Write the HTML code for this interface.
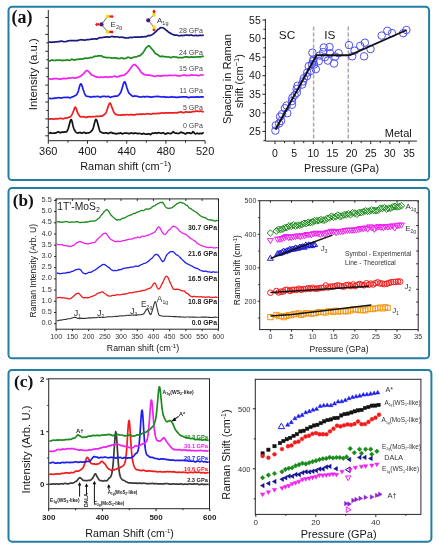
<!DOCTYPE html><html><head><meta charset="utf-8"><style>html,body{margin:0;padding:0;background:#fff;width:439px;height:550px;overflow:hidden}svg{display:block;filter:blur(0.3px)}</style></head><body>
<svg width="439" height="550" viewBox="0 0 439 550">
<rect x="0" y="0" width="439" height="550" fill="#fff"/>
<rect x="8.5" y="6.8" width="420.6" height="173.2" rx="3.6" ry="3.6" fill="none" stroke="#237ea3" stroke-width="2"/>
<rect x="8.5" y="188.1" width="420.6" height="170.2" rx="3.6" ry="3.6" fill="none" stroke="#237ea3" stroke-width="2"/>
<rect x="8.5" y="369.9" width="422.9" height="171.8" rx="3.6" ry="3.6" fill="none" stroke="#237ea3" stroke-width="2"/>
<text x="11.6" y="23.2" font-size="18" text-anchor="start" font-weight="bold" fill="#111" font-family='"Liberation Serif", serif' >(a)</text>
<text x="12.8" y="206" font-size="17.2" text-anchor="start" font-weight="bold" fill="#111" font-family='"Liberation Serif", serif' >(b)</text>
<text x="14" y="387.4" font-size="17.5" text-anchor="start" font-weight="bold" fill="#111" font-family='"Liberation Serif", serif' >(c)</text>
<line x1="48.3" y1="10" x2="48.3" y2="140.7" stroke="#262626" stroke-width="1" />
<line x1="48.3" y1="140.7" x2="205" y2="140.7" stroke="#262626" stroke-width="1" />
<line x1="45.3" y1="17.5" x2="48.3" y2="17.5" stroke="#262626" stroke-width="1" />
<line x1="46.3" y1="25.95" x2="48.3" y2="25.95" stroke="#262626" stroke-width="1" />
<line x1="45.3" y1="34.4" x2="48.3" y2="34.4" stroke="#262626" stroke-width="1" />
<line x1="46.3" y1="42.85" x2="48.3" y2="42.85" stroke="#262626" stroke-width="1" />
<line x1="45.3" y1="51.3" x2="48.3" y2="51.3" stroke="#262626" stroke-width="1" />
<line x1="46.3" y1="59.75" x2="48.3" y2="59.75" stroke="#262626" stroke-width="1" />
<line x1="45.3" y1="68.2" x2="48.3" y2="68.2" stroke="#262626" stroke-width="1" />
<line x1="46.3" y1="76.65" x2="48.3" y2="76.65" stroke="#262626" stroke-width="1" />
<line x1="45.3" y1="85.1" x2="48.3" y2="85.1" stroke="#262626" stroke-width="1" />
<line x1="46.3" y1="93.55" x2="48.3" y2="93.55" stroke="#262626" stroke-width="1" />
<line x1="45.3" y1="102" x2="48.3" y2="102" stroke="#262626" stroke-width="1" />
<line x1="46.3" y1="110.45" x2="48.3" y2="110.45" stroke="#262626" stroke-width="1" />
<line x1="45.3" y1="118.9" x2="48.3" y2="118.9" stroke="#262626" stroke-width="1" />
<line x1="46.3" y1="127.35" x2="48.3" y2="127.35" stroke="#262626" stroke-width="1" />
<line x1="45.3" y1="135.8" x2="48.3" y2="135.8" stroke="#262626" stroke-width="1" />
<line x1="48.3" y1="140.7" x2="48.3" y2="143.7" stroke="#262626" stroke-width="1" />
<line x1="67.9" y1="140.7" x2="67.9" y2="142.7" stroke="#262626" stroke-width="1" />
<line x1="87.5" y1="140.7" x2="87.5" y2="143.7" stroke="#262626" stroke-width="1" />
<line x1="107.1" y1="140.7" x2="107.1" y2="142.7" stroke="#262626" stroke-width="1" />
<line x1="126.7" y1="140.7" x2="126.7" y2="143.7" stroke="#262626" stroke-width="1" />
<line x1="146.3" y1="140.7" x2="146.3" y2="142.7" stroke="#262626" stroke-width="1" />
<line x1="165.9" y1="140.7" x2="165.9" y2="143.7" stroke="#262626" stroke-width="1" />
<line x1="185.5" y1="140.7" x2="185.5" y2="142.7" stroke="#262626" stroke-width="1" />
<line x1="205.1" y1="140.7" x2="205.1" y2="143.7" stroke="#262626" stroke-width="1" />
<text x="48.3" y="155.2" font-size="11" text-anchor="middle" font-weight="normal" fill="#161616" font-family='"Liberation Sans", sans-serif' >360</text>
<text x="87.5" y="155.2" font-size="11" text-anchor="middle" font-weight="normal" fill="#161616" font-family='"Liberation Sans", sans-serif' >400</text>
<text x="126.7" y="155.2" font-size="11" text-anchor="middle" font-weight="normal" fill="#161616" font-family='"Liberation Sans", sans-serif' >440</text>
<text x="165.9" y="155.2" font-size="11" text-anchor="middle" font-weight="normal" fill="#161616" font-family='"Liberation Sans", sans-serif' >480</text>
<text x="205.1" y="155.2" font-size="11" text-anchor="middle" font-weight="normal" fill="#161616" font-family='"Liberation Sans", sans-serif' >520</text>
<text x="125.8" y="169.5" font-size="10.9" text-anchor="middle" font-weight="normal" fill="#161616" font-family='"Liberation Sans", sans-serif' >Raman shift (cm<tspan dy="-4" font-size="7.2">−1</tspan><tspan dy="4">)</tspan></text>
<text x="0" y="0" font-size="11.4" text-anchor="middle" font-weight="normal" fill="#161616" font-family='"Liberation Sans", sans-serif' transform="translate(37.2,74.2) rotate(-90)">Intensity (a.u.)</text>
<path d="M48.8,133.23 L49.3,133.12 L49.8,132.95 L50.3,132.71 L50.8,132.68 L51.3,132.91 L51.8,133.15 L52.3,133.27 L52.8,133.27 L53.3,133.26 L53.8,133.22 L54.3,133.18 L54.8,133.16 L55.3,133.07 L55.8,132.93 L56.3,132.89 L56.8,132.52 L57.3,132.28 L57.8,131.76 L58.3,131.91 L58.8,131.8 L59.3,132.26 L59.8,132.45 L60.3,132.84 L60.8,132.53 L61.3,132.44 L61.8,132.09 L62.3,132.25 L62.8,132.18 L63.3,132.39 L63.8,132.08 L64.3,131.93 L64.8,131.95 L65.3,132 L65.8,132.04 L66.3,131.86 L66.8,131.49 L67.3,130.73 L67.8,129.75 L68.3,128.47 L68.8,126.56 L69.3,124.66 L69.8,122.69 L70.3,120.78 L70.8,119.81 L71.3,119.64 L71.8,120.72 L72.3,122.55 L72.8,124.92 L73.3,126.89 L73.8,128.45 L74.3,129.72 L74.8,130.54 L75.3,131.37 L75.8,131.99 L76.3,132.47 L76.8,132.79 L77.3,132.99 L77.8,133.08 L78.3,132.87 L78.8,132.85 L79.3,132.5 L79.8,132.54 L80.3,132.39 L80.8,132.66 L81.3,132.97 L81.8,133.16 L82.3,133.11 L82.8,132.92 L83.3,132.52 L83.8,132.4 L84.3,132.33 L84.8,132.74 L85.3,132.92 L85.8,133.34 L86.3,133.26 L86.8,133.03 L87.3,132.98 L87.8,132.87 L88.3,132.99 L88.8,132.82 L89.3,132.7 L89.8,132.39 L90.3,132.05 L90.8,131.72 L91.3,131.1 L91.8,130.77 L92.3,130.1 L92.8,129.27 L93.3,127.84 L93.8,125.96 L94.3,123.96 L94.8,121.85 L95.3,120.46 L95.8,119.36 L96.3,119.74 L96.8,120.48 L97.3,122.11 L97.8,123.78 L98.3,125.68 L98.8,127.5 L99.3,129.44 L99.8,130.84 L100.3,131.71 L100.8,132.04 L101.3,132.35 L101.8,132.38 L102.3,132.69 L102.8,132.92 L103.3,133.07 L103.8,133.05 L104.3,133.07 L104.8,132.97 L105.3,132.83 L105.8,132.84 L106.3,132.81 L106.8,133.08 L107.3,133.12 L107.8,133.49 L108.3,133.35 L108.8,133.4 L109.3,132.9 L109.8,132.66 L110.3,132.51 L110.8,132.41 L111.3,132.7 L111.8,132.6 L112.3,133.07 L112.8,132.79 L113.3,133.39 L113.8,133.26 L114.3,133.43 L114.8,133.41 L115.3,133.61 L115.8,133.83 L116.3,133.87 L116.8,133.85 L117.3,133.43 L117.8,133.35 L118.3,133.28 L118.8,133.5 L119.3,133.29 L119.8,133.3 L120.3,132.88 L120.8,133.11 L121.3,133.13 L121.8,133.66 L122.3,133.73 L122.8,133.87 L123.3,133.52 L123.8,133.33 L124.3,133.2 L124.8,133.16 L125.3,133.27 L125.8,133.09 L126.3,133 L126.8,133.12 L127.3,133.23 L127.8,133.39 L128.3,133.4 L128.8,133.63 L129.3,133.41 L129.8,133.57 L130.3,133.32 L130.8,133.04 L131.3,132.89 L131.8,133.03 L132.3,133.35 L132.8,133.34 L133.3,133.61 L133.8,133.36 L134.3,133.43 L134.8,133.19 L135.3,133.09 L135.8,133.09 L136.3,133.16 L136.8,133.5 L137.3,133.55 L137.8,133.67 L138.3,133.38 L138.8,133.46 L139.3,133.4 L139.8,133.5 L140.3,133.5 L140.8,133.73 L141.3,133.82 L141.8,134.07 L142.3,133.98 L142.8,133.66 L143.3,133.44 L143.8,133.42 L144.3,133.65 L144.8,133.87 L145.3,134.06 L145.8,134.1 L146.3,134.16 L146.8,134.14 L147.3,134.23 L147.8,133.83 L148.3,133.92 L148.8,133.65 L149.3,134 L149.8,134.12 L150.3,134.6 L150.8,134.45 L151.3,134 L151.8,133.56 L152.3,133.04 L152.8,133.07 L153.3,133.27 L153.8,133.37 L154.3,132.99 L154.8,132.83 L155.3,132.77 L155.8,132.92 L156.3,133.23 L156.8,133.37 L157.3,133.1 L157.8,132.91 L158.3,132.73 L158.8,132.61 L159.3,132.72 L159.8,132.9 L160.3,133.23 L160.8,133.27 L161.3,133.39 L161.8,133 L162.3,132.84 L162.8,132.78 L163.3,132.86 L163.8,133.12 L164.3,133.28 L164.8,133.82 L165.3,133.72 L165.8,134.04 L166.3,133.67 L166.8,133.73 L167.3,133.19 L167.8,133.22 L168.3,133.04 L168.8,133.17 L169.3,133.36 L169.8,133.47 L170.3,133.67 L170.8,133.58 L171.3,133.4 L171.8,133.08 L172.3,132.52 L172.8,131.92 L173.3,131.67 L173.8,132.06 L174.3,132.59 L174.8,133.04 L175.3,133.21 L175.8,133.21 L176.3,133.1 L176.8,133.34 L177.3,133.43 L177.8,133.47 L178.3,133.36 L178.8,133.38 L179.3,133.38 L179.8,133.02 L180.3,132.66 L180.8,132.05 L181.3,132.27 L181.8,132.33 L182.3,132.83 L182.8,132.73 L183.3,132.8 L183.8,132.97 L184.3,133.37 L184.8,133.72 L185.3,133.86 L185.8,133.89 L186.3,133.33 L186.8,133.01 L187.3,132.75 L187.8,132.9 L188.3,132.78 L188.8,133.06 L189.3,132.85 L189.8,133.07 L190.3,133.18 L190.8,133.42 L191.3,133.48 L191.8,133.17 L192.3,132.66 L192.8,131.68 L193.3,131.83 L193.8,132.17 L194.3,133.14 L194.8,133.57 L195.3,133.92 L195.8,133.72 L196.3,133.5 L196.8,133.33 L197.3,133.19 L197.8,133.41 L198.3,133.58 L198.8,133.79 L199.3,133.64 L199.8,133.38 L200.3,133.29 L200.8,133.36 L201.3,133.65 L201.8,133.61 L202.3,133.4 L202.8,133.04 L203.3,132.89 L203.8,132.99" fill="none" stroke="#111" stroke-width="1.7" stroke-linejoin="round"/>
<path d="M48.8,119.32 L49.3,119.2 L49.8,119.17 L50.3,118.96 L50.8,118.92 L51.3,118.76 L51.8,118.86 L52.3,118.8 L52.8,119.01 L53.3,119.07 L53.8,119.17 L54.3,119.09 L54.8,119.01 L55.3,118.88 L55.8,118.7 L56.3,118.71 L56.8,118.84 L57.3,118.9 L57.8,118.96 L58.3,118.78 L58.8,118.66 L59.3,118.35 L59.8,118.29 L60.3,118.29 L60.8,118.3 L61.3,118.45 L61.8,118.57 L62.3,118.75 L62.8,118.71 L63.3,118.81 L63.8,118.69 L64.3,118.54 L64.8,118.22 L65.3,118.02 L65.8,117.89 L66.3,118.05 L66.8,118.09 L67.3,118 L67.8,117.7 L68.3,117.47 L68.8,117.3 L69.3,117.27 L69.8,117.12 L70.3,116.82 L70.8,116.34 L71.3,115.71 L71.8,114.87 L72.3,113.85 L72.8,112.75 L73.3,111.46 L73.8,110.1 L74.3,108.64 L74.8,107.71 L75.3,107.21 L75.8,107.73 L76.3,108.81 L76.8,110.41 L77.3,111.93 L77.8,113.22 L78.3,114.23 L78.8,114.82 L79.3,115.49 L79.8,116.15 L80.3,116.74 L80.8,117.01 L81.3,116.96 L81.8,116.85 L82.3,116.69 L82.8,116.69 L83.3,116.78 L83.8,116.75 L84.3,116.89 L84.8,116.98 L85.3,117.3 L85.8,117.3 L86.3,117.38 L86.8,117.18 L87.3,117.07 L87.8,116.91 L88.3,116.8 L88.8,116.6 L89.3,116.57 L89.8,116.59 L90.3,116.75 L90.8,116.9 L91.3,116.88 L91.8,116.73 L92.3,116.56 L92.8,116.57 L93.3,116.54 L93.8,116.74 L94.3,116.77 L94.8,116.69 L95.3,116.49 L95.8,116.42 L96.3,116.36 L96.8,116.29 L97.3,116.4 L97.8,116.37 L98.3,116.53 L98.8,116.46 L99.3,116.52 L99.8,116.15 L100.3,116.17 L100.8,116.01 L101.3,116.26 L101.8,116.06 L102.3,116.05 L102.8,115.46 L103.3,115.2 L103.8,114.81 L104.3,114.5 L104.8,114.19 L105.3,113.66 L105.8,112.93 L106.3,111.81 L106.8,110.59 L107.3,109.16 L107.8,107.64 L108.3,106.18 L108.8,104.79 L109.3,103.69 L109.8,103.12 L110.3,103.29 L110.8,104.2 L111.3,105.43 L111.8,106.97 L112.3,108.35 L112.8,109.67 L113.3,110.84 L113.8,111.93 L114.3,112.95 L114.8,113.56 L115.3,114.19 L115.8,114.35 L116.3,114.59 L116.8,114.66 L117.3,114.81 L117.8,114.98 L118.3,115.05 L118.8,115.09 L119.3,115.01 L119.8,114.98 L120.3,115.08 L120.8,115.08 L121.3,115.19 L121.8,114.97 L122.3,114.99 L122.8,114.78 L123.3,114.8 L123.8,114.7 L124.3,114.85 L124.8,114.82 L125.3,114.88 L125.8,114.78 L126.3,114.66 L126.8,114.61 L127.3,114.67 L127.8,114.76 L128.3,114.79 L128.8,114.81 L129.3,114.87 L129.8,114.8 L130.3,114.76 L130.8,114.46 L131.3,114.58 L131.8,114.54 L132.3,114.83 L132.8,114.84 L133.3,114.95 L133.8,114.79 L134.3,114.94 L134.8,114.86 L135.3,114.79 L135.8,114.48 L136.3,114.24 L136.8,114.15 L137.3,114.32 L137.8,114.49 L138.3,114.45 L138.8,114.36 L139.3,114.33 L139.8,114.14 L140.3,114.28 L140.8,114.09 L141.3,114.28 L141.8,114.08 L142.3,114.32 L142.8,114.05 L143.3,114.01 L143.8,113.95 L144.3,114.14 L144.8,114.29 L145.3,114.3 L145.8,114.09 L146.3,113.83 L146.8,113.68 L147.3,113.78 L147.8,113.88 L148.3,113.92 L148.8,113.9 L149.3,113.82 L149.8,113.95 L150.3,114.15 L150.8,114.32 L151.3,114.27 L151.8,114.08 L152.3,113.82 L152.8,113.62 L153.3,113.57 L153.8,113.52 L154.3,113.57 L154.8,113.57 L155.3,113.7 L155.8,113.66 L156.3,113.66 L156.8,113.48 L157.3,113.38 L157.8,113.28 L158.3,113.33 L158.8,113.37 L159.3,113.36 L159.8,113.33 L160.3,113.16 L160.8,113.11 L161.3,113.01 L161.8,112.96 L162.3,112.93 L162.8,112.95 L163.3,113.08 L163.8,113.1 L164.3,113.18 L164.8,113.04 L165.3,112.96 L165.8,112.88 L166.3,112.93 L166.8,112.85 L167.3,112.93 L167.8,112.89 L168.3,112.97 L168.8,112.92 L169.3,113 L169.8,112.82 L170.3,112.83 L170.8,112.75 L171.3,112.88 L171.8,112.88 L172.3,112.93 L172.8,112.83 L173.3,112.77 L173.8,112.78 L174.3,112.82 L174.8,112.73 L175.3,112.69 L175.8,112.62 L176.3,112.77 L176.8,112.85 L177.3,112.8 L177.8,112.7 L178.3,112.47 L178.8,112.29 L179.3,112.2 L179.8,112.04 L180.3,111.95 L180.8,111.82 L181.3,112.08 L181.8,112.1 L182.3,112.33 L182.8,112.48 L183.3,112.68 L183.8,112.67 L184.3,112.64 L184.8,112.35 L185.3,112.06 L185.8,111.87 L186.3,111.93 L186.8,112.03 L187.3,112.2 L187.8,112.17 L188.3,112.12 L188.8,112.03 L189.3,112.07 L189.8,112.12 L190.3,112.21 L190.8,112.18 L191.3,112.07 L191.8,111.86 L192.3,111.62 L192.8,111.51 L193.3,111.47 L193.8,111.58 L194.3,111.52 L194.8,111.55 L195.3,111.32 L195.8,111.28 L196.3,111.06 L196.8,111.08 L197.3,111.09 L197.8,111.28 L198.3,111.41 L198.8,111.53 L199.3,111.51 L199.8,111.24 L200.3,111.16 L200.8,111.04 L201.3,111.2 L201.8,111.37 L202.3,111.7 L202.8,111.78 L203.3,111.67 L203.8,111.5" fill="none" stroke="#f21a1a" stroke-width="1.7" stroke-linejoin="round"/>
<path d="M48.8,98.44 L49.3,98.43 L49.8,98.4 L50.3,98.54 L50.8,98.56 L51.3,98.63 L51.8,98.49 L52.3,98.46 L52.8,98.34 L53.3,98.5 L53.8,98.37 L54.3,98.34 L54.8,98.06 L55.3,98.1 L55.8,98.09 L56.3,98.1 L56.8,98 L57.3,97.84 L57.8,97.72 L58.3,97.58 L58.8,97.68 L59.3,97.74 L59.8,97.89 L60.3,97.9 L60.8,98.03 L61.3,97.87 L61.8,97.95 L62.3,97.78 L62.8,97.74 L63.3,97.53 L63.8,97.44 L64.3,97.44 L64.8,97.49 L65.3,97.52 L65.8,97.45 L66.3,97.37 L66.8,97.39 L67.3,97.31 L67.8,97.35 L68.3,97.32 L68.8,97.5 L69.3,97.7 L69.8,97.82 L70.3,97.78 L70.8,97.6 L71.3,97.35 L71.8,97.12 L72.3,96.93 L72.8,96.79 L73.3,96.58 L73.8,96.36 L74.3,96.07 L74.8,95.82 L75.3,95.52 L75.8,95.34 L76.3,94.94 L76.8,94.42 L77.3,93.48 L77.8,92.42 L78.3,90.89 L78.8,89.2 L79.3,87.25 L79.8,85.69 L80.3,84.37 L80.8,83.89 L81.3,84.09 L81.8,85.11 L82.3,86.62 L82.8,88.26 L83.3,89.92 L83.8,91.28 L84.3,92.75 L84.8,93.9 L85.3,94.98 L85.8,95.59 L86.3,96.07 L86.8,96.2 L87.3,96.36 L87.8,96.45 L88.3,96.51 L88.8,96.58 L89.3,96.62 L89.8,96.81 L90.3,96.87 L90.8,97.07 L91.3,97.12 L91.8,96.94 L92.3,96.78 L92.8,96.51 L93.3,96.63 L93.8,96.67 L94.3,96.85 L94.8,96.69 L95.3,96.64 L95.8,96.48 L96.3,96.5 L96.8,96.47 L97.3,96.58 L97.8,96.37 L98.3,96.49 L98.8,96.48 L99.3,96.82 L99.8,97.04 L100.3,97.29 L100.8,97.09 L101.3,96.83 L101.8,96.48 L102.3,96.3 L102.8,96.32 L103.3,96.36 L103.8,96.46 L104.3,96.35 L104.8,96.49 L105.3,96.43 L105.8,96.64 L106.3,96.61 L106.8,96.66 L107.3,96.58 L107.8,96.42 L108.3,96.38 L108.8,96.48 L109.3,96.81 L109.8,97.14 L110.3,97.35 L110.8,97.21 L111.3,97.06 L111.8,96.81 L112.3,96.76 L112.8,96.59 L113.3,96.57 L113.8,96.38 L114.3,96.34 L114.8,96.18 L115.3,96.1 L115.8,96.15 L116.3,96.18 L116.8,96.21 L117.3,96.07 L117.8,95.89 L118.3,95.41 L118.8,95.02 L119.3,94.49 L119.8,93.87 L120.3,93.07 L120.8,92.19 L121.3,90.88 L121.8,89.38 L122.3,87.56 L122.8,85.95 L123.3,84.08 L123.8,82.82 L124.3,81.81 L124.8,81.84 L125.3,82.5 L125.8,84.08 L126.3,85.63 L126.8,87.41 L127.3,88.85 L127.8,90.35 L128.3,91.58 L128.8,92.72 L129.3,93.43 L129.8,94.01 L130.3,94.39 L130.8,94.77 L131.3,95.14 L131.8,95.61 L132.3,96.03 L132.8,96.31 L133.3,96.39 L133.8,96.24 L134.3,96.08 L134.8,95.94 L135.3,96.04 L135.8,96.17 L136.3,96.2 L136.8,96.28 L137.3,96.34 L137.8,96.51 L138.3,96.61 L138.8,96.85 L139.3,96.82 L139.8,96.96 L140.3,96.98 L140.8,97.08 L141.3,97.04 L141.8,96.91 L142.3,96.77 L142.8,96.61 L143.3,96.66 L143.8,96.57 L144.3,96.81 L144.8,96.81 L145.3,96.89 L145.8,96.67 L146.3,96.61 L146.8,96.44 L147.3,96.49 L147.8,96.63 L148.3,96.7 L148.8,96.79 L149.3,96.74 L149.8,96.84 L150.3,96.86 L150.8,97.16 L151.3,97.19 L151.8,97.27 L152.3,96.98 L152.8,96.91 L153.3,96.65 L153.8,96.76 L154.3,96.71 L154.8,96.71 L155.3,96.61 L155.8,96.6 L156.3,96.46 L156.8,96.35 L157.3,96.3 L157.8,96.42 L158.3,96.56 L158.8,96.65 L159.3,96.67 L159.8,96.67 L160.3,96.8 L160.8,96.94 L161.3,97 L161.8,97.01 L162.3,96.87 L162.8,96.8 L163.3,96.67 L163.8,96.79 L164.3,96.83 L164.8,97.12 L165.3,97.16 L165.8,97.3 L166.3,97.07 L166.8,97.07 L167.3,97.1 L167.8,97.27 L168.3,97.33 L168.8,97.27 L169.3,97.18 L169.8,97.09 L170.3,97.06 L170.8,96.99 L171.3,96.84 L171.8,96.71 L172.3,96.71 L172.8,96.92 L173.3,97.13 L173.8,97.28 L174.3,97.16 L174.8,97.19 L175.3,97.16 L175.8,97.33 L176.3,97.4 L176.8,97.42 L177.3,97.41 L177.8,97.2 L178.3,97.18 L178.8,97.05 L179.3,97.11 L179.8,97.01 L180.3,97.11 L180.8,97.03 L181.3,97.02 L181.8,96.93 L182.3,96.89 L182.8,96.83 L183.3,96.86 L183.8,96.86 L184.3,96.9 L184.8,96.94 L185.3,96.9 L185.8,96.89 L186.3,96.8 L186.8,96.93 L187.3,97.05 L187.8,97.46 L188.3,97.57 L188.8,97.66 L189.3,97.42 L189.8,97.25 L190.3,97.19 L190.8,97.13 L191.3,97.19 L191.8,97.05 L192.3,97.24 L192.8,97.14 L193.3,97.25 L193.8,97.11 L194.3,97.09 L194.8,97.05 L195.3,97.12 L195.8,97.1 L196.3,96.9 L196.8,96.81 L197.3,96.78 L197.8,96.95 L198.3,97.04 L198.8,97.24 L199.3,97.14 L199.8,97.06 L200.3,96.94 L200.8,96.98 L201.3,96.86 L201.8,97.05 L202.3,96.95 L202.8,96.97 L203.3,96.79 L203.8,96.84" fill="none" stroke="#1c1cf0" stroke-width="1.7" stroke-linejoin="round"/>
<path d="M48.8,79.01 L49.3,78.86 L49.8,78.82 L50.3,78.87 L50.8,78.96 L51.3,79.09 L51.8,79.06 L52.3,78.96 L52.8,78.89 L53.3,78.83 L53.8,78.78 L54.3,78.65 L54.8,78.64 L55.3,78.61 L55.8,78.59 L56.3,78.58 L56.8,78.65 L57.3,78.68 L57.8,78.83 L58.3,78.94 L58.8,79.04 L59.3,79.14 L59.8,79.04 L60.3,79.06 L60.8,78.76 L61.3,78.86 L61.8,78.81 L62.3,78.84 L62.8,78.64 L63.3,78.43 L63.8,78.35 L64.3,78.41 L64.8,78.59 L65.3,78.66 L65.8,78.59 L66.3,78.53 L66.8,78.54 L67.3,78.32 L67.8,78.29 L68.3,77.99 L68.8,78.14 L69.3,78.01 L69.8,78.18 L70.3,78.07 L70.8,78 L71.3,77.87 L71.8,77.67 L72.3,77.65 L72.8,77.62 L73.3,77.84 L73.8,77.96 L74.3,78.14 L74.8,78.05 L75.3,77.99 L75.8,77.84 L76.3,77.84 L76.8,77.71 L77.3,77.62 L77.8,77.4 L78.3,77.2 L78.8,76.9 L79.3,76.81 L79.8,76.55 L80.3,76.41 L80.8,75.97 L81.3,75.69 L81.8,75.16 L82.3,74.74 L82.8,74.33 L83.3,73.85 L83.8,73.48 L84.3,72.89 L84.8,72.33 L85.3,71.57 L85.8,71.04 L86.3,70.68 L86.8,70.64 L87.3,70.82 L87.8,71.02 L88.3,71.36 L88.8,71.64 L89.3,72.28 L89.8,72.77 L90.3,73.53 L90.8,74.03 L91.3,74.68 L91.8,75 L92.3,75.29 L92.8,75.44 L93.3,75.5 L93.8,75.63 L94.3,76.01 L94.8,76.33 L95.3,76.73 L95.8,76.77 L96.3,76.95 L96.8,76.79 L97.3,76.97 L97.8,77 L98.3,77.29 L98.8,77.38 L99.3,77.5 L99.8,77.35 L100.3,77.28 L100.8,77.08 L101.3,77.21 L101.8,77.2 L102.3,77.45 L102.8,77.25 L103.3,77.26 L103.8,77.06 L104.3,77.09 L104.8,76.99 L105.3,77.04 L105.8,76.89 L106.3,76.82 L106.8,76.99 L107.3,77.27 L107.8,77.38 L108.3,77.3 L108.8,77.04 L109.3,76.88 L109.8,76.79 L110.3,76.87 L110.8,76.89 L111.3,76.97 L111.8,76.96 L112.3,76.92 L112.8,76.71 L113.3,76.46 L113.8,76.15 L114.3,76.23 L114.8,76.21 L115.3,76.49 L115.8,76.65 L116.3,76.97 L116.8,76.9 L117.3,76.89 L117.8,76.75 L118.3,76.6 L118.8,76.4 L119.3,76.27 L119.8,75.97 L120.3,75.94 L120.8,75.71 L121.3,75.7 L121.8,75.39 L122.3,75.39 L122.8,75.24 L123.3,75.32 L123.8,75.22 L124.3,75.11 L124.8,74.7 L125.3,74.39 L125.8,73.8 L126.3,73.48 L126.8,72.98 L127.3,72.61 L127.8,72 L128.3,71.41 L128.8,70.77 L129.3,70.08 L129.8,69.51 L130.3,68.92 L130.8,68.13 L131.3,67.33 L131.8,66.6 L132.3,65.95 L132.8,65.43 L133.3,65.07 L133.8,64.73 L134.3,64.47 L134.8,64.53 L135.3,64.91 L135.8,65.36 L136.3,65.95 L136.8,66.35 L137.3,66.88 L137.8,67.27 L138.3,67.89 L138.8,68.59 L139.3,69.43 L139.8,70.27 L140.3,71.07 L140.8,71.77 L141.3,72.3 L141.8,72.77 L142.3,73.25 L142.8,73.56 L143.3,74.03 L143.8,74.29 L144.3,74.6 L144.8,74.65 L145.3,74.76 L145.8,74.81 L146.3,74.89 L146.8,75.17 L147.3,75.24 L147.8,75.26 L148.3,75.11 L148.8,74.94 L149.3,74.94 L149.8,75.11 L150.3,75.53 L150.8,75.63 L151.3,75.7 L151.8,75.72 L152.3,75.74 L152.8,75.88 L153.3,76.03 L153.8,76.26 L154.3,76.34 L154.8,76.44 L155.3,76.39 L155.8,76.25 L156.3,76.01 L156.8,75.83 L157.3,75.72 L157.8,75.58 L158.3,75.58 L158.8,75.61 L159.3,75.92 L159.8,75.94 L160.3,76.1 L160.8,75.92 L161.3,75.92 L161.8,75.84 L162.3,75.93 L162.8,75.9 L163.3,75.66 L163.8,75.46 L164.3,75.36 L164.8,75.47 L165.3,75.57 L165.8,75.64 L166.3,75.62 L166.8,75.65 L167.3,75.65 L167.8,75.72 L168.3,75.54 L168.8,75.39 L169.3,75.38 L169.8,75.33 L170.3,75.45 L170.8,75.42 L171.3,75.53 L171.8,75.41 L172.3,75.52 L172.8,75.51 L173.3,75.53 L173.8,75.42 L174.3,75.41 L174.8,75.24 L175.3,75.26 L175.8,75.27 L176.3,75.48 L176.8,75.63 L177.3,75.71 L177.8,75.81 L178.3,75.81 L178.8,75.92 L179.3,76 L179.8,76.03 L180.3,75.91 L180.8,75.76 L181.3,75.53 L181.8,75.45 L182.3,75.31 L182.8,75.33 L183.3,75.1 L183.8,75.09 L184.3,74.98 L184.8,75.13 L185.3,75.34 L185.8,75.55 L186.3,75.6 L186.8,75.44 L187.3,75.34 L187.8,75.21 L188.3,75.31 L188.8,75.46 L189.3,75.59 L189.8,75.49 L190.3,75.29 L190.8,74.97 L191.3,74.72 L191.8,74.79 L192.3,74.99 L192.8,75.1 L193.3,75.18 L193.8,75.26 L194.3,75.25 L194.8,75.23 L195.3,75.2 L195.8,75.1 L196.3,75.07 L196.8,75.25 L197.3,75.44 L197.8,75.6 L198.3,75.69 L198.8,75.68 L199.3,75.45 L199.8,75.23 L200.3,74.99 L200.8,74.91 L201.3,74.97 L201.8,75.04 L202.3,75.01 L202.8,75.01 L203.3,75.01 L203.8,75.06" fill="none" stroke="#f020f0" stroke-width="1.7" stroke-linejoin="round"/>
<path d="M48.8,60.76 L49.3,60.83 L49.8,60.89 L50.3,60.64 L50.8,60.43 L51.3,60.12 L51.8,60.01 L52.3,60.04 L52.8,60.3 L53.3,60.4 L53.8,60.4 L54.3,60.5 L54.8,60.42 L55.3,60.38 L55.8,60.29 L56.3,60.3 L56.8,60.17 L57.3,60.28 L57.8,60.28 L58.3,60.22 L58.8,60.11 L59.3,60.17 L59.8,60.13 L60.3,60.22 L60.8,60.2 L61.3,60.41 L61.8,60.35 L62.3,60.61 L62.8,60.42 L63.3,60.43 L63.8,60.19 L64.3,60.27 L64.8,60.31 L65.3,60.36 L65.8,60.32 L66.3,60.11 L66.8,59.96 L67.3,59.9 L67.8,60.04 L68.3,60.16 L68.8,60.3 L69.3,60.31 L69.8,60.29 L70.3,60.06 L70.8,59.78 L71.3,59.4 L71.8,59.36 L72.3,59.32 L72.8,59.67 L73.3,59.72 L73.8,60.02 L74.3,59.98 L74.8,60.06 L75.3,59.86 L75.8,59.68 L76.3,59.5 L76.8,59.36 L77.3,59.33 L77.8,59.39 L78.3,59.28 L78.8,59.3 L79.3,59.06 L79.8,59.07 L80.3,58.95 L80.8,59.1 L81.3,59.15 L81.8,59.01 L82.3,59 L82.8,58.74 L83.3,58.83 L83.8,58.69 L84.3,58.58 L84.8,58.29 L85.3,58.1 L85.8,58.18 L86.3,58.26 L86.8,58.49 L87.3,58.28 L87.8,58.19 L88.3,58.05 L88.8,58.11 L89.3,58.01 L89.8,57.74 L90.3,57.47 L90.8,57.36 L91.3,57.49 L91.8,57.63 L92.3,57.57 L92.8,57.27 L93.3,56.95 L93.8,56.6 L94.3,56.45 L94.8,56.21 L95.3,56.3 L95.8,56.24 L96.3,56.36 L96.8,56.26 L97.3,56.08 L97.8,55.92 L98.3,55.83 L98.8,55.81 L99.3,55.79 L99.8,55.86 L100.3,55.81 L100.8,55.88 L101.3,55.88 L101.8,56.09 L102.3,56.3 L102.8,56.85 L103.3,57.04 L103.8,57.25 L104.3,57.2 L104.8,57.25 L105.3,57.27 L105.8,57.55 L106.3,57.67 L106.8,57.68 L107.3,57.53 L107.8,57.52 L108.3,57.48 L108.8,57.57 L109.3,57.63 L109.8,57.69 L110.3,57.78 L110.8,57.87 L111.3,58.07 L111.8,58.16 L112.3,58.07 L112.8,57.99 L113.3,57.94 L113.8,57.94 L114.3,57.81 L114.8,57.84 L115.3,57.83 L115.8,58.06 L116.3,58.1 L116.8,58.46 L117.3,58.25 L117.8,58.45 L118.3,58.31 L118.8,58.63 L119.3,58.5 L119.8,58.46 L120.3,58.32 L120.8,58.09 L121.3,57.87 L121.8,57.97 L122.3,58.07 L122.8,58.46 L123.3,58.43 L123.8,58.69 L124.3,58.45 L124.8,58.62 L125.3,58.53 L125.8,58.44 L126.3,58.14 L126.8,57.71 L127.3,57.43 L127.8,57.29 L128.3,57.31 L128.8,57.4 L129.3,57.52 L129.8,57.8 L130.3,57.93 L130.8,58.11 L131.3,58.14 L131.8,57.95 L132.3,57.73 L132.8,57.53 L133.3,57.39 L133.8,57.26 L134.3,57.03 L134.8,56.97 L135.3,56.91 L135.8,56.97 L136.3,56.98 L136.8,56.75 L137.3,56.48 L137.8,56.01 L138.3,55.93 L138.8,55.93 L139.3,56.01 L139.8,55.84 L140.3,55.51 L140.8,54.9 L141.3,54.42 L141.8,53.93 L142.3,53.55 L142.8,52.98 L143.3,52.36 L143.8,51.62 L144.3,50.71 L144.8,49.9 L145.3,48.95 L145.8,48.31 L146.3,47.57 L146.8,47.13 L147.3,46.66 L147.8,46.3 L148.3,45.99 L148.8,45.77 L149.3,45.89 L149.8,46.29 L150.3,47.02 L150.8,47.67 L151.3,48.4 L151.8,48.82 L152.3,49.53 L152.8,50.01 L153.3,50.6 L153.8,51.2 L154.3,51.98 L154.8,52.7 L155.3,53.29 L155.8,53.77 L156.3,54.02 L156.8,54.18 L157.3,54.53 L157.8,54.77 L158.3,55.13 L158.8,55.56 L159.3,55.92 L159.8,56.38 L160.3,56.44 L160.8,56.64 L161.3,56.36 L161.8,56.3 L162.3,56.18 L162.8,56.3 L163.3,56.55 L163.8,56.68 L164.3,56.79 L164.8,56.67 L165.3,56.66 L165.8,56.64 L166.3,56.74 L166.8,56.93 L167.3,57.04 L167.8,57.02 L168.3,56.99 L168.8,56.91 L169.3,57.03 L169.8,57.33 L170.3,57.6 L170.8,57.69 L171.3,57.57 L171.8,57.31 L172.3,56.99 L172.8,56.79 L173.3,56.74 L173.8,56.73 L174.3,56.91 L174.8,56.99 L175.3,57.12 L175.8,57 L176.3,57.12 L176.8,57.1 L177.3,57.44 L177.8,57.53 L178.3,57.78 L178.8,57.61 L179.3,57.6 L179.8,57.58 L180.3,57.5 L180.8,57.55 L181.3,57.5 L181.8,57.57 L182.3,57.48 L182.8,57.6 L183.3,57.45 L183.8,57.34 L184.3,57.13 L184.8,57.01 L185.3,56.78 L185.8,56.8 L186.3,56.79 L186.8,56.94 L187.3,56.91 L187.8,57.09 L188.3,57.14 L188.8,57.38 L189.3,57.32 L189.8,57.33 L190.3,57.12 L190.8,57.06 L191.3,56.91 L191.8,56.94 L192.3,57.06 L192.8,57.06 L193.3,57.21 L193.8,57.11 L194.3,57.12 L194.8,57 L195.3,57.03 L195.8,56.99 L196.3,56.94 L196.8,57 L197.3,56.94 L197.8,56.93 L198.3,56.82 L198.8,56.84 L199.3,56.79 L199.8,56.97 L200.3,56.75 L200.8,56.85 L201.3,56.64 L201.8,56.57 L202.3,56.41 L202.8,56.26 L203.3,56.31 L203.8,56.32" fill="none" stroke="#1a8a1a" stroke-width="1.7" stroke-linejoin="round"/>
<path d="M48.8,42.15 L49.3,42.11 L49.8,42.04 L50.3,42.06 L50.8,42.21 L51.3,42.29 L51.8,42.33 L52.3,42.09 L52.8,42.05 L53.3,42.04 L53.8,42.11 L54.3,42.14 L54.8,42.03 L55.3,41.83 L55.8,41.86 L56.3,41.86 L56.8,41.88 L57.3,41.71 L57.8,41.66 L58.3,41.58 L58.8,41.66 L59.3,41.67 L59.8,41.61 L60.3,41.34 L60.8,41.16 L61.3,41.1 L61.8,41.12 L62.3,41.27 L62.8,41.45 L63.3,41.64 L63.8,41.62 L64.3,41.76 L64.8,41.75 L65.3,41.71 L65.8,41.6 L66.3,41.51 L66.8,41.29 L67.3,41.18 L67.8,41.08 L68.3,40.87 L68.8,40.75 L69.3,40.67 L69.8,40.69 L70.3,40.57 L70.8,40.63 L71.3,40.54 L71.8,40.62 L72.3,40.6 L72.8,40.73 L73.3,40.58 L73.8,40.6 L74.3,40.59 L74.8,40.66 L75.3,40.63 L75.8,40.67 L76.3,40.62 L76.8,40.55 L77.3,40.52 L77.8,40.59 L78.3,40.36 L78.8,40.28 L79.3,39.98 L79.8,39.86 L80.3,39.69 L80.8,39.76 L81.3,39.83 L81.8,39.83 L82.3,39.95 L82.8,39.97 L83.3,39.99 L83.8,39.96 L84.3,40.06 L84.8,40.11 L85.3,40.09 L85.8,40 L86.3,39.78 L86.8,39.62 L87.3,39.59 L87.8,39.61 L88.3,39.58 L88.8,39.59 L89.3,39.51 L89.8,39.48 L90.3,39.34 L90.8,39.21 L91.3,38.95 L91.8,39.09 L92.3,39.08 L92.8,39.21 L93.3,39.03 L93.8,38.91 L94.3,38.73 L94.8,38.76 L95.3,38.95 L95.8,38.97 L96.3,39.11 L96.8,38.94 L97.3,38.91 L97.8,38.51 L98.3,38.34 L98.8,38.03 L99.3,37.96 L99.8,37.69 L100.3,37.73 L100.8,37.55 L101.3,37.6 L101.8,37.49 L102.3,37.53 L102.8,37.43 L103.3,37.31 L103.8,37.21 L104.3,37.08 L104.8,37.06 L105.3,37.04 L105.8,37.05 L106.3,36.96 L106.8,36.85 L107.3,36.89 L107.8,36.89 L108.3,37.09 L108.8,37.13 L109.3,37.21 L109.8,37.15 L110.3,37.03 L110.8,36.79 L111.3,36.48 L111.8,36.43 L112.3,36.42 L112.8,36.59 L113.3,36.79 L113.8,36.75 L114.3,36.84 L114.8,36.69 L115.3,36.81 L115.8,36.74 L116.3,36.86 L116.8,36.77 L117.3,36.77 L117.8,36.83 L118.3,36.98 L118.8,37.25 L119.3,37.38 L119.8,37.39 L120.3,37.23 L120.8,37.21 L121.3,37.06 L121.8,37.29 L122.3,37.26 L122.8,37.43 L123.3,37.38 L123.8,37.59 L124.3,37.63 L124.8,37.82 L125.3,37.88 L125.8,37.97 L126.3,37.96 L126.8,37.99 L127.3,38.01 L127.8,37.95 L128.3,37.91 L128.8,37.67 L129.3,37.59 L129.8,37.46 L130.3,37.39 L130.8,37.47 L131.3,37.47 L131.8,37.59 L132.3,37.37 L132.8,37.37 L133.3,37.21 L133.8,37.23 L134.3,37.27 L134.8,37.17 L135.3,37.17 L135.8,36.95 L136.3,37.19 L136.8,37.03 L137.3,37.25 L137.8,37.05 L138.3,37.23 L138.8,37.08 L139.3,37.15 L139.8,37.13 L140.3,37.1 L140.8,37.09 L141.3,36.93 L141.8,36.79 L142.3,36.68 L142.8,36.83 L143.3,36.94 L143.8,36.8 L144.3,36.71 L144.8,36.56 L145.3,36.61 L145.8,36.74 L146.3,36.7 L146.8,36.46 L147.3,36.03 L147.8,35.71 L148.3,35.49 L148.8,35.4 L149.3,35.58 L149.8,35.53 L150.3,35.54 L150.8,35.21 L151.3,35.1 L151.8,34.84 L152.3,34.55 L152.8,34.22 L153.3,33.82 L153.8,33.41 L154.3,33.01 L154.8,32.67 L155.3,32.21 L155.8,31.68 L156.3,31.17 L156.8,30.59 L157.3,30.05 L157.8,29.57 L158.3,29.34 L158.8,29 L159.3,28.59 L159.8,28.17 L160.3,27.81 L160.8,27.67 L161.3,27.68 L161.8,27.77 L162.3,27.77 L162.8,27.86 L163.3,28.01 L163.8,28.2 L164.3,28.59 L164.8,28.99 L165.3,29.51 L165.8,29.9 L166.3,30.37 L166.8,30.56 L167.3,30.98 L167.8,31.46 L168.3,31.84 L168.8,32.35 L169.3,32.55 L169.8,32.9 L170.3,33.12 L170.8,33.53 L171.3,33.68 L171.8,34.06 L172.3,34.2 L172.8,34.48 L173.3,34.54 L173.8,34.91 L174.3,34.89 L174.8,35.17 L175.3,35.1 L175.8,35.27 L176.3,35.11 L176.8,35.23 L177.3,35.26 L177.8,35.42 L178.3,35.52 L178.8,35.72 L179.3,35.8 L179.8,35.72 L180.3,35.66 L180.8,35.47 L181.3,35.44 L181.8,35.47 L182.3,35.63 L182.8,35.55 L183.3,35.52 L183.8,35.41 L184.3,35.3 L184.8,35.37 L185.3,35.22 L185.8,35.19 L186.3,35.04 L186.8,35.14 L187.3,35.17 L187.8,35.25 L188.3,35.33 L188.8,35.28 L189.3,35.33 L189.8,35.16 L190.3,35.08 L190.8,34.99 L191.3,34.95 L191.8,35.09 L192.3,35.23 L192.8,35.46 L193.3,35.65 L193.8,35.72 L194.3,35.61 L194.8,35.44 L195.3,35.32 L195.8,35.39 L196.3,35.42 L196.8,35.6 L197.3,35.54 L197.8,35.61 L198.3,35.54 L198.8,35.53 L199.3,35.42 L199.8,35.34 L200.3,35.32 L200.8,35.24 L201.3,35.35 L201.8,35.27 L202.3,35.4 L202.8,35.24 L203.3,35.27 L203.8,35.06" fill="none" stroke="#1a1a80" stroke-width="1.7" stroke-linejoin="round"/>
<text x="202.8" y="33.3" font-size="7" text-anchor="end" font-weight="normal" fill="#444" font-family='"Liberation Sans", sans-serif' >28 GPa</text>
<text x="202.8" y="55.2" font-size="7" text-anchor="end" font-weight="normal" fill="#444" font-family='"Liberation Sans", sans-serif' >24 GPa</text>
<text x="202.8" y="70.8" font-size="7" text-anchor="end" font-weight="normal" fill="#444" font-family='"Liberation Sans", sans-serif' >15 GPa</text>
<text x="202.8" y="92.8" font-size="7" text-anchor="end" font-weight="normal" fill="#444" font-family='"Liberation Sans", sans-serif' >11 GPa</text>
<text x="202.8" y="109.6" font-size="7" text-anchor="end" font-weight="normal" fill="#444" font-family='"Liberation Sans", sans-serif' >5 GPa</text>
<text x="202.8" y="128.4" font-size="7" text-anchor="end" font-weight="normal" fill="#444" font-family='"Liberation Sans", sans-serif' >0 GPa</text>
<line x1="101.5" y1="24.4" x2="107.6" y2="16.5" stroke="#6a5a5a" stroke-width="0.9"/>
<line x1="101.5" y1="24.4" x2="107.6" y2="31.9" stroke="#6a5a5a" stroke-width="0.9"/>
<path d="M99.5,23.299999999999997 L97.0,23.299999999999997 L97.0,22.4 L95.0,24.4 L97.0,26.4 L97.0,25.5 L99.5,25.5Z" fill="#f01818"/>
<path d="M108.5,15.4 L111.7,15.4 L111.7,14.5 L113.8,16.5 L111.7,18.5 L111.7,17.6 L108.5,17.6Z" fill="#f01818"/>
<circle cx="107.6" cy="16.5" r="1.9" fill="#e8e020"/>
<path d="M108.5,30.799999999999997 L111.7,30.799999999999997 L111.7,29.9 L113.8,31.9 L111.7,33.9 L111.7,33.0 L108.5,33.0Z" fill="#f01818"/>
<circle cx="107.6" cy="31.9" r="1.9" fill="#e8e020"/>
<circle cx="101.5" cy="24.4" r="2.1" fill="#4a1a80"/>
<line x1="148.2" y1="20.3" x2="154.0" y2="14.8" stroke="#6a5a5a" stroke-width="0.9"/>
<line x1="148.2" y1="20.3" x2="154.0" y2="27.1" stroke="#6a5a5a" stroke-width="0.9"/>
<path d="M152.9,13.5 L152.9,11.5 L152.0,11.5 L154.0,9.5 L156.0,11.5 L155.1,11.5 L155.1,13.5Z" fill="#f01818"/>
<path d="M152.9,28.3 L152.9,29.8 L152.0,29.8 L154.0,31.6 L156.0,29.8 L155.1,29.8 L155.1,28.3Z" fill="#f01818"/>
<circle cx="154.0" cy="14.8" r="1.9" fill="#e8e020"/><circle cx="154.0" cy="27.1" r="1.9" fill="#e8e020"/>
<circle cx="148.2" cy="20.3" r="2.1" fill="#4a1a80"/>
<text x="110.6" y="26.8" font-size="8" text-anchor="start" font-weight="normal" fill="#333" font-family='"Liberation Sans", sans-serif' >E<tspan dy="2.2" font-size="5.5">2g</tspan></text>
<text x="157" y="22.7" font-size="8" text-anchor="start" font-weight="normal" fill="#333" font-family='"Liberation Sans", sans-serif' >A<tspan dy="2.6" font-size="5.5">1g</tspan></text>
<line x1="265.4" y1="19" x2="265.4" y2="141.1" stroke="#262626" stroke-width="1" />
<line x1="265.4" y1="141.1" x2="416.9" y2="141.1" stroke="#262626" stroke-width="1" />
<line x1="262.4" y1="131.4" x2="265.4" y2="131.4" stroke="#262626" stroke-width="1" />
<text x="260.8" y="135.1" font-size="10.5" text-anchor="end" font-weight="normal" fill="#161616" font-family='"Liberation Sans", sans-serif' >25</text>
<line x1="262.4" y1="112.84" x2="265.4" y2="112.84" stroke="#262626" stroke-width="1" />
<text x="260.8" y="116.54" font-size="10.5" text-anchor="end" font-weight="normal" fill="#161616" font-family='"Liberation Sans", sans-serif' >30</text>
<line x1="262.4" y1="94.27" x2="265.4" y2="94.27" stroke="#262626" stroke-width="1" />
<text x="260.8" y="97.97" font-size="10.5" text-anchor="end" font-weight="normal" fill="#161616" font-family='"Liberation Sans", sans-serif' >35</text>
<line x1="262.4" y1="75.71" x2="265.4" y2="75.71" stroke="#262626" stroke-width="1" />
<text x="260.8" y="79.41" font-size="10.5" text-anchor="end" font-weight="normal" fill="#161616" font-family='"Liberation Sans", sans-serif' >40</text>
<line x1="262.4" y1="57.14" x2="265.4" y2="57.14" stroke="#262626" stroke-width="1" />
<text x="260.8" y="60.84" font-size="10.5" text-anchor="end" font-weight="normal" fill="#161616" font-family='"Liberation Sans", sans-serif' >45</text>
<line x1="262.4" y1="38.58" x2="265.4" y2="38.58" stroke="#262626" stroke-width="1" />
<text x="260.8" y="42.28" font-size="10.5" text-anchor="end" font-weight="normal" fill="#161616" font-family='"Liberation Sans", sans-serif' >50</text>
<line x1="262.4" y1="20.01" x2="265.4" y2="20.01" stroke="#262626" stroke-width="1" />
<text x="260.8" y="23.71" font-size="10.5" text-anchor="end" font-weight="normal" fill="#161616" font-family='"Liberation Sans", sans-serif' >55</text>
<line x1="263.4" y1="122.12" x2="265.4" y2="122.12" stroke="#262626" stroke-width="1" />
<line x1="263.4" y1="103.55" x2="265.4" y2="103.55" stroke="#262626" stroke-width="1" />
<line x1="263.4" y1="84.99" x2="265.4" y2="84.99" stroke="#262626" stroke-width="1" />
<line x1="263.4" y1="66.42" x2="265.4" y2="66.42" stroke="#262626" stroke-width="1" />
<line x1="263.4" y1="47.86" x2="265.4" y2="47.86" stroke="#262626" stroke-width="1" />
<line x1="263.4" y1="29.29" x2="265.4" y2="29.29" stroke="#262626" stroke-width="1" />
<line x1="263.4" y1="140.68" x2="265.4" y2="140.68" stroke="#262626" stroke-width="1" />
<line x1="275" y1="141.1" x2="275" y2="144.1" stroke="#262626" stroke-width="1" />
<text x="275" y="157" font-size="10.5" text-anchor="middle" font-weight="normal" fill="#161616" font-family='"Liberation Sans", sans-serif' >0</text>
<line x1="294.14" y1="141.1" x2="294.14" y2="144.1" stroke="#262626" stroke-width="1" />
<text x="294.14" y="157" font-size="10.5" text-anchor="middle" font-weight="normal" fill="#161616" font-family='"Liberation Sans", sans-serif' >5</text>
<line x1="313.29" y1="141.1" x2="313.29" y2="144.1" stroke="#262626" stroke-width="1" />
<text x="313.29" y="157" font-size="10.5" text-anchor="middle" font-weight="normal" fill="#161616" font-family='"Liberation Sans", sans-serif' >10</text>
<line x1="332.44" y1="141.1" x2="332.44" y2="144.1" stroke="#262626" stroke-width="1" />
<text x="332.44" y="157" font-size="10.5" text-anchor="middle" font-weight="normal" fill="#161616" font-family='"Liberation Sans", sans-serif' >15</text>
<line x1="351.58" y1="141.1" x2="351.58" y2="144.1" stroke="#262626" stroke-width="1" />
<text x="351.58" y="157" font-size="10.5" text-anchor="middle" font-weight="normal" fill="#161616" font-family='"Liberation Sans", sans-serif' >20</text>
<line x1="370.73" y1="141.1" x2="370.73" y2="144.1" stroke="#262626" stroke-width="1" />
<text x="370.73" y="157" font-size="10.5" text-anchor="middle" font-weight="normal" fill="#161616" font-family='"Liberation Sans", sans-serif' >25</text>
<line x1="389.87" y1="141.1" x2="389.87" y2="144.1" stroke="#262626" stroke-width="1" />
<text x="389.87" y="157" font-size="10.5" text-anchor="middle" font-weight="normal" fill="#161616" font-family='"Liberation Sans", sans-serif' >30</text>
<line x1="409.01" y1="141.1" x2="409.01" y2="144.1" stroke="#262626" stroke-width="1" />
<text x="409.01" y="157" font-size="10.5" text-anchor="middle" font-weight="normal" fill="#161616" font-family='"Liberation Sans", sans-serif' >35</text>
<line x1="284.57" y1="141.1" x2="284.57" y2="143.1" stroke="#262626" stroke-width="1" />
<line x1="303.72" y1="141.1" x2="303.72" y2="143.1" stroke="#262626" stroke-width="1" />
<line x1="322.86" y1="141.1" x2="322.86" y2="143.1" stroke="#262626" stroke-width="1" />
<line x1="342.01" y1="141.1" x2="342.01" y2="143.1" stroke="#262626" stroke-width="1" />
<line x1="361.15" y1="141.1" x2="361.15" y2="143.1" stroke="#262626" stroke-width="1" />
<line x1="380.3" y1="141.1" x2="380.3" y2="143.1" stroke="#262626" stroke-width="1" />
<line x1="399.44" y1="141.1" x2="399.44" y2="143.1" stroke="#262626" stroke-width="1" />
<text x="341.5" y="171.8" font-size="10.8" text-anchor="middle" font-weight="normal" fill="#161616" font-family='"Liberation Sans", sans-serif' >Pressure (GPa)</text>
<text x="278.8" y="39.2" font-size="11.8" text-anchor="start" font-weight="normal" fill="#161616" font-family='"Liberation Sans", sans-serif' >SC</text>
<text x="324.2" y="38.8" font-size="11.8" text-anchor="start" font-weight="normal" fill="#161616" font-family='"Liberation Sans", sans-serif' >IS</text>
<text x="384.8" y="137.3" font-size="11" text-anchor="start" font-weight="normal" fill="#161616" font-family='"Liberation Sans", sans-serif' >Metal</text>
<g transform="translate(231,79) rotate(-90)"><text x="0" y="0" font-size="11" text-anchor="middle" fill="#161616" font-family='"Liberation Sans", sans-serif'>Spacing in Raman</text></g>
<g transform="translate(243.2,81) rotate(-90)"><text x="0" y="0" font-size="11" text-anchor="middle" fill="#161616" font-family='"Liberation Sans", sans-serif'>shift (cm<tspan dy="-4" font-size="7.5">−1</tspan><tspan dy="4">)</tspan></text></g>
<line x1="313.6" y1="26.5" x2="313.6" y2="141" stroke="#a8a8a8" stroke-width="1.5" stroke-dasharray="4,2"/>
<line x1="348.3" y1="26.5" x2="348.3" y2="141" stroke="#a8a8a8" stroke-width="1.5" stroke-dasharray="4,2"/>
<circle cx="275.4" cy="130.6" r="3.75" fill="none" stroke="#5050f2" stroke-width="1"/>
<circle cx="275.83" cy="125.37" r="3.75" fill="none" stroke="#5050f2" stroke-width="1"/>
<circle cx="279.07" cy="123.47" r="3.75" fill="none" stroke="#5050f2" stroke-width="1"/>
<circle cx="281.09" cy="120.89" r="3.75" fill="none" stroke="#5050f2" stroke-width="1"/>
<circle cx="280.02" cy="116.63" r="3.75" fill="none" stroke="#5050f2" stroke-width="1"/>
<circle cx="282.11" cy="114.1" r="3.75" fill="none" stroke="#5050f2" stroke-width="1"/>
<circle cx="287.23" cy="113.21" r="3.75" fill="none" stroke="#5050f2" stroke-width="1"/>
<circle cx="284.86" cy="108.24" r="3.75" fill="none" stroke="#5050f2" stroke-width="1"/>
<circle cx="286.68" cy="105.56" r="3.75" fill="none" stroke="#5050f2" stroke-width="1"/>
<circle cx="291.97" cy="104.77" r="3.75" fill="none" stroke="#5050f2" stroke-width="1"/>
<circle cx="292.03" cy="101.12" r="3.75" fill="none" stroke="#5050f2" stroke-width="1"/>
<circle cx="292.42" cy="97.66" r="3.75" fill="none" stroke="#5050f2" stroke-width="1"/>
<circle cx="294.62" cy="95.18" r="3.75" fill="none" stroke="#5050f2" stroke-width="1"/>
<circle cx="296.86" cy="92.73" r="3.75" fill="none" stroke="#5050f2" stroke-width="1"/>
<circle cx="296.64" cy="88.93" r="3.75" fill="none" stroke="#5050f2" stroke-width="1"/>
<circle cx="297.56" cy="85.76" r="3.75" fill="none" stroke="#5050f2" stroke-width="1"/>
<circle cx="302.09" cy="84.55" r="3.75" fill="none" stroke="#5050f2" stroke-width="1"/>
<circle cx="303.1" cy="81.42" r="3.75" fill="none" stroke="#5050f2" stroke-width="1"/>
<circle cx="303.92" cy="78.2" r="3.75" fill="none" stroke="#5050f2" stroke-width="1"/>
<circle cx="306.87" cy="76.13" r="3.75" fill="none" stroke="#5050f2" stroke-width="1"/>
<circle cx="307.19" cy="72.63" r="3.75" fill="none" stroke="#5050f2" stroke-width="1"/>
<circle cx="310.72" cy="70.87" r="3.75" fill="none" stroke="#5050f2" stroke-width="1"/>
<circle cx="308.71" cy="66.11" r="3.75" fill="none" stroke="#5050f2" stroke-width="1"/>
<circle cx="311.86" cy="64.15" r="3.75" fill="none" stroke="#5050f2" stroke-width="1"/>
<circle cx="313.09" cy="61.14" r="3.75" fill="none" stroke="#5050f2" stroke-width="1"/>
<circle cx="312.4" cy="52.7" r="3.75" fill="none" stroke="#5050f2" stroke-width="1"/>
<circle cx="313.5" cy="59.5" r="3.75" fill="none" stroke="#5050f2" stroke-width="1"/>
<circle cx="314.1" cy="64.6" r="3.75" fill="none" stroke="#5050f2" stroke-width="1"/>
<circle cx="315.8" cy="69.2" r="3.75" fill="none" stroke="#5050f2" stroke-width="1"/>
<circle cx="318.7" cy="61.2" r="3.75" fill="none" stroke="#5050f2" stroke-width="1"/>
<circle cx="319.8" cy="55.5" r="3.75" fill="none" stroke="#5050f2" stroke-width="1"/>
<circle cx="323.8" cy="47.5" r="3.75" fill="none" stroke="#5050f2" stroke-width="1"/>
<circle cx="323.2" cy="52.1" r="3.75" fill="none" stroke="#5050f2" stroke-width="1"/>
<circle cx="324.9" cy="57.2" r="3.75" fill="none" stroke="#5050f2" stroke-width="1"/>
<circle cx="327.8" cy="60.6" r="3.75" fill="none" stroke="#5050f2" stroke-width="1"/>
<circle cx="329.5" cy="47" r="3.75" fill="none" stroke="#5050f2" stroke-width="1"/>
<circle cx="330.1" cy="53.2" r="3.75" fill="none" stroke="#5050f2" stroke-width="1"/>
<circle cx="334" cy="63.5" r="3.75" fill="none" stroke="#5050f2" stroke-width="1"/>
<circle cx="335.2" cy="56.6" r="3.75" fill="none" stroke="#5050f2" stroke-width="1"/>
<circle cx="338.6" cy="53.2" r="3.75" fill="none" stroke="#5050f2" stroke-width="1"/>
<circle cx="349" cy="45.1" r="3.75" fill="none" stroke="#5050f2" stroke-width="1"/>
<circle cx="352.2" cy="56.3" r="3.75" fill="none" stroke="#5050f2" stroke-width="1"/>
<circle cx="354.6" cy="50.7" r="3.75" fill="none" stroke="#5050f2" stroke-width="1"/>
<circle cx="360.2" cy="45.9" r="3.75" fill="none" stroke="#5050f2" stroke-width="1"/>
<circle cx="364.9" cy="42.7" r="3.75" fill="none" stroke="#5050f2" stroke-width="1"/>
<circle cx="364.1" cy="56.3" r="3.75" fill="none" stroke="#5050f2" stroke-width="1"/>
<circle cx="370.5" cy="49.1" r="3.75" fill="none" stroke="#5050f2" stroke-width="1"/>
<circle cx="381.7" cy="35.6" r="3.75" fill="none" stroke="#5050f2" stroke-width="1"/>
<circle cx="387.3" cy="30.8" r="3.75" fill="none" stroke="#5050f2" stroke-width="1"/>
<circle cx="392" cy="33.2" r="3.75" fill="none" stroke="#5050f2" stroke-width="1"/>
<circle cx="403.2" cy="33.2" r="3.75" fill="none" stroke="#5050f2" stroke-width="1"/>
<circle cx="406.4" cy="30" r="3.75" fill="none" stroke="#5050f2" stroke-width="1"/>
<polyline points="275.5,129.5 316.5,55.3 349.5,55.3 406.6,30" fill="none" stroke="#111" stroke-width="1.9"/>
<rect x="56.0" y="198.9" width="162.5" height="130.3" fill="none" stroke="#262626" stroke-width="1"/>
<line x1="54" y1="323.7" x2="56" y2="323.7" stroke="#262626" stroke-width="1" />
<text x="51.8" y="325.2" font-size="7.4" text-anchor="end" font-weight="normal" fill="#333" font-family='"Liberation Sans", sans-serif' >0.0</text>
<line x1="54" y1="312.49" x2="56" y2="312.49" stroke="#262626" stroke-width="1" />
<text x="51.8" y="313.99" font-size="7.4" text-anchor="end" font-weight="normal" fill="#333" font-family='"Liberation Sans", sans-serif' >0.5</text>
<line x1="54" y1="301.28" x2="56" y2="301.28" stroke="#262626" stroke-width="1" />
<text x="51.8" y="302.78" font-size="7.4" text-anchor="end" font-weight="normal" fill="#333" font-family='"Liberation Sans", sans-serif' >1.0</text>
<line x1="54" y1="290.07" x2="56" y2="290.07" stroke="#262626" stroke-width="1" />
<text x="51.8" y="291.57" font-size="7.4" text-anchor="end" font-weight="normal" fill="#333" font-family='"Liberation Sans", sans-serif' >1.5</text>
<line x1="54" y1="278.86" x2="56" y2="278.86" stroke="#262626" stroke-width="1" />
<text x="51.8" y="280.36" font-size="7.4" text-anchor="end" font-weight="normal" fill="#333" font-family='"Liberation Sans", sans-serif' >2.0</text>
<line x1="54" y1="267.65" x2="56" y2="267.65" stroke="#262626" stroke-width="1" />
<text x="51.8" y="269.15" font-size="7.4" text-anchor="end" font-weight="normal" fill="#333" font-family='"Liberation Sans", sans-serif' >2.5</text>
<line x1="54" y1="256.44" x2="56" y2="256.44" stroke="#262626" stroke-width="1" />
<text x="51.8" y="257.94" font-size="7.4" text-anchor="end" font-weight="normal" fill="#333" font-family='"Liberation Sans", sans-serif' >3.0</text>
<line x1="54" y1="245.23" x2="56" y2="245.23" stroke="#262626" stroke-width="1" />
<text x="51.8" y="246.73" font-size="7.4" text-anchor="end" font-weight="normal" fill="#333" font-family='"Liberation Sans", sans-serif' >3.5</text>
<line x1="54" y1="234.02" x2="56" y2="234.02" stroke="#262626" stroke-width="1" />
<text x="51.8" y="235.52" font-size="7.4" text-anchor="end" font-weight="normal" fill="#333" font-family='"Liberation Sans", sans-serif' >4.0</text>
<line x1="54" y1="222.81" x2="56" y2="222.81" stroke="#262626" stroke-width="1" />
<text x="51.8" y="224.31" font-size="7.4" text-anchor="end" font-weight="normal" fill="#333" font-family='"Liberation Sans", sans-serif' >4.5</text>
<line x1="54" y1="211.6" x2="56" y2="211.6" stroke="#262626" stroke-width="1" />
<text x="51.8" y="213.1" font-size="7.4" text-anchor="end" font-weight="normal" fill="#333" font-family='"Liberation Sans", sans-serif' >5.0</text>
<line x1="54" y1="200.39" x2="56" y2="200.39" stroke="#262626" stroke-width="1" />
<text x="51.8" y="201.89" font-size="7.4" text-anchor="end" font-weight="normal" fill="#333" font-family='"Liberation Sans", sans-serif' >5.5</text>
<line x1="56.2" y1="329.2" x2="56.2" y2="331.2" stroke="#262626" stroke-width="1" />
<line x1="56.2" y1="198.9" x2="56.2" y2="200.9" stroke="#262626" stroke-width="1" />
<text x="56.2" y="339" font-size="7" text-anchor="middle" font-weight="normal" fill="#333" font-family='"Liberation Sans", sans-serif' >100</text>
<line x1="72.41" y1="329.2" x2="72.41" y2="331.2" stroke="#262626" stroke-width="1" />
<line x1="72.41" y1="198.9" x2="72.41" y2="200.9" stroke="#262626" stroke-width="1" />
<text x="72.41" y="339" font-size="7" text-anchor="middle" font-weight="normal" fill="#333" font-family='"Liberation Sans", sans-serif' >150</text>
<line x1="88.62" y1="329.2" x2="88.62" y2="331.2" stroke="#262626" stroke-width="1" />
<line x1="88.62" y1="198.9" x2="88.62" y2="200.9" stroke="#262626" stroke-width="1" />
<text x="88.62" y="339" font-size="7" text-anchor="middle" font-weight="normal" fill="#333" font-family='"Liberation Sans", sans-serif' >200</text>
<line x1="104.83" y1="329.2" x2="104.83" y2="331.2" stroke="#262626" stroke-width="1" />
<line x1="104.83" y1="198.9" x2="104.83" y2="200.9" stroke="#262626" stroke-width="1" />
<text x="104.83" y="339" font-size="7" text-anchor="middle" font-weight="normal" fill="#333" font-family='"Liberation Sans", sans-serif' >250</text>
<line x1="121.04" y1="329.2" x2="121.04" y2="331.2" stroke="#262626" stroke-width="1" />
<line x1="121.04" y1="198.9" x2="121.04" y2="200.9" stroke="#262626" stroke-width="1" />
<text x="121.04" y="339" font-size="7" text-anchor="middle" font-weight="normal" fill="#333" font-family='"Liberation Sans", sans-serif' >300</text>
<line x1="137.25" y1="329.2" x2="137.25" y2="331.2" stroke="#262626" stroke-width="1" />
<line x1="137.25" y1="198.9" x2="137.25" y2="200.9" stroke="#262626" stroke-width="1" />
<text x="137.25" y="339" font-size="7" text-anchor="middle" font-weight="normal" fill="#333" font-family='"Liberation Sans", sans-serif' >350</text>
<line x1="153.46" y1="329.2" x2="153.46" y2="331.2" stroke="#262626" stroke-width="1" />
<line x1="153.46" y1="198.9" x2="153.46" y2="200.9" stroke="#262626" stroke-width="1" />
<text x="153.46" y="339" font-size="7" text-anchor="middle" font-weight="normal" fill="#333" font-family='"Liberation Sans", sans-serif' >400</text>
<line x1="169.67" y1="329.2" x2="169.67" y2="331.2" stroke="#262626" stroke-width="1" />
<line x1="169.67" y1="198.9" x2="169.67" y2="200.9" stroke="#262626" stroke-width="1" />
<text x="169.67" y="339" font-size="7" text-anchor="middle" font-weight="normal" fill="#333" font-family='"Liberation Sans", sans-serif' >450</text>
<line x1="185.88" y1="329.2" x2="185.88" y2="331.2" stroke="#262626" stroke-width="1" />
<line x1="185.88" y1="198.9" x2="185.88" y2="200.9" stroke="#262626" stroke-width="1" />
<text x="185.88" y="339" font-size="7" text-anchor="middle" font-weight="normal" fill="#333" font-family='"Liberation Sans", sans-serif' >500</text>
<line x1="202.09" y1="329.2" x2="202.09" y2="331.2" stroke="#262626" stroke-width="1" />
<line x1="202.09" y1="198.9" x2="202.09" y2="200.9" stroke="#262626" stroke-width="1" />
<text x="202.09" y="339" font-size="7" text-anchor="middle" font-weight="normal" fill="#333" font-family='"Liberation Sans", sans-serif' >550</text>
<line x1="218.3" y1="329.2" x2="218.3" y2="331.2" stroke="#262626" stroke-width="1" />
<line x1="218.3" y1="198.9" x2="218.3" y2="200.9" stroke="#262626" stroke-width="1" />
<text x="218.3" y="339" font-size="7" text-anchor="middle" font-weight="normal" fill="#333" font-family='"Liberation Sans", sans-serif' >600</text>
<text x="143" y="350.6" font-size="8.8" text-anchor="middle" font-weight="normal" fill="#161616" font-family='"Liberation Sans", sans-serif' >Raman shift (cm<tspan dy="-3" font-size="6">-1</tspan><tspan dy="3">)</tspan></text>
<text x="0" y="0" font-size="8.5" text-anchor="middle" font-weight="normal" fill="#161616" font-family='"Liberation Sans", sans-serif' transform="translate(36,270.7) rotate(-90)">Raman Intensity (Arb. U)</text>
<text x="57.3" y="209.9" font-size="10.3" text-anchor="start" font-weight="normal" fill="#222" font-family='"Liberation Sans", sans-serif' >1T'-MoS<tspan dy='2.2' font-size='7'>2</tspan></text>
<path d="M56.7,221.99 L57.2,222 L57.7,221.75 L58.2,221.6 L58.7,221.65 L59.2,221.84 L59.7,222.26 L60.2,222.15 L60.7,222.16 L61.2,221.9 L61.7,222.14 L62.2,222.1 L62.7,222.3 L63.2,222.14 L63.7,222.02 L64.2,221.81 L64.7,221.75 L65.2,221.52 L65.7,221.5 L66.2,221.54 L66.7,221.72 L67.2,221.68 L67.7,221.93 L68.2,221.88 L68.7,222.13 L69.2,222.32 L69.7,222.45 L70.2,222.39 L70.7,222.21 L71.2,222.14 L71.7,221.95 L72.2,221.99 L72.7,222.03 L73.2,222.11 L73.7,222.18 L74.2,222.1 L74.7,222.07 L75.2,221.88 L75.7,221.84 L76.2,221.76 L76.7,221.75 L77.2,221.75 L77.7,221.76 L78.2,222.01 L78.7,222.2 L79.2,222.52 L79.7,222.51 L80.2,222.66 L80.7,222.49 L81.2,222.49 L81.7,222.35 L82.2,222.28 L82.7,222.22 L83.2,222.22 L83.7,222.48 L84.2,222.31 L84.7,222.39 L85.2,221.96 L85.7,222.11 L86.2,221.83 L86.7,222.03 L87.2,221.91 L87.7,222.08 L88.2,221.87 L88.7,221.82 L89.2,221.46 L89.7,221.3 L90.2,221.1 L90.7,221.23 L91.2,221.17 L91.7,221.18 L92.2,221.01 L92.7,221.02 L93.2,221.16 L93.7,221.13 L94.2,221.13 L94.7,220.85 L95.2,220.83 L95.7,220.47 L96.2,220.39 L96.7,219.85 L97.2,219.52 L97.7,219.01 L98.2,218.73 L98.7,218.29 L99.2,217.89 L99.7,217.18 L100.2,216.57 L100.7,215.9 L101.2,215.34 L101.7,214.79 L102.2,214.35 L102.7,213.6 L103.2,212.83 L103.7,212.17 L104.2,211.69 L104.7,211.25 L105.2,210.85 L105.7,210.36 L106.2,209.91 L106.7,209.65 L107.2,209.9 L107.7,210.19 L108.2,210.69 L108.7,211.35 L109.2,212.13 L109.7,212.98 L110.2,213.8 L110.7,214.72 L111.2,215.32 L111.7,215.93 L112.2,216.19 L112.7,216.7 L113.2,217.13 L113.7,217.69 L114.2,218.04 L114.7,218.44 L115.2,218.77 L115.7,219.33 L116.2,219.91 L116.7,220.19 L117.2,220.2 L117.7,219.91 L118.2,219.7 L118.7,219.5 L119.2,219.87 L119.7,219.93 L120.2,219.92 L120.7,219.48 L121.2,219.09 L121.7,218.66 L122.2,218.48 L122.7,218.38 L123.2,218.3 L123.7,218.15 L124.2,218.04 L124.7,217.93 L125.2,217.65 L125.7,217.43 L126.2,216.99 L126.7,216.68 L127.2,216.34 L127.7,216.06 L128.2,215.92 L128.7,215.74 L129.2,215.62 L129.7,215.4 L130.2,215.13 L130.7,214.99 L131.2,214.74 L131.7,214.73 L132.2,214.33 L132.7,213.94 L133.2,213.48 L133.7,213.4 L134.2,213.44 L134.7,213.63 L135.2,213.41 L135.7,213.1 L136.2,212.63 L136.7,212.45 L137.2,212.06 L137.7,212.03 L138.2,211.92 L138.7,211.84 L139.2,211.54 L139.7,211.34 L140.2,210.98 L140.7,210.59 L141.2,210.53 L141.7,210.43 L142.2,210.42 L142.7,210.56 L143.2,210.65 L143.7,210.51 L144.2,210.21 L144.7,209.87 L145.2,209.44 L145.7,209.23 L146.2,209.11 L146.7,208.98 L147.2,209.02 L147.7,209.05 L148.2,209.09 L148.7,209 L149.2,208.86 L149.7,208.62 L150.2,208.35 L150.7,208.28 L151.2,207.86 L151.7,207.59 L152.2,206.87 L152.7,206.52 L153.2,206.07 L153.7,206.13 L154.2,205.97 L154.7,205.88 L155.2,205.46 L155.7,205.07 L156.2,204.53 L156.7,204.3 L157.2,203.88 L157.7,203.73 L158.2,203.46 L158.7,203.35 L159.2,203 L159.7,202.69 L160.2,202.56 L160.7,202.27 L161.2,202.53 L161.7,202.46 L162.2,202.66 L162.7,202.46 L163.2,203.01 L163.7,203.7 L164.2,204.6 L164.7,205.54 L165.2,206.34 L165.7,206.92 L166.2,207.44 L166.7,207.8 L167.2,208.22 L167.7,208.09 L168.2,208.45 L168.7,208.32 L169.2,208.45 L169.7,208.21 L170.2,208.09 L170.7,208.04 L171.2,207.94 L171.7,207.94 L172.2,207.47 L172.7,207.19 L173.2,206.66 L173.7,206.42 L174.2,205.97 L174.7,205.57 L175.2,205.09 L175.7,204.71 L176.2,204.21 L176.7,203.93 L177.2,203.48 L177.7,203.37 L178.2,203.08 L178.7,203.07 L179.2,202.69 L179.7,202.52 L180.2,202.27 L180.7,202.28 L181.2,202.46 L181.7,202.76 L182.2,202.87 L182.7,203.04 L183.2,202.95 L183.7,203.25 L184.2,203.4 L184.7,203.9 L185.2,204.35 L185.7,204.92 L186.2,205.08 L186.7,205.37 L187.2,205.4 L187.7,205.91 L188.2,206.52 L188.7,207.37 L189.2,207.87 L189.7,208.11 L190.2,208.32 L190.7,208.48 L191.2,209.06 L191.7,209.37 L192.2,209.9 L192.7,210.02 L193.2,210.44 L193.7,210.67 L194.2,211.27 L194.7,211.5 L195.2,211.83 L195.7,211.95 L196.2,212.17 L196.7,212.62 L197.2,213.03 L197.7,213.54 L198.2,213.85 L198.7,214.34 L199.2,214.67 L199.7,215.26 L200.2,215.59 L200.7,215.99 L201.2,216.25 L201.7,216.7 L202.2,216.71 L202.7,217.1 L203.2,217.1 L203.7,217.47 L204.2,217.46 L204.7,217.69 L205.2,217.73 L205.7,217.9 L206.2,218.35 L206.7,218.6 L207.2,219.2 L207.7,219.41 L208.2,219.82 L208.7,219.83 L209.2,219.93 L209.7,219.73 L210.2,219.73 L210.7,219.83 L211.2,220.04 L211.7,220.12 L212.2,220.25 L212.7,220.19 L213.2,220.33 L213.7,220.6 L214.2,221 L214.7,221.22 L215.2,221.11 L215.7,220.85 L216.2,220.41 L216.7,220.45 L217.2,220.61 L217.7,221.04" fill="none" stroke="#1a8a1a" stroke-width="1.3" stroke-linejoin="round"/>
<path d="M56.7,244.16 L57.2,244.25 L57.7,244.4 L58.2,244.53 L58.7,244.63 L59.2,244.58 L59.7,244.66 L60.2,244.57 L60.7,244.67 L61.2,244.57 L61.7,244.55 L62.2,244.57 L62.7,244.94 L63.2,245.21 L63.7,245.58 L64.2,245.64 L64.7,245.68 L65.2,245.56 L65.7,245.63 L66.2,245.65 L66.7,245.87 L67.2,245.94 L67.7,246.15 L68.2,246.1 L68.7,246.23 L69.2,246.18 L69.7,246.35 L70.2,246.38 L70.7,246.38 L71.2,246.32 L71.7,246.02 L72.2,245.82 L72.7,245.63 L73.2,245.59 L73.7,245.42 L74.2,245.08 L74.7,244.56 L75.2,243.88 L75.7,243.47 L76.2,243.13 L76.7,242.9 L77.2,242.68 L77.7,242.27 L78.2,242.04 L78.7,241.73 L79.2,241.68 L79.7,241.59 L80.2,241.76 L80.7,241.77 L81.2,241.9 L81.7,241.89 L82.2,242.15 L82.7,242.44 L83.2,242.93 L83.7,243.23 L84.2,243.33 L84.7,243.39 L85.2,243.35 L85.7,243.56 L86.2,243.67 L86.7,243.82 L87.2,243.8 L87.7,243.81 L88.2,243.81 L88.7,243.65 L89.2,243.68 L89.7,243.47 L90.2,243.38 L90.7,243.16 L91.2,243.12 L91.7,242.96 L92.2,242.79 L92.7,242.64 L93.2,242.57 L93.7,242.58 L94.2,242.58 L94.7,242.46 L95.2,242 L95.7,241.41 L96.2,240.73 L96.7,240.13 L97.2,239.52 L97.7,239.03 L98.2,238.61 L98.7,238.14 L99.2,237.74 L99.7,237.24 L100.2,236.83 L100.7,236.32 L101.2,235.88 L101.7,235.3 L102.2,234.77 L102.7,234.22 L103.2,233.78 L103.7,233.48 L104.2,233.3 L104.7,233.32 L105.2,233.23 L105.7,233.34 L106.2,233.45 L106.7,233.98 L107.2,234.56 L107.7,235.41 L108.2,236.23 L108.7,237.02 L109.2,237.67 L109.7,238.3 L110.2,238.74 L110.7,239.14 L111.2,239.55 L111.7,239.85 L112.2,240.21 L112.7,240.43 L113.2,240.78 L113.7,240.92 L114.2,241.11 L114.7,241.26 L115.2,241.46 L115.7,241.69 L116.2,241.75 L116.7,241.53 L117.2,241.39 L117.7,241.08 L118.2,241.19 L118.7,241.25 L119.2,241.57 L119.7,241.55 L120.2,241.53 L120.7,241.35 L121.2,241.13 L121.7,240.96 L122.2,240.78 L122.7,240.73 L123.2,240.64 L123.7,240.72 L124.2,240.59 L124.7,240.54 L125.2,240.25 L125.7,240.14 L126.2,240 L126.7,239.94 L127.2,239.78 L127.7,239.56 L128.2,239.44 L128.7,239.27 L129.2,239.24 L129.7,239.2 L130.2,239.22 L130.7,239.15 L131.2,239.05 L131.7,239.06 L132.2,238.88 L132.7,238.88 L133.2,238.67 L133.7,238.46 L134.2,238.05 L134.7,237.86 L135.2,237.78 L135.7,237.8 L136.2,237.76 L136.7,237.59 L137.2,237.37 L137.7,237.14 L138.2,237.17 L138.7,237.24 L139.2,237.57 L139.7,237.67 L140.2,237.7 L140.7,237.35 L141.2,236.78 L141.7,236.33 L142.2,236.03 L142.7,236.17 L143.2,236.27 L143.7,236.51 L144.2,236.44 L144.7,236.35 L145.2,236.23 L145.7,236.02 L146.2,235.81 L146.7,235.41 L147.2,235.28 L147.7,235.13 L148.2,235.26 L148.7,235.07 L149.2,234.91 L149.7,234.47 L150.2,234.23 L150.7,233.97 L151.2,233.87 L151.7,233.61 L152.2,233.46 L152.7,233.2 L153.2,232.98 L153.7,232.64 L154.2,232.3 L154.7,231.99 L155.2,231.52 L155.7,230.96 L156.2,230.12 L156.7,229.2 L157.2,228.34 L157.7,227.55 L158.2,227.16 L158.7,226.93 L159.2,227.15 L159.7,227.59 L160.2,228.38 L160.7,229.32 L161.2,230.28 L161.7,231.32 L162.2,232.01 L162.7,232.78 L163.2,233.39 L163.7,234.01 L164.2,234.26 L164.7,234.45 L165.2,234.35 L165.7,234.11 L166.2,233.61 L166.7,232.93 L167.2,232.18 L167.7,231.43 L168.2,230.8 L168.7,230.21 L169.2,229.79 L169.7,229.46 L170.2,229.03 L170.7,228.67 L171.2,228.13 L171.7,227.46 L172.2,226.86 L172.7,226.38 L173.2,226.34 L173.7,226.25 L174.2,226.5 L174.7,226.54 L175.2,226.78 L175.7,227.01 L176.2,227.43 L176.7,227.8 L177.2,228.26 L177.7,228.74 L178.2,229.47 L178.7,230.13 L179.2,230.77 L179.7,231.21 L180.2,231.55 L180.7,231.93 L181.2,232.32 L181.7,232.66 L182.2,232.88 L182.7,233.07 L183.2,233.31 L183.7,233.58 L184.2,233.87 L184.7,234 L185.2,234.17 L185.7,234.26 L186.2,234.61 L186.7,234.97 L187.2,235.44 L187.7,235.86 L188.2,236.32 L188.7,236.78 L189.2,237.28 L189.7,237.84 L190.2,238.14 L190.7,238.47 L191.2,238.69 L191.7,239.02 L192.2,239.32 L192.7,239.72 L193.2,240.01 L193.7,240.24 L194.2,240.55 L194.7,240.9 L195.2,241.3 L195.7,241.72 L196.2,242.18 L196.7,242.67 L197.2,243.21 L197.7,243.56 L198.2,243.89 L198.7,244.01 L199.2,244.33 L199.7,244.56 L200.2,244.99 L200.7,245.23 L201.2,245.52 L201.7,245.66 L202.2,245.9 L202.7,245.98 L203.2,246.24 L203.7,246.39 L204.2,246.61 L204.7,246.68 L205.2,246.84 L205.7,246.95 L206.2,247.13 L206.7,247.3 L207.2,247.44 L207.7,247.47 L208.2,247.57 L208.7,247.56 L209.2,247.49 L209.7,247.46 L210.2,247.42 L210.7,247.46 L211.2,247.45 L211.7,247.48 L212.2,247.59 L212.7,247.69 L213.2,247.85 L213.7,247.84 L214.2,247.77 L214.7,247.86 L215.2,247.82 L215.7,247.87 L216.2,247.69 L216.7,247.63 L217.2,247.65 L217.7,247.78" fill="none" stroke="#f020f0" stroke-width="1.3" stroke-linejoin="round"/>
<path d="M56.7,273.18 L57.2,273.21 L57.7,273.23 L58.2,273.4 L58.7,273.35 L59.2,273.56 L59.7,273.48 L60.2,273.71 L60.7,273.62 L61.2,273.62 L61.7,273.47 L62.2,273.45 L62.7,273.35 L63.2,273.18 L63.7,273.18 L64.2,273.15 L64.7,273.22 L65.2,273.17 L65.7,273.09 L66.2,272.81 L66.7,272.61 L67.2,272.51 L67.7,272.44 L68.2,272.52 L68.7,272.51 L69.2,272.48 L69.7,272.34 L70.2,272.13 L70.7,271.91 L71.2,271.64 L71.7,271.55 L72.2,271.39 L72.7,271.38 L73.2,271.07 L73.7,270.84 L74.2,270.41 L74.7,270.24 L75.2,270 L75.7,269.87 L76.2,269.67 L76.7,269.55 L77.2,269.4 L77.7,269.36 L78.2,269.26 L78.7,269.21 L79.2,269.18 L79.7,269.37 L80.2,269.6 L80.7,269.99 L81.2,270.6 L81.7,271.27 L82.2,271.95 L82.7,272.58 L83.2,272.96 L83.7,273.3 L84.2,273.47 L84.7,273.65 L85.2,273.74 L85.7,273.75 L86.2,273.67 L86.7,273.48 L87.2,273.24 L87.7,273.03 L88.2,272.61 L88.7,272.51 L89.2,272.21 L89.7,272.32 L90.2,272.28 L90.7,272.39 L91.2,272.13 L91.7,271.93 L92.2,271.52 L92.7,271.19 L93.2,270.83 L93.7,270.65 L94.2,270.36 L94.7,270.16 L95.2,269.86 L95.7,269.53 L96.2,269.22 L96.7,268.92 L97.2,268.48 L97.7,267.98 L98.2,267.67 L98.7,267.2 L99.2,266.97 L99.7,266.6 L100.2,266.38 L100.7,265.87 L101.2,265.58 L101.7,265.16 L102.2,264.92 L102.7,264.68 L103.2,264.53 L103.7,264.41 L104.2,264.41 L104.7,264.57 L105.2,264.83 L105.7,265.2 L106.2,265.5 L106.7,265.98 L107.2,266.35 L107.7,266.83 L108.2,267.05 L108.7,267.39 L109.2,267.76 L109.7,268.24 L110.2,268.71 L110.7,269.18 L111.2,269.55 L111.7,269.89 L112.2,270.14 L112.7,270.48 L113.2,270.72 L113.7,270.79 L114.2,270.67 L114.7,270.48 L115.2,270.41 L115.7,270.52 L116.2,270.65 L116.7,270.68 L117.2,270.5 L117.7,270.19 L118.2,269.85 L118.7,269.76 L119.2,269.7 L119.7,269.75 L120.2,269.64 L120.7,269.68 L121.2,269.39 L121.7,269.34 L122.2,269.01 L122.7,268.71 L123.2,268.4 L123.7,268.33 L124.2,268.34 L124.7,268.36 L125.2,268.29 L125.7,268.01 L126.2,267.89 L126.7,267.81 L127.2,267.85 L127.7,267.77 L128.2,267.78 L128.7,267.64 L129.2,267.6 L129.7,267.39 L130.2,267.29 L130.7,267.21 L131.2,267.18 L131.7,267.14 L132.2,267.07 L132.7,267.02 L133.2,266.92 L133.7,266.79 L134.2,266.68 L134.7,266.35 L135.2,266.2 L135.7,266.05 L136.2,266.07 L136.7,266.08 L137.2,266.28 L137.7,266.4 L138.2,266.43 L138.7,266.17 L139.2,265.86 L139.7,265.34 L140.2,265.09 L140.7,264.81 L141.2,264.67 L141.7,264.49 L142.2,264.31 L142.7,264.05 L143.2,263.74 L143.7,263.52 L144.2,263.31 L144.7,263.28 L145.2,263.2 L145.7,263.03 L146.2,262.73 L146.7,262.24 L147.2,262 L147.7,261.65 L148.2,261.51 L148.7,261.03 L149.2,260.68 L149.7,260.01 L150.2,259.57 L150.7,259.14 L151.2,258.82 L151.7,258.36 L152.2,257.98 L152.7,257.38 L153.2,256.82 L153.7,256.17 L154.2,255.65 L154.7,255.12 L155.2,254.71 L155.7,254.54 L156.2,254.31 L156.7,254.49 L157.2,254.4 L157.7,254.93 L158.2,255.22 L158.7,255.94 L159.2,256.54 L159.7,257.41 L160.2,258.05 L160.7,258.98 L161.2,259.76 L161.7,260.58 L162.2,261.09 L162.7,261.57 L163.2,261.36 L163.7,261.07 L164.2,260.29 L164.7,259.45 L165.2,258.28 L165.7,257.11 L166.2,255.83 L166.7,254.95 L167.2,254.39 L167.7,253.92 L168.2,253.38 L168.7,252.96 L169.2,252.46 L169.7,252.11 L170.2,251.86 L170.7,251.71 L171.2,251.66 L171.7,251.67 L172.2,251.68 L172.7,251.63 L173.2,251.76 L173.7,252.08 L174.2,252.57 L174.7,253.15 L175.2,253.71 L175.7,254.2 L176.2,254.57 L176.7,254.8 L177.2,255.04 L177.7,255.29 L178.2,255.68 L178.7,256.14 L179.2,256.64 L179.7,257.05 L180.2,257.5 L180.7,258.02 L181.2,258.53 L181.7,259.14 L182.2,259.64 L182.7,260.07 L183.2,260.46 L183.7,261.01 L184.2,261.43 L184.7,262 L185.2,262.42 L185.7,262.93 L186.2,263.13 L186.7,263.6 L187.2,263.75 L187.7,264.04 L188.2,264.15 L188.7,264.47 L189.2,264.64 L189.7,264.94 L190.2,265.3 L190.7,265.53 L191.2,265.73 L191.7,265.92 L192.2,266.21 L192.7,266.55 L193.2,266.82 L193.7,267.18 L194.2,267.32 L194.7,267.73 L195.2,267.86 L195.7,268.21 L196.2,268.22 L196.7,268.36 L197.2,268.4 L197.7,268.73 L198.2,269 L198.7,269.31 L199.2,269.64 L199.7,269.96 L200.2,270.27 L200.7,270.49 L201.2,270.69 L201.7,270.78 L202.2,270.87 L202.7,270.96 L203.2,271.12 L203.7,271.35 L204.2,271.43 L204.7,271.41 L205.2,271.23 L205.7,271.04 L206.2,271.04 L206.7,271.3 L207.2,271.61 L207.7,271.76 L208.2,271.85 L208.7,271.8 L209.2,271.82 L209.7,271.79 L210.2,272.09 L210.7,272.22 L211.2,272.44 L211.7,272.32 L212.2,272.21 L212.7,271.91 L213.2,271.85 L213.7,271.84 L214.2,272.04 L214.7,272.13 L215.2,272.3 L215.7,272.23 L216.2,272.17 L216.7,272.1 L217.2,272.19 L217.7,272.37" fill="none" stroke="#1c1cf0" stroke-width="1.3" stroke-linejoin="round"/>
<path d="M56.7,297.53 L57.2,297.67 L57.7,297.66 L58.2,297.75 L58.7,297.54 L59.2,297.43 L59.7,297.31 L60.2,297.45 L60.7,297.66 L61.2,297.94 L61.7,297.97 L62.2,297.91 L62.7,297.73 L63.2,297.78 L63.7,297.82 L64.2,297.97 L64.7,298.02 L65.2,298.11 L65.7,298.14 L66.2,298.18 L66.7,298.37 L67.2,298.45 L67.7,298.6 L68.2,298.69 L68.7,298.85 L69.2,298.86 L69.7,298.88 L70.2,298.75 L70.7,298.58 L71.2,298.14 L71.7,297.91 L72.2,297.35 L72.7,297.14 L73.2,296.53 L73.7,296.13 L74.2,295.4 L74.7,294.94 L75.2,294.45 L75.7,294.18 L76.2,293.91 L76.7,293.7 L77.2,293.37 L77.7,293.27 L78.2,293.19 L78.7,293.44 L79.2,293.75 L79.7,294.25 L80.2,294.79 L80.7,295.43 L81.2,296.06 L81.7,296.6 L82.2,297.11 L82.7,297.4 L83.2,297.67 L83.7,297.83 L84.2,297.76 L84.7,297.72 L85.2,297.65 L85.7,297.6 L86.2,297.69 L86.7,297.59 L87.2,297.77 L87.7,297.56 L88.2,297.79 L88.7,297.57 L89.2,297.59 L89.7,297.23 L90.2,297.03 L90.7,296.73 L91.2,296.64 L91.7,296.48 L92.2,296.38 L92.7,296.19 L93.2,295.99 L93.7,295.71 L94.2,295.49 L94.7,295.29 L95.2,295.05 L95.7,294.7 L96.2,294.33 L96.7,293.95 L97.2,293.62 L97.7,293.39 L98.2,293.22 L98.7,292.96 L99.2,292.88 L99.7,292.62 L100.2,292.59 L100.7,292.31 L101.2,292.21 L101.7,291.91 L102.2,291.88 L102.7,291.91 L103.2,292.35 L103.7,292.79 L104.2,293.25 L104.7,293.5 L105.2,293.76 L105.7,293.99 L106.2,294.44 L106.7,294.92 L107.2,295.34 L107.7,295.56 L108.2,295.8 L108.7,295.93 L109.2,296.07 L109.7,296.18 L110.2,296.15 L110.7,296.06 L111.2,295.9 L111.7,295.7 L112.2,295.58 L112.7,295.42 L113.2,295.44 L113.7,295.28 L114.2,295.37 L114.7,295.26 L115.2,295.33 L115.7,295.14 L116.2,295.04 L116.7,294.72 L117.2,294.69 L117.7,294.6 L118.2,294.72 L118.7,294.81 L119.2,294.89 L119.7,294.93 L120.2,294.79 L120.7,294.68 L121.2,294.5 L121.7,294.47 L122.2,294.35 L122.7,294.34 L123.2,294.22 L123.7,294.25 L124.2,294.18 L124.7,294.13 L125.2,293.85 L125.7,293.75 L126.2,293.68 L126.7,293.66 L127.2,293.62 L127.7,293.5 L128.2,293.25 L128.7,292.96 L129.2,292.75 L129.7,292.62 L130.2,292.64 L130.7,292.8 L131.2,292.91 L131.7,292.96 L132.2,292.75 L132.7,292.62 L133.2,292.35 L133.7,292.21 L134.2,292.03 L134.7,292.05 L135.2,292 L135.7,291.9 L136.2,291.82 L136.7,291.83 L137.2,291.76 L137.7,291.68 L138.2,291.52 L138.7,291.42 L139.2,291.33 L139.7,291.27 L140.2,291.3 L140.7,291.05 L141.2,290.88 L141.7,290.61 L142.2,290.5 L142.7,290.4 L143.2,290.43 L143.7,290.44 L144.2,290.42 L144.7,290.27 L145.2,290.18 L145.7,289.89 L146.2,289.63 L146.7,289.34 L147.2,289.07 L147.7,288.94 L148.2,288.78 L148.7,288.7 L149.2,288.43 L149.7,288.37 L150.2,288.01 L150.7,287.81 L151.2,287.32 L151.7,286.8 L152.2,285.99 L152.7,285.22 L153.2,284.45 L153.7,283.63 L154.2,283.23 L154.7,282.96 L155.2,283.32 L155.7,284 L156.2,285.19 L156.7,286.31 L157.2,287.46 L157.7,288.32 L158.2,288.94 L158.7,289.11 L159.2,288.91 L159.7,288.27 L160.2,287.55 L160.7,286.57 L161.2,285.54 L161.7,284.53 L162.2,283.61 L162.7,282.64 L163.2,281.5 L163.7,280.5 L164.2,279.3 L164.7,278.27 L165.2,277.33 L165.7,276.75 L166.2,276.27 L166.7,276.28 L167.2,276.53 L167.7,277.23 L168.2,277.98 L168.7,279.25 L169.2,280.34 L169.7,281.66 L170.2,282.63 L170.7,283.8 L171.2,284.71 L171.7,285.84 L172.2,286.88 L172.7,287.87 L173.2,288.68 L173.7,289.14 L174.2,289.37 L174.7,289.44 L175.2,289.48 L175.7,289.42 L176.2,289.34 L176.7,289.25 L177.2,289.26 L177.7,289.27 L178.2,289.33 L178.7,289.38 L179.2,289.6 L179.7,289.77 L180.2,290.08 L180.7,290.18 L181.2,290.54 L181.7,290.65 L182.2,290.99 L182.7,290.95 L183.2,290.92 L183.7,290.84 L184.2,290.97 L184.7,291.52 L185.2,291.9 L185.7,292.59 L186.2,292.78 L186.7,293.27 L187.2,293.32 L187.7,293.8 L188.2,293.95 L188.7,294.56 L189.2,294.98 L189.7,295.51 L190.2,295.84 L190.7,296.12 L191.2,296.39 L191.7,296.55 L192.2,296.74 L192.7,296.75 L193.2,296.64 L193.7,296.44 L194.2,296.38 L194.7,296.42 L195.2,296.63 L195.7,296.73 L196.2,296.79 L196.7,296.68 L197.2,296.66 L197.7,296.63 L198.2,296.8 L198.7,296.87 L199.2,296.99 L199.7,296.86 L200.2,296.76 L200.7,296.62 L201.2,296.73 L201.7,296.89 L202.2,297.01 L202.7,297 L203.2,296.88 L203.7,296.89 L204.2,296.94 L204.7,297.25 L205.2,297.27 L205.7,297.4 L206.2,297.23 L206.7,297.2 L207.2,297 L207.7,296.92 L208.2,296.86 L208.7,296.86 L209.2,296.97 L209.7,297.18 L210.2,297.32 L210.7,297.41 L211.2,297.41 L211.7,297.36 L212.2,297.29 L212.7,297.29 L213.2,297.34 L213.7,297.4 L214.2,297.37 L214.7,297.23 L215.2,297.04 L215.7,297.02 L216.2,297.07 L216.7,297.34 L217.2,297.49 L217.7,297.6" fill="none" stroke="#f21a1a" stroke-width="1.3" stroke-linejoin="round"/>
<path d="M56.7,320.8 L57.2,320.8 L57.7,320.72 L58.2,320.6 L58.7,320.43 L59.2,320.26 L59.7,320.17 L60.2,320.14 L60.7,320.1 L61.2,320.12 L61.7,320.05 L62.2,319.99 L62.7,319.81 L63.2,319.7 L63.7,319.56 L64.2,319.49 L64.7,319.51 L65.2,319.48 L65.7,319.5 L66.2,319.37 L66.7,319.2 L67.2,319 L67.7,318.81 L68.2,318.76 L68.7,318.68 L69.2,318.75 L69.7,318.69 L70.2,318.69 L70.7,318.51 L71.2,318.33 L71.7,318.08 L72.2,317.9 L72.7,317.68 L73.2,317.52 L73.7,317.45 L74.2,317.39 L74.7,317.39 L75.2,317.4 L75.7,317.46 L76.2,317.6 L76.7,317.85 L77.2,318.15 L77.7,318.37 L78.2,318.57 L78.7,318.56 L79.2,318.59 L79.7,318.5 L80.2,318.47 L80.7,318.39 L81.2,318.4 L81.7,318.4 L82.2,318.39 L82.7,318.42 L83.2,318.42 L83.7,318.43 L84.2,318.4 L84.7,318.36 L85.2,318.37 L85.7,318.33 L86.2,318.31 L86.7,318.2 L87.2,318.11 L87.7,317.94 L88.2,317.91 L88.7,317.89 L89.2,317.86 L89.7,317.84 L90.2,317.82 L90.7,317.85 L91.2,317.82 L91.7,317.9 L92.2,317.83 L92.7,317.77 L93.2,317.64 L93.7,317.61 L94.2,317.58 L94.7,317.68 L95.2,317.76 L95.7,317.74 L96.2,317.63 L96.7,317.47 L97.2,317.39 L97.7,317.29 L98.2,317.32 L98.7,317.32 L99.2,317.38 L99.7,317.41 L100.2,317.4 L100.7,317.31 L101.2,317.18 L101.7,317.18 L102.2,317.22 L102.7,317.29 L103.2,317.36 L103.7,317.31 L104.2,317.32 L104.7,317.25 L105.2,317.26 L105.7,317.18 L106.2,317.1 L106.7,316.99 L107.2,316.83 L107.7,316.79 L108.2,316.72 L108.7,316.77 L109.2,316.77 L109.7,316.84 L110.2,316.79 L110.7,316.77 L111.2,316.73 L111.7,316.76 L112.2,316.75 L112.7,316.68 L113.2,316.59 L113.7,316.44 L114.2,316.39 L114.7,316.45 L115.2,316.44 L115.7,316.47 L116.2,316.31 L116.7,316.35 L117.2,316.25 L117.7,316.35 L118.2,316.24 L118.7,316.18 L119.2,315.98 L119.7,315.88 L120.2,315.77 L120.7,315.82 L121.2,315.91 L121.7,316.01 L122.2,315.97 L122.7,315.91 L123.2,315.75 L123.7,315.73 L124.2,315.71 L124.7,315.79 L125.2,315.73 L125.7,315.62 L126.2,315.44 L126.7,315.29 L127.2,315.28 L127.7,315.28 L128.2,315.34 L128.7,315.32 L129.2,315.35 L129.7,315.3 L130.2,315.27 L130.7,315.19 L131.2,315.12 L131.7,315.04 L132.2,315.06 L132.7,315.16 L133.2,315.13 L133.7,315.14 L134.2,315.04 L134.7,315.01 L135.2,314.94 L135.7,314.96 L136.2,314.97 L136.7,314.93 L137.2,314.94 L137.7,314.88 L138.2,314.86 L138.7,314.79 L139.2,314.81 L139.7,314.79 L140.2,314.78 L140.7,314.71 L141.2,314.62 L141.7,314.48 L142.2,314.34 L142.7,314.27 L143.2,314.16 L143.7,313.8 L144.2,313.16 L144.7,312.37 L145.2,311.43 L145.7,310.62 L146.2,309.84 L146.7,309.33 L147.2,309.07 L147.7,309.34 L148.2,310.08 L148.7,311.28 L149.2,312.5 L149.7,313.66 L150.2,314.41 L150.7,314.6 L151.2,313.84 L151.7,312.43 L152.2,310.78 L152.7,308.99 L153.2,307.56 L153.7,305.74 L154.2,303.91 L154.7,302.33 L155.2,301.62 L155.7,302.1 L156.2,303.97 L156.7,306.49 L157.2,309.01 L157.7,310.85 L158.2,312.65 L158.7,314.21 L159.2,315.26 L159.7,315.5 L160.2,315.6 L160.7,315.7 L161.2,315.79 L161.7,315.92 L162.2,316.06 L162.7,316.21 L163.2,316.29 L163.7,316.27 L164.2,316.29 L164.7,316.25 L165.2,316.34 L165.7,316.32 L166.2,316.32 L166.7,316.24 L167.2,316.26 L167.7,316.22 L168.2,316.3 L168.7,316.3 L169.2,316.42 L169.7,316.42 L170.2,316.52 L170.7,316.46 L171.2,316.5 L171.7,316.43 L172.2,316.5 L172.7,316.49 L173.2,316.6 L173.7,316.55 L174.2,316.61 L174.7,316.51 L175.2,316.63 L175.7,316.55 L176.2,316.68 L176.7,316.56 L177.2,316.71 L177.7,316.68 L178.2,316.87 L178.7,316.86 L179.2,316.89 L179.7,316.8 L180.2,316.85 L180.7,316.9 L181.2,317.01 L181.7,317.06 L182.2,317.1 L182.7,317.03 L183.2,317.05 L183.7,317.1 L184.2,317.17 L184.7,317.24 L185.2,317.19 L185.7,317.12 L186.2,317.07 L186.7,317.03 L187.2,317.04 L187.7,317 L188.2,317 L188.7,317.06 L189.2,317.04 L189.7,317.13 L190.2,317.06 L190.7,317.09 L191.2,317.02 L191.7,317.07 L192.2,317.14 L192.7,317.14 L193.2,317.15 L193.7,317.13 L194.2,317.15 L194.7,317.17 L195.2,317.16 L195.7,317.19 L196.2,317.1 L196.7,317.18 L197.2,317.2 L197.7,317.29 L198.2,317.18 L198.7,317.22 L199.2,317.26 L199.7,317.25 L200.2,317.21 L200.7,317.18 L201.2,317.14 L201.7,317.13 L202.2,317.16 L202.7,317.14 L203.2,317.11 L203.7,317.12 L204.2,317.16 L204.7,317.13 L205.2,317.15 L205.7,317.13 L206.2,317.16 L206.7,317.14 L207.2,317.22 L207.7,317.26 L208.2,317.33 L208.7,317.34 L209.2,317.35 L209.7,317.36 L210.2,317.38 L210.7,317.47 L211.2,317.51 L211.7,317.53 L212.2,317.46 L212.7,317.41 L213.2,317.35 L213.7,317.34 L214.2,317.28 L214.7,317.18 L215.2,317.1 L215.7,317.11 L216.2,317.23 L216.7,317.29 L217.2,317.34 L217.7,317.27" fill="none" stroke="#333" stroke-width="1.1" stroke-linejoin="round"/>
<text x="217" y="230.2" font-size="6.9" text-anchor="end" font-weight="bold" fill="#222" font-family='"Liberation Sans", sans-serif' >30.7 GPa</text>
<text x="217" y="256.4" font-size="6.9" text-anchor="end" font-weight="bold" fill="#222" font-family='"Liberation Sans", sans-serif' >21.6 GPa</text>
<text x="217" y="281" font-size="6.9" text-anchor="end" font-weight="bold" fill="#222" font-family='"Liberation Sans", sans-serif' >16.5 GPa</text>
<text x="217" y="304.4" font-size="6.9" text-anchor="end" font-weight="bold" fill="#222" font-family='"Liberation Sans", sans-serif' >10.8 GPa</text>
<text x="217" y="325" font-size="6.9" text-anchor="end" font-weight="bold" fill="#222" font-family='"Liberation Sans", sans-serif' >0.0 GPa</text>
<text x="73.8" y="315.6" font-size="9" text-anchor="start" font-weight="normal" fill="#333" font-family='"Liberation Sans", sans-serif' >J<tspan dy="2" font-size="5">1</tspan></text>
<text x="97" y="315.6" font-size="9" text-anchor="start" font-weight="normal" fill="#333" font-family='"Liberation Sans", sans-serif' >J<tspan dy="2" font-size="5">2</tspan></text>
<text x="129.9" y="314.3" font-size="9" text-anchor="start" font-weight="normal" fill="#333" font-family='"Liberation Sans", sans-serif' >J<tspan dy="2" font-size="5">3</tspan></text>
<text x="141" y="306.6" font-size="8.4" text-anchor="start" font-weight="normal" fill="#333" font-family='"Liberation Sans", sans-serif' >E<tspan dy="2" font-size="5.2">2g</tspan></text>
<text x="156.8" y="301.8" font-size="8.4" text-anchor="start" font-weight="normal" fill="#333" font-family='"Liberation Sans", sans-serif' >A<tspan dy="2" font-size="5.2">1g</tspan></text>
<rect x="259.7" y="200.7" width="158.5" height="128.9" fill="none" stroke="#262626" stroke-width="1"/>
<line x1="257.7" y1="301.3" x2="259.7" y2="301.3" stroke="#262626" stroke-width="1" />
<text x="256.3" y="303.8" font-size="7" text-anchor="end" font-weight="normal" fill="#333" font-family='"Liberation Sans", sans-serif' >200</text>
<line x1="257.7" y1="267.8" x2="259.7" y2="267.8" stroke="#262626" stroke-width="1" />
<text x="256.3" y="270.3" font-size="7" text-anchor="end" font-weight="normal" fill="#333" font-family='"Liberation Sans", sans-serif' >300</text>
<line x1="257.7" y1="234.3" x2="259.7" y2="234.3" stroke="#262626" stroke-width="1" />
<text x="256.3" y="236.8" font-size="7" text-anchor="end" font-weight="normal" fill="#333" font-family='"Liberation Sans", sans-serif' >400</text>
<line x1="257.7" y1="200.8" x2="259.7" y2="200.8" stroke="#262626" stroke-width="1" />
<text x="256.3" y="203.3" font-size="7" text-anchor="end" font-weight="normal" fill="#333" font-family='"Liberation Sans", sans-serif' >500</text>
<line x1="258.2" y1="318.05" x2="259.7" y2="318.05" stroke="#262626" stroke-width="1" />
<line x1="258.2" y1="284.55" x2="259.7" y2="284.55" stroke="#262626" stroke-width="1" />
<line x1="258.2" y1="251.05" x2="259.7" y2="251.05" stroke="#262626" stroke-width="1" />
<line x1="258.2" y1="217.55" x2="259.7" y2="217.55" stroke="#262626" stroke-width="1" />
<line x1="418.2" y1="212.8" x2="416.2" y2="212.8" stroke="#262626" stroke-width="1" />
<line x1="418.2" y1="225.55" x2="416.2" y2="225.55" stroke="#262626" stroke-width="1" />
<line x1="418.2" y1="238.3" x2="416.2" y2="238.3" stroke="#262626" stroke-width="1" />
<line x1="418.2" y1="251.05" x2="416.2" y2="251.05" stroke="#262626" stroke-width="1" />
<line x1="418.2" y1="263.8" x2="416.2" y2="263.8" stroke="#262626" stroke-width="1" />
<line x1="418.2" y1="276.55" x2="416.2" y2="276.55" stroke="#262626" stroke-width="1" />
<line x1="418.2" y1="289.3" x2="416.2" y2="289.3" stroke="#262626" stroke-width="1" />
<line x1="418.2" y1="302.05" x2="416.2" y2="302.05" stroke="#262626" stroke-width="1" />
<line x1="418.2" y1="314.8" x2="416.2" y2="314.8" stroke="#262626" stroke-width="1" />
<line x1="270.4" y1="329.6" x2="270.4" y2="331.6" stroke="#262626" stroke-width="1" />
<line x1="270.4" y1="200.7" x2="270.4" y2="202.7" stroke="#262626" stroke-width="1" />
<text x="270.4" y="338.8" font-size="7" text-anchor="middle" font-weight="normal" fill="#333" font-family='"Liberation Sans", sans-serif' >0</text>
<line x1="291.51" y1="329.6" x2="291.51" y2="331.6" stroke="#262626" stroke-width="1" />
<line x1="291.51" y1="200.7" x2="291.51" y2="202.7" stroke="#262626" stroke-width="1" />
<text x="291.51" y="338.8" font-size="7" text-anchor="middle" font-weight="normal" fill="#333" font-family='"Liberation Sans", sans-serif' >5</text>
<line x1="312.62" y1="329.6" x2="312.62" y2="331.6" stroke="#262626" stroke-width="1" />
<line x1="312.62" y1="200.7" x2="312.62" y2="202.7" stroke="#262626" stroke-width="1" />
<text x="312.62" y="338.8" font-size="7" text-anchor="middle" font-weight="normal" fill="#333" font-family='"Liberation Sans", sans-serif' >10</text>
<line x1="333.73" y1="329.6" x2="333.73" y2="331.6" stroke="#262626" stroke-width="1" />
<line x1="333.73" y1="200.7" x2="333.73" y2="202.7" stroke="#262626" stroke-width="1" />
<text x="333.73" y="338.8" font-size="7" text-anchor="middle" font-weight="normal" fill="#333" font-family='"Liberation Sans", sans-serif' >15</text>
<line x1="354.84" y1="329.6" x2="354.84" y2="331.6" stroke="#262626" stroke-width="1" />
<line x1="354.84" y1="200.7" x2="354.84" y2="202.7" stroke="#262626" stroke-width="1" />
<text x="354.84" y="338.8" font-size="7" text-anchor="middle" font-weight="normal" fill="#333" font-family='"Liberation Sans", sans-serif' >20</text>
<line x1="375.95" y1="329.6" x2="375.95" y2="331.6" stroke="#262626" stroke-width="1" />
<line x1="375.95" y1="200.7" x2="375.95" y2="202.7" stroke="#262626" stroke-width="1" />
<text x="375.95" y="338.8" font-size="7" text-anchor="middle" font-weight="normal" fill="#333" font-family='"Liberation Sans", sans-serif' >25</text>
<line x1="397.06" y1="329.6" x2="397.06" y2="331.6" stroke="#262626" stroke-width="1" />
<line x1="397.06" y1="200.7" x2="397.06" y2="202.7" stroke="#262626" stroke-width="1" />
<text x="397.06" y="338.8" font-size="7" text-anchor="middle" font-weight="normal" fill="#333" font-family='"Liberation Sans", sans-serif' >30</text>
<line x1="418.17" y1="329.6" x2="418.17" y2="331.6" stroke="#262626" stroke-width="1" />
<line x1="418.17" y1="200.7" x2="418.17" y2="202.7" stroke="#262626" stroke-width="1" />
<text x="418.17" y="338.8" font-size="7" text-anchor="middle" font-weight="normal" fill="#333" font-family='"Liberation Sans", sans-serif' >35</text>
<text x="339" y="351.6" font-size="8.5" text-anchor="middle" font-weight="normal" fill="#161616" font-family='"Liberation Sans", sans-serif' >Pressure (GPa)</text>
<g transform="translate(240.3,270.2) rotate(-90)"><text x="0" y="0" font-size="8.5" text-anchor="middle" fill="#161616" font-family='"Liberation Sans", sans-serif'>Raman shift (cm<tspan dy="-3" font-size="6">-1</tspan><tspan dy="3">)</tspan></text></g>
<path d="M270.4,229.8 L273.6,233 L270.4,236.2 L267.2,233Z" fill="none" stroke="#1a8a1a" stroke-width="1.0"/>
<path d="M276.4,227.52 L279.8,230.92 L276.4,234.32 L273,230.92Z" fill="none" stroke="#1a8a1a" stroke-width="1.0"/>
<path d="M278.52,226.06 L281.92,229.46 L278.52,232.86 L275.12,229.46Z" fill="none" stroke="#1a8a1a" stroke-width="1.0"/>
<path d="M280.64,226.1 L284.04,229.5 L280.64,232.9 L277.24,229.5Z" fill="none" stroke="#1a8a1a" stroke-width="1.0"/>
<path d="M282.76,225.61 L286.16,229.01 L282.76,232.41 L279.36,229.01Z" fill="none" stroke="#1a8a1a" stroke-width="1.0"/>
<path d="M284.87,224.36 L288.27,227.76 L284.87,231.16 L281.47,227.76Z" fill="none" stroke="#1a8a1a" stroke-width="1.0"/>
<path d="M286.99,223.98 L290.39,227.38 L286.99,230.78 L283.59,227.38Z" fill="none" stroke="#1a8a1a" stroke-width="1.0"/>
<path d="M289.11,222.58 L292.51,225.98 L289.11,229.38 L285.71,225.98Z" fill="none" stroke="#1a8a1a" stroke-width="1.0"/>
<path d="M291.23,222.76 L294.63,226.16 L291.23,229.56 L287.83,226.16Z" fill="none" stroke="#1a8a1a" stroke-width="1.0"/>
<path d="M293.35,221.72 L296.75,225.12 L293.35,228.52 L289.95,225.12Z" fill="none" stroke="#1a8a1a" stroke-width="1.0"/>
<path d="M295.47,222.56 L298.87,225.96 L295.47,229.36 L292.07,225.96Z" fill="none" stroke="#1a8a1a" stroke-width="1.0"/>
<path d="M297.59,221.84 L300.99,225.24 L297.59,228.64 L294.19,225.24Z" fill="none" stroke="#1a8a1a" stroke-width="1.0"/>
<path d="M299.71,221.85 L303.11,225.25 L299.71,228.65 L296.31,225.25Z" fill="none" stroke="#1a8a1a" stroke-width="1.0"/>
<path d="M301.82,221.02 L305.22,224.42 L301.82,227.82 L298.42,224.42Z" fill="none" stroke="#1a8a1a" stroke-width="1.0"/>
<path d="M303.94,219.93 L307.34,223.33 L303.94,226.73 L300.54,223.33Z" fill="none" stroke="#1a8a1a" stroke-width="1.0"/>
<path d="M306.06,220.03 L309.46,223.43 L306.06,226.83 L302.66,223.43Z" fill="none" stroke="#1a8a1a" stroke-width="1.0"/>
<path d="M308.18,219.11 L311.58,222.51 L308.18,225.91 L304.78,222.51Z" fill="none" stroke="#1a8a1a" stroke-width="1.0"/>
<path d="M310.3,219.22 L313.7,222.62 L310.3,226.02 L306.9,222.62Z" fill="none" stroke="#1a8a1a" stroke-width="1.0"/>
<path d="M312.42,218.57 L315.82,221.97 L312.42,225.37 L309.02,221.97Z" fill="none" stroke="#1a8a1a" stroke-width="1.0"/>
<path d="M314.54,217.32 L317.94,220.72 L314.54,224.12 L311.14,220.72Z" fill="none" stroke="#1a8a1a" stroke-width="1.0"/>
<path d="M316.65,217.44 L320.05,220.84 L316.65,224.24 L313.25,220.84Z" fill="none" stroke="#1a8a1a" stroke-width="1.0"/>
<path d="M318.77,217.01 L322.17,220.41 L318.77,223.81 L315.37,220.41Z" fill="none" stroke="#1a8a1a" stroke-width="1.0"/>
<path d="M320.89,216.34 L324.29,219.74 L320.89,223.14 L317.49,219.74Z" fill="none" stroke="#1a8a1a" stroke-width="1.0"/>
<path d="M323.01,216.61 L326.41,220.01 L323.01,223.41 L319.61,220.01Z" fill="none" stroke="#1a8a1a" stroke-width="1.0"/>
<path d="M325.13,216.65 L328.53,220.05 L325.13,223.45 L321.73,220.05Z" fill="none" stroke="#1a8a1a" stroke-width="1.0"/>
<path d="M327.25,214.96 L330.65,218.36 L327.25,221.76 L323.85,218.36Z" fill="none" stroke="#1a8a1a" stroke-width="1.0"/>
<path d="M329.37,214.53 L332.77,217.93 L329.37,221.33 L325.97,217.93Z" fill="none" stroke="#1a8a1a" stroke-width="1.0"/>
<path d="M331.48,212.97 L334.88,216.37 L331.48,219.77 L328.08,216.37Z" fill="none" stroke="#1a8a1a" stroke-width="1.0"/>
<path d="M333.6,213.81 L337,217.21 L333.6,220.61 L330.2,217.21Z" fill="none" stroke="#1a8a1a" stroke-width="1.0"/>
<path d="M335.72,213.21 L339.12,216.61 L335.72,220.01 L332.32,216.61Z" fill="none" stroke="#1a8a1a" stroke-width="1.0"/>
<path d="M337.84,211.76 L341.24,215.16 L337.84,218.56 L334.44,215.16Z" fill="none" stroke="#1a8a1a" stroke-width="1.0"/>
<path d="M339.96,212.82 L343.36,216.22 L339.96,219.62 L336.56,216.22Z" fill="none" stroke="#1a8a1a" stroke-width="1.0"/>
<path d="M342.08,212.6 L345.48,216 L342.08,219.4 L338.68,216Z" fill="none" stroke="#1a8a1a" stroke-width="1.0"/>
<path d="M344.2,211.41 L347.6,214.81 L344.2,218.21 L340.8,214.81Z" fill="none" stroke="#1a8a1a" stroke-width="1.0"/>
<path d="M346.32,211.23 L349.72,214.63 L346.32,218.03 L342.92,214.63Z" fill="none" stroke="#1a8a1a" stroke-width="1.0"/>
<path d="M348.43,210.49 L351.83,213.89 L348.43,217.29 L345.03,213.89Z" fill="none" stroke="#1a8a1a" stroke-width="1.0"/>
<path d="M350.55,211.15 L353.95,214.55 L350.55,217.95 L347.15,214.55Z" fill="none" stroke="#1a8a1a" stroke-width="1.0"/>
<path d="M352.67,209.4 L356.07,212.8 L352.67,216.2 L349.27,212.8Z" fill="none" stroke="#1a8a1a" stroke-width="1.0"/>
<path d="M354.79,209.76 L358.19,213.16 L354.79,216.56 L351.39,213.16Z" fill="none" stroke="#1a8a1a" stroke-width="1.0"/>
<path d="M356.91,210.75 L360.31,214.15 L356.91,217.55 L353.51,214.15Z" fill="none" stroke="#1a8a1a" stroke-width="1.0"/>
<path d="M359.03,209.25 L362.43,212.65 L359.03,216.05 L355.63,212.65Z" fill="none" stroke="#1a8a1a" stroke-width="1.0"/>
<path d="M361.15,209.15 L364.55,212.55 L361.15,215.95 L357.75,212.55Z" fill="none" stroke="#1a8a1a" stroke-width="1.0"/>
<path d="M363.26,208.43 L366.66,211.83 L363.26,215.23 L359.86,211.83Z" fill="none" stroke="#1a8a1a" stroke-width="1.0"/>
<path d="M365.38,207.47 L368.78,210.87 L365.38,214.27 L361.98,210.87Z" fill="none" stroke="#1a8a1a" stroke-width="1.0"/>
<path d="M367.5,207.81 L370.9,211.21 L367.5,214.61 L364.1,211.21Z" fill="none" stroke="#1a8a1a" stroke-width="1.0"/>
<path d="M369.62,207.74 L373.02,211.14 L369.62,214.54 L366.22,211.14Z" fill="none" stroke="#1a8a1a" stroke-width="1.0"/>
<path d="M371.74,206.55 L375.14,209.95 L371.74,213.35 L368.34,209.95Z" fill="none" stroke="#1a8a1a" stroke-width="1.0"/>
<path d="M373.86,207.04 L377.26,210.44 L373.86,213.84 L370.46,210.44Z" fill="none" stroke="#1a8a1a" stroke-width="1.0"/>
<path d="M375.98,207.26 L379.38,210.66 L375.98,214.06 L372.58,210.66Z" fill="none" stroke="#1a8a1a" stroke-width="1.0"/>
<path d="M378.09,206.83 L381.49,210.23 L378.09,213.63 L374.69,210.23Z" fill="none" stroke="#1a8a1a" stroke-width="1.0"/>
<path d="M380.21,204.92 L383.61,208.32 L380.21,211.72 L376.81,208.32Z" fill="none" stroke="#1a8a1a" stroke-width="1.0"/>
<path d="M382.33,204.97 L385.73,208.37 L382.33,211.77 L378.93,208.37Z" fill="none" stroke="#1a8a1a" stroke-width="1.0"/>
<path d="M384.45,204.27 L387.85,207.67 L384.45,211.07 L381.05,207.67Z" fill="none" stroke="#1a8a1a" stroke-width="1.0"/>
<path d="M386.57,205.57 L389.97,208.97 L386.57,212.37 L383.17,208.97Z" fill="none" stroke="#1a8a1a" stroke-width="1.0"/>
<path d="M388.69,204.99 L392.09,208.39 L388.69,211.79 L385.29,208.39Z" fill="none" stroke="#1a8a1a" stroke-width="1.0"/>
<path d="M390.81,204.74 L394.21,208.14 L390.81,211.54 L387.41,208.14Z" fill="none" stroke="#1a8a1a" stroke-width="1.0"/>
<path d="M392.93,203.48 L396.33,206.88 L392.93,210.28 L389.53,206.88Z" fill="none" stroke="#1a8a1a" stroke-width="1.0"/>
<path d="M395.04,203.01 L398.44,206.41 L395.04,209.81 L391.64,206.41Z" fill="none" stroke="#1a8a1a" stroke-width="1.0"/>
<path d="M397.16,203.45 L400.56,206.85 L397.16,210.25 L393.76,206.85Z" fill="none" stroke="#1a8a1a" stroke-width="1.0"/>
<path d="M399.28,203.16 L402.68,206.56 L399.28,209.96 L395.88,206.56Z" fill="none" stroke="#1a8a1a" stroke-width="1.0"/>
<path d="M401.4,202.29 L404.8,205.69 L401.4,209.09 L398,205.69Z" fill="none" stroke="#1a8a1a" stroke-width="1.0"/>
<path d="M267.4,238.6 L273.4,238.6 L270.4,243.7Z" fill="none" stroke="#f020f0" stroke-width="1.0"/>
<path d="M274.5,237.12 L280.7,237.12 L277.6,242.39Z" fill="none" stroke="#f020f0" stroke-width="1.0"/>
<path d="M276.75,237.11 L282.95,237.11 L279.85,242.38Z" fill="none" stroke="#f020f0" stroke-width="1.0"/>
<path d="M279,236.55 L285.2,236.55 L282.1,241.82Z" fill="none" stroke="#f020f0" stroke-width="1.0"/>
<path d="M281.25,235.49 L287.45,235.49 L284.35,240.76Z" fill="none" stroke="#f020f0" stroke-width="1.0"/>
<path d="M283.5,234.54 L289.7,234.54 L286.6,239.81Z" fill="none" stroke="#f020f0" stroke-width="1.0"/>
<path d="M285.75,235.35 L291.95,235.35 L288.85,240.62Z" fill="none" stroke="#f020f0" stroke-width="1.0"/>
<path d="M288.01,235.3 L294.21,235.3 L291.11,240.57Z" fill="none" stroke="#f020f0" stroke-width="1.0"/>
<path d="M290.26,234.74 L296.46,234.74 L293.36,240.01Z" fill="none" stroke="#f020f0" stroke-width="1.0"/>
<path d="M292.51,234.34 L298.71,234.34 L295.61,239.61Z" fill="none" stroke="#f020f0" stroke-width="1.0"/>
<path d="M294.76,233.88 L300.96,233.88 L297.86,239.15Z" fill="none" stroke="#f020f0" stroke-width="1.0"/>
<path d="M297.01,234.43 L303.21,234.43 L300.11,239.7Z" fill="none" stroke="#f020f0" stroke-width="1.0"/>
<path d="M299.26,233.67 L305.46,233.67 L302.36,238.94Z" fill="none" stroke="#f020f0" stroke-width="1.0"/>
<path d="M301.51,233.48 L307.71,233.48 L304.61,238.75Z" fill="none" stroke="#f020f0" stroke-width="1.0"/>
<path d="M303.76,232.53 L309.96,232.53 L306.86,237.8Z" fill="none" stroke="#f020f0" stroke-width="1.0"/>
<path d="M306.01,232.45 L312.21,232.45 L309.11,237.72Z" fill="none" stroke="#f020f0" stroke-width="1.0"/>
<path d="M308.26,232.64 L314.46,232.64 L311.36,237.91Z" fill="none" stroke="#f020f0" stroke-width="1.0"/>
<path d="M310.51,231.65 L316.71,231.65 L313.61,236.92Z" fill="none" stroke="#f020f0" stroke-width="1.0"/>
<path d="M312.77,231.21 L318.97,231.21 L315.87,236.48Z" fill="none" stroke="#f020f0" stroke-width="1.0"/>
<path d="M315.02,231.49 L321.22,231.49 L318.12,236.76Z" fill="none" stroke="#f020f0" stroke-width="1.0"/>
<path d="M317.27,232.13 L323.47,232.13 L320.37,237.4Z" fill="none" stroke="#f020f0" stroke-width="1.0"/>
<path d="M319.52,231.25 L325.72,231.25 L322.62,236.52Z" fill="none" stroke="#f020f0" stroke-width="1.0"/>
<path d="M321.77,231.74 L327.97,231.74 L324.87,237.01Z" fill="none" stroke="#f020f0" stroke-width="1.0"/>
<path d="M324.02,230.52 L330.22,230.52 L327.12,235.79Z" fill="none" stroke="#f020f0" stroke-width="1.0"/>
<path d="M326.27,230.15 L332.47,230.15 L329.37,235.42Z" fill="none" stroke="#f020f0" stroke-width="1.0"/>
<path d="M328.52,229.24 L334.72,229.24 L331.62,234.51Z" fill="none" stroke="#f020f0" stroke-width="1.0"/>
<path d="M330.77,229.47 L336.97,229.47 L333.87,234.74Z" fill="none" stroke="#f020f0" stroke-width="1.0"/>
<path d="M333.02,230.42 L339.22,230.42 L336.12,235.69Z" fill="none" stroke="#f020f0" stroke-width="1.0"/>
<path d="M335.27,229.5 L341.47,229.5 L338.37,234.77Z" fill="none" stroke="#f020f0" stroke-width="1.0"/>
<path d="M337.53,229.5 L343.73,229.5 L340.63,234.77Z" fill="none" stroke="#f020f0" stroke-width="1.0"/>
<path d="M339.78,229.23 L345.98,229.23 L342.88,234.5Z" fill="none" stroke="#f020f0" stroke-width="1.0"/>
<path d="M342.03,228.56 L348.23,228.56 L345.13,233.83Z" fill="none" stroke="#f020f0" stroke-width="1.0"/>
<path d="M344.28,228.21 L350.48,228.21 L347.38,233.48Z" fill="none" stroke="#f020f0" stroke-width="1.0"/>
<path d="M346.53,228.16 L352.73,228.16 L349.63,233.43Z" fill="none" stroke="#f020f0" stroke-width="1.0"/>
<path d="M348.78,228.26 L354.98,228.26 L351.88,233.53Z" fill="none" stroke="#f020f0" stroke-width="1.0"/>
<path d="M351.03,227.9 L357.23,227.9 L354.13,233.17Z" fill="none" stroke="#f020f0" stroke-width="1.0"/>
<path d="M353.28,227.7 L359.48,227.7 L356.38,232.97Z" fill="none" stroke="#f020f0" stroke-width="1.0"/>
<path d="M355.53,227.27 L361.73,227.27 L358.63,232.54Z" fill="none" stroke="#f020f0" stroke-width="1.0"/>
<path d="M357.78,226.5 L363.98,226.5 L360.88,231.77Z" fill="none" stroke="#f020f0" stroke-width="1.0"/>
<path d="M360.03,226.58 L366.23,226.58 L363.13,231.85Z" fill="none" stroke="#f020f0" stroke-width="1.0"/>
<path d="M362.29,225.96 L368.49,225.96 L365.39,231.23Z" fill="none" stroke="#f020f0" stroke-width="1.0"/>
<path d="M364.54,226.91 L370.74,226.91 L367.64,232.18Z" fill="none" stroke="#f020f0" stroke-width="1.0"/>
<path d="M366.79,224.84 L372.99,224.84 L369.89,230.11Z" fill="none" stroke="#f020f0" stroke-width="1.0"/>
<path d="M369.04,225.76 L375.24,225.76 L372.14,231.03Z" fill="none" stroke="#f020f0" stroke-width="1.0"/>
<path d="M371.29,227.12 L377.49,227.12 L374.39,232.39Z" fill="none" stroke="#f020f0" stroke-width="1.0"/>
<path d="M373.54,225.28 L379.74,225.28 L376.64,230.55Z" fill="none" stroke="#f020f0" stroke-width="1.0"/>
<path d="M375.79,224.6 L381.99,224.6 L378.89,229.87Z" fill="none" stroke="#f020f0" stroke-width="1.0"/>
<path d="M378.04,225.07 L384.24,225.07 L381.14,230.34Z" fill="none" stroke="#f020f0" stroke-width="1.0"/>
<path d="M380.29,225.66 L386.49,225.66 L383.39,230.93Z" fill="none" stroke="#f020f0" stroke-width="1.0"/>
<path d="M382.54,224.59 L388.74,224.59 L385.64,229.86Z" fill="none" stroke="#f020f0" stroke-width="1.0"/>
<path d="M384.79,224.86 L390.99,224.86 L387.89,230.13Z" fill="none" stroke="#f020f0" stroke-width="1.0"/>
<path d="M387.05,224.35 L393.25,224.35 L390.15,229.62Z" fill="none" stroke="#f020f0" stroke-width="1.0"/>
<path d="M389.3,223.88 L395.5,223.88 L392.4,229.15Z" fill="none" stroke="#f020f0" stroke-width="1.0"/>
<path d="M391.55,225.8 L397.75,225.8 L394.65,231.07Z" fill="none" stroke="#f020f0" stroke-width="1.0"/>
<path d="M393.8,223.76 L400,223.76 L396.9,229.03Z" fill="none" stroke="#f020f0" stroke-width="1.0"/>
<path d="M396.05,223.2 L402.25,223.2 L399.15,228.47Z" fill="none" stroke="#f020f0" stroke-width="1.0"/>
<path d="M398.3,223.04 L404.5,223.04 L401.4,228.31Z" fill="none" stroke="#f020f0" stroke-width="1.0"/>
<path d="M267.4,260.3 L273.4,260.3 L270.4,255.2Z" fill="none" stroke="#2020d0" stroke-width="1.0"/>
<path d="M274.7,255.66 L280.5,255.66 L277.6,250.73Z" fill="none" stroke="#2020d0" stroke-width="1.0"/>
<path d="M276.18,255.26 L281.98,255.26 L279.08,250.33Z" fill="none" stroke="#2020d0" stroke-width="1.0"/>
<path d="M277.67,255.06 L283.47,255.06 L280.57,250.13Z" fill="none" stroke="#2020d0" stroke-width="1.0"/>
<path d="M279.15,254.26 L284.95,254.26 L282.05,249.33Z" fill="none" stroke="#2020d0" stroke-width="1.0"/>
<path d="M280.64,252.91 L286.44,252.91 L283.54,247.98Z" fill="none" stroke="#2020d0" stroke-width="1.0"/>
<path d="M282.12,253.68 L287.92,253.68 L285.02,248.75Z" fill="none" stroke="#2020d0" stroke-width="1.0"/>
<path d="M283.6,252.77 L289.4,252.77 L286.5,247.84Z" fill="none" stroke="#2020d0" stroke-width="1.0"/>
<path d="M285.09,252.38 L290.89,252.38 L287.99,247.45Z" fill="none" stroke="#2020d0" stroke-width="1.0"/>
<path d="M286.57,251.27 L292.37,251.27 L289.47,246.34Z" fill="none" stroke="#2020d0" stroke-width="1.0"/>
<path d="M288.06,251.43 L293.86,251.43 L290.96,246.5Z" fill="none" stroke="#2020d0" stroke-width="1.0"/>
<path d="M289.54,250.96 L295.34,250.96 L292.44,246.03Z" fill="none" stroke="#2020d0" stroke-width="1.0"/>
<path d="M291.02,251 L296.82,251 L293.92,246.07Z" fill="none" stroke="#2020d0" stroke-width="1.0"/>
<path d="M292.51,249.79 L298.31,249.79 L295.41,244.86Z" fill="none" stroke="#2020d0" stroke-width="1.0"/>
<path d="M293.99,250.33 L299.79,250.33 L296.89,245.4Z" fill="none" stroke="#2020d0" stroke-width="1.0"/>
<path d="M295.48,250.03 L301.28,250.03 L298.38,245.1Z" fill="none" stroke="#2020d0" stroke-width="1.0"/>
<path d="M296.96,248.94 L302.76,248.94 L299.86,244.01Z" fill="none" stroke="#2020d0" stroke-width="1.0"/>
<path d="M298.44,248.91 L304.24,248.91 L301.34,243.98Z" fill="none" stroke="#2020d0" stroke-width="1.0"/>
<path d="M299.93,248.44 L305.73,248.44 L302.83,243.51Z" fill="none" stroke="#2020d0" stroke-width="1.0"/>
<path d="M301.41,249.18 L307.21,249.18 L304.31,244.25Z" fill="none" stroke="#2020d0" stroke-width="1.0"/>
<path d="M302.9,246.81 L308.7,246.81 L305.8,241.88Z" fill="none" stroke="#2020d0" stroke-width="1.0"/>
<path d="M304.38,247.81 L310.18,247.81 L307.28,242.88Z" fill="none" stroke="#2020d0" stroke-width="1.0"/>
<path d="M305.86,246.72 L311.66,246.72 L308.76,241.79Z" fill="none" stroke="#2020d0" stroke-width="1.0"/>
<path d="M307.35,247.15 L313.15,247.15 L310.25,242.22Z" fill="none" stroke="#2020d0" stroke-width="1.0"/>
<path d="M308.83,247.63 L314.63,247.63 L311.73,242.7Z" fill="none" stroke="#2020d0" stroke-width="1.0"/>
<path d="M310.32,246.44 L316.12,246.44 L313.22,241.51Z" fill="none" stroke="#2020d0" stroke-width="1.0"/>
<path d="M311.8,246.61 L317.6,246.61 L314.7,241.68Z" fill="none" stroke="#2020d0" stroke-width="1.0"/>
<polyline points="270.4,258.5 300,247 332.5,235.1" fill="none" stroke="#111" stroke-width="1.5"/>
<circle cx="270.4" cy="292.7" r="2.8" fill="none" stroke="#f21a1a" stroke-width="1.0"/>
<circle cx="276.4" cy="290.99" r="2.8" fill="none" stroke="#f21a1a" stroke-width="1.0"/>
<circle cx="278.65" cy="292.46" r="2.8" fill="none" stroke="#f21a1a" stroke-width="1.0"/>
<circle cx="280.9" cy="291.64" r="2.8" fill="none" stroke="#f21a1a" stroke-width="1.0"/>
<circle cx="283.15" cy="291.56" r="2.8" fill="none" stroke="#f21a1a" stroke-width="1.0"/>
<circle cx="285.4" cy="289.88" r="2.8" fill="none" stroke="#f21a1a" stroke-width="1.0"/>
<circle cx="287.65" cy="289.82" r="2.8" fill="none" stroke="#f21a1a" stroke-width="1.0"/>
<circle cx="289.91" cy="290.92" r="2.8" fill="none" stroke="#f21a1a" stroke-width="1.0"/>
<circle cx="292.16" cy="289.95" r="2.8" fill="none" stroke="#f21a1a" stroke-width="1.0"/>
<circle cx="294.41" cy="289.71" r="2.8" fill="none" stroke="#f21a1a" stroke-width="1.0"/>
<circle cx="296.66" cy="289.87" r="2.8" fill="none" stroke="#f21a1a" stroke-width="1.0"/>
<circle cx="298.91" cy="288.71" r="2.8" fill="none" stroke="#f21a1a" stroke-width="1.0"/>
<circle cx="301.16" cy="289.73" r="2.8" fill="none" stroke="#f21a1a" stroke-width="1.0"/>
<circle cx="303.41" cy="289.08" r="2.8" fill="none" stroke="#f21a1a" stroke-width="1.0"/>
<circle cx="305.66" cy="289.16" r="2.8" fill="none" stroke="#f21a1a" stroke-width="1.0"/>
<circle cx="307.91" cy="288.27" r="2.8" fill="none" stroke="#f21a1a" stroke-width="1.0"/>
<circle cx="310.16" cy="288.78" r="2.8" fill="none" stroke="#f21a1a" stroke-width="1.0"/>
<circle cx="312.41" cy="287.86" r="2.8" fill="none" stroke="#f21a1a" stroke-width="1.0"/>
<circle cx="314.67" cy="288.66" r="2.8" fill="none" stroke="#f21a1a" stroke-width="1.0"/>
<circle cx="316.92" cy="288.58" r="2.8" fill="none" stroke="#f21a1a" stroke-width="1.0"/>
<circle cx="319.17" cy="288.25" r="2.8" fill="none" stroke="#f21a1a" stroke-width="1.0"/>
<circle cx="321.42" cy="287.83" r="2.8" fill="none" stroke="#f21a1a" stroke-width="1.0"/>
<circle cx="323.67" cy="287.71" r="2.8" fill="none" stroke="#f21a1a" stroke-width="1.0"/>
<circle cx="325.92" cy="285.52" r="2.8" fill="none" stroke="#f21a1a" stroke-width="1.0"/>
<circle cx="328.17" cy="287.46" r="2.8" fill="none" stroke="#f21a1a" stroke-width="1.0"/>
<circle cx="330.42" cy="286.61" r="2.8" fill="none" stroke="#f21a1a" stroke-width="1.0"/>
<circle cx="332.67" cy="286.65" r="2.8" fill="none" stroke="#f21a1a" stroke-width="1.0"/>
<circle cx="334.92" cy="286.25" r="2.8" fill="none" stroke="#f21a1a" stroke-width="1.0"/>
<circle cx="337.17" cy="285.4" r="2.8" fill="none" stroke="#f21a1a" stroke-width="1.0"/>
<circle cx="339.43" cy="285.74" r="2.8" fill="none" stroke="#f21a1a" stroke-width="1.0"/>
<circle cx="341.68" cy="286.28" r="2.8" fill="none" stroke="#f21a1a" stroke-width="1.0"/>
<circle cx="343.93" cy="286.56" r="2.8" fill="none" stroke="#f21a1a" stroke-width="1.0"/>
<circle cx="346.18" cy="285.17" r="2.8" fill="none" stroke="#f21a1a" stroke-width="1.0"/>
<circle cx="348.43" cy="284.83" r="2.8" fill="none" stroke="#f21a1a" stroke-width="1.0"/>
<circle cx="350.68" cy="286.08" r="2.8" fill="none" stroke="#f21a1a" stroke-width="1.0"/>
<circle cx="352.93" cy="284.51" r="2.8" fill="none" stroke="#f21a1a" stroke-width="1.0"/>
<circle cx="355.18" cy="286.12" r="2.8" fill="none" stroke="#f21a1a" stroke-width="1.0"/>
<circle cx="357.43" cy="284.74" r="2.8" fill="none" stroke="#f21a1a" stroke-width="1.0"/>
<circle cx="359.68" cy="284.02" r="2.8" fill="none" stroke="#f21a1a" stroke-width="1.0"/>
<circle cx="361.93" cy="284.98" r="2.8" fill="none" stroke="#f21a1a" stroke-width="1.0"/>
<circle cx="364.19" cy="285.24" r="2.8" fill="none" stroke="#f21a1a" stroke-width="1.0"/>
<circle cx="366.44" cy="283.21" r="2.8" fill="none" stroke="#f21a1a" stroke-width="1.0"/>
<circle cx="368.69" cy="284.85" r="2.8" fill="none" stroke="#f21a1a" stroke-width="1.0"/>
<circle cx="370.94" cy="283.59" r="2.8" fill="none" stroke="#f21a1a" stroke-width="1.0"/>
<circle cx="373.19" cy="284.49" r="2.8" fill="none" stroke="#f21a1a" stroke-width="1.0"/>
<circle cx="375.44" cy="283.22" r="2.8" fill="none" stroke="#f21a1a" stroke-width="1.0"/>
<circle cx="377.69" cy="282.35" r="2.8" fill="none" stroke="#f21a1a" stroke-width="1.0"/>
<circle cx="379.94" cy="283.44" r="2.8" fill="none" stroke="#f21a1a" stroke-width="1.0"/>
<circle cx="382.19" cy="283.55" r="2.8" fill="none" stroke="#f21a1a" stroke-width="1.0"/>
<circle cx="384.44" cy="284.1" r="2.8" fill="none" stroke="#f21a1a" stroke-width="1.0"/>
<circle cx="386.69" cy="283.72" r="2.8" fill="none" stroke="#f21a1a" stroke-width="1.0"/>
<circle cx="388.95" cy="282.96" r="2.8" fill="none" stroke="#f21a1a" stroke-width="1.0"/>
<circle cx="391.2" cy="282.25" r="2.8" fill="none" stroke="#f21a1a" stroke-width="1.0"/>
<circle cx="393.45" cy="281.93" r="2.8" fill="none" stroke="#f21a1a" stroke-width="1.0"/>
<circle cx="395.7" cy="281.92" r="2.8" fill="none" stroke="#f21a1a" stroke-width="1.0"/>
<circle cx="397.95" cy="281.45" r="2.8" fill="none" stroke="#f21a1a" stroke-width="1.0"/>
<circle cx="400.2" cy="281.64" r="2.8" fill="none" stroke="#f21a1a" stroke-width="1.0"/>
<polyline points="270.4,292.5 368.9,286.3" fill="none" stroke="#111" stroke-width="1.5"/>
<rect x="267.8" y="314.5" width="5.2" height="5.2" fill="none" stroke="#f0900a" stroke-width="1.0"/>
<rect x="273.9" y="312.37" width="5" height="5" fill="none" stroke="#f39a1c" stroke-width="1.0"/>
<rect x="276.37" y="313.78" width="5" height="5" fill="none" stroke="#f39a1c" stroke-width="1.0"/>
<rect x="278.85" y="313.42" width="5" height="5" fill="none" stroke="#f39a1c" stroke-width="1.0"/>
<rect x="281.32" y="314.75" width="5" height="5" fill="none" stroke="#f39a1c" stroke-width="1.0"/>
<rect x="283.79" y="313.44" width="5" height="5" fill="none" stroke="#f39a1c" stroke-width="1.0"/>
<rect x="286.27" y="312.46" width="5" height="5" fill="none" stroke="#f39a1c" stroke-width="1.0"/>
<rect x="288.74" y="312.86" width="5" height="5" fill="none" stroke="#f39a1c" stroke-width="1.0"/>
<rect x="291.21" y="311.56" width="5" height="5" fill="none" stroke="#f39a1c" stroke-width="1.0"/>
<rect x="293.69" y="311.71" width="5" height="5" fill="none" stroke="#f39a1c" stroke-width="1.0"/>
<rect x="296.16" y="310.73" width="5" height="5" fill="none" stroke="#f39a1c" stroke-width="1.0"/>
<rect x="298.63" y="312.48" width="5" height="5" fill="none" stroke="#f39a1c" stroke-width="1.0"/>
<rect x="301.11" y="311.76" width="5" height="5" fill="none" stroke="#f39a1c" stroke-width="1.0"/>
<rect x="303.58" y="310.48" width="5" height="5" fill="none" stroke="#f39a1c" stroke-width="1.0"/>
<rect x="306.05" y="310.93" width="5" height="5" fill="none" stroke="#f39a1c" stroke-width="1.0"/>
<rect x="308.53" y="311.32" width="5" height="5" fill="none" stroke="#f39a1c" stroke-width="1.0"/>
<rect x="311" y="310.83" width="5" height="5" fill="none" stroke="#f39a1c" stroke-width="1.0"/>
<rect x="313.47" y="310.55" width="5" height="5" fill="none" stroke="#f39a1c" stroke-width="1.0"/>
<rect x="315.95" y="309.6" width="5" height="5" fill="none" stroke="#f39a1c" stroke-width="1.0"/>
<rect x="318.42" y="309.52" width="5" height="5" fill="none" stroke="#f39a1c" stroke-width="1.0"/>
<rect x="320.89" y="309.76" width="5" height="5" fill="none" stroke="#f39a1c" stroke-width="1.0"/>
<rect x="323.37" y="310.05" width="5" height="5" fill="none" stroke="#f39a1c" stroke-width="1.0"/>
<rect x="325.84" y="308.8" width="5" height="5" fill="none" stroke="#f39a1c" stroke-width="1.0"/>
<rect x="328.31" y="308.43" width="5" height="5" fill="none" stroke="#f39a1c" stroke-width="1.0"/>
<rect x="330.79" y="309.59" width="5" height="5" fill="none" stroke="#f39a1c" stroke-width="1.0"/>
<rect x="333.26" y="308.15" width="5" height="5" fill="none" stroke="#f39a1c" stroke-width="1.0"/>
<rect x="335.73" y="309.17" width="5" height="5" fill="none" stroke="#f39a1c" stroke-width="1.0"/>
<rect x="338.21" y="308.48" width="5" height="5" fill="none" stroke="#f39a1c" stroke-width="1.0"/>
<rect x="340.68" y="308.67" width="5" height="5" fill="none" stroke="#f39a1c" stroke-width="1.0"/>
<rect x="343.15" y="309.01" width="5" height="5" fill="none" stroke="#f39a1c" stroke-width="1.0"/>
<rect x="345.63" y="308.19" width="5" height="5" fill="none" stroke="#f39a1c" stroke-width="1.0"/>
<rect x="348.1" y="308.07" width="5" height="5" fill="none" stroke="#f39a1c" stroke-width="1.0"/>
<rect x="350.57" y="306.87" width="5" height="5" fill="none" stroke="#f39a1c" stroke-width="1.0"/>
<rect x="353.05" y="306.83" width="5" height="5" fill="none" stroke="#f39a1c" stroke-width="1.0"/>
<rect x="355.52" y="307.46" width="5" height="5" fill="none" stroke="#f39a1c" stroke-width="1.0"/>
<rect x="357.99" y="307.82" width="5" height="5" fill="none" stroke="#f39a1c" stroke-width="1.0"/>
<rect x="360.47" y="307.57" width="5" height="5" fill="none" stroke="#f39a1c" stroke-width="1.0"/>
<rect x="362.94" y="307.96" width="5" height="5" fill="none" stroke="#f39a1c" stroke-width="1.0"/>
<rect x="365.41" y="306.59" width="5" height="5" fill="none" stroke="#f39a1c" stroke-width="1.0"/>
<rect x="367.89" y="306.36" width="5" height="5" fill="none" stroke="#f39a1c" stroke-width="1.0"/>
<rect x="370.36" y="306.67" width="5" height="5" fill="none" stroke="#f39a1c" stroke-width="1.0"/>
<rect x="372.83" y="305.92" width="5" height="5" fill="none" stroke="#f39a1c" stroke-width="1.0"/>
<rect x="375.31" y="305.71" width="5" height="5" fill="none" stroke="#f39a1c" stroke-width="1.0"/>
<rect x="377.78" y="304.95" width="5" height="5" fill="none" stroke="#f39a1c" stroke-width="1.0"/>
<rect x="380.25" y="306.02" width="5" height="5" fill="none" stroke="#f39a1c" stroke-width="1.0"/>
<rect x="382.73" y="304.62" width="5" height="5" fill="none" stroke="#f39a1c" stroke-width="1.0"/>
<rect x="385.2" y="305.41" width="5" height="5" fill="none" stroke="#f39a1c" stroke-width="1.0"/>
<polyline points="270.4,316 292,314.4 371.4,305.1" fill="none" stroke="#111" stroke-width="1.5"/>
<text x="405.5" y="209.3" font-size="8" text-anchor="start" font-weight="normal" fill="#333" font-family='"Liberation Sans", sans-serif' >A<tspan dy="2" font-size="4.8">1g</tspan></text>
<text x="405.2" y="230.5" font-size="8" text-anchor="start" font-weight="normal" fill="#333" font-family='"Liberation Sans", sans-serif' >E<tspan dy="2" font-size="4.8">2g</tspan></text>
<text x="320.7" y="251" font-size="8" text-anchor="start" font-weight="normal" fill="#333" font-family='"Liberation Sans", sans-serif' >J<tspan dy="2" font-size="4.8">3</tspan></text>
<text x="404.5" y="288.5" font-size="8" text-anchor="start" font-weight="normal" fill="#333" font-family='"Liberation Sans", sans-serif' >J<tspan dy="2" font-size="4.8">2</tspan></text>
<text x="392.2" y="313" font-size="8" text-anchor="start" font-weight="normal" fill="#333" font-family='"Liberation Sans", sans-serif' >J<tspan dy="2" font-size="4.8">1</tspan></text>
<text x="345" y="256" font-size="6.6" text-anchor="start" font-weight="normal" fill="#333" font-family='"Liberation Sans", sans-serif' >Symbol - Experimental</text>
<text x="345" y="265.2" font-size="6.6" text-anchor="start" font-weight="normal" fill="#333" font-family='"Liberation Sans", sans-serif' >Line - Theoretical</text>
<rect x="48.7" y="378.8" width="160.8" height="129.9" fill="none" stroke="#262626" stroke-width="1"/>
<line x1="46.2" y1="484.3" x2="48.7" y2="484.3" stroke="#262626" stroke-width="1" />
<text x="44.5" y="487.1" font-size="8" text-anchor="end" font-weight="bold" fill="#222" font-family='"Liberation Sans", sans-serif' >0</text>
<line x1="46.2" y1="431.7" x2="48.7" y2="431.7" stroke="#262626" stroke-width="1" />
<text x="44.5" y="434.5" font-size="8" text-anchor="end" font-weight="bold" fill="#222" font-family='"Liberation Sans", sans-serif' >1</text>
<line x1="46.2" y1="379.1" x2="48.7" y2="379.1" stroke="#262626" stroke-width="1" />
<text x="44.5" y="381.9" font-size="8" text-anchor="end" font-weight="bold" fill="#222" font-family='"Liberation Sans", sans-serif' >2</text>
<line x1="47.2" y1="458" x2="48.7" y2="458" stroke="#262626" stroke-width="1" />
<line x1="47.2" y1="405.4" x2="48.7" y2="405.4" stroke="#262626" stroke-width="1" />
<line x1="48.7" y1="508.7" x2="48.7" y2="511.2" stroke="#262626" stroke-width="1" />
<text x="48.7" y="519.6" font-size="8" text-anchor="middle" font-weight="bold" fill="#222" font-family='"Liberation Sans", sans-serif' >300</text>
<line x1="102.4" y1="508.7" x2="102.4" y2="511.2" stroke="#262626" stroke-width="1" />
<text x="102.4" y="519.6" font-size="8" text-anchor="middle" font-weight="bold" fill="#222" font-family='"Liberation Sans", sans-serif' >400</text>
<line x1="156.1" y1="508.7" x2="156.1" y2="511.2" stroke="#262626" stroke-width="1" />
<text x="156.1" y="519.6" font-size="8" text-anchor="middle" font-weight="bold" fill="#222" font-family='"Liberation Sans", sans-serif' >500</text>
<line x1="209.8" y1="508.7" x2="209.8" y2="511.2" stroke="#262626" stroke-width="1" />
<text x="209.8" y="519.6" font-size="8" text-anchor="middle" font-weight="bold" fill="#222" font-family='"Liberation Sans", sans-serif' >600</text>
<line x1="75.55" y1="508.7" x2="75.55" y2="510.2" stroke="#262626" stroke-width="1" />
<line x1="129.25" y1="508.7" x2="129.25" y2="510.2" stroke="#262626" stroke-width="1" />
<line x1="182.95" y1="508.7" x2="182.95" y2="510.2" stroke="#262626" stroke-width="1" />
<text x="129.6" y="537.2" font-size="10.7" text-anchor="middle" font-weight="normal" fill="#161616" font-family='"Liberation Sans", sans-serif' >Raman Shift (cm<tspan dy="-4.5" font-size="6">-1</tspan><tspan dy="4.5">)</tspan></text>
<text x="0" y="0" font-size="11.3" text-anchor="middle" font-weight="normal" fill="#161616" font-family='"Liberation Sans", sans-serif' transform="translate(29.8,449.5) rotate(-90)">Intensity (Arb. U.)</text>
<path d="M49.2,484.19 L49.7,484.32 L50.2,484.15 L50.7,484.23 L51.2,484.12 L51.7,484.18 L52.2,484.2 L52.7,484.18 L53.2,484.04 L53.7,483.91 L54.2,483.9 L54.7,483.94 L55.2,484.03 L55.7,484.06 L56.2,484 L56.7,483.9 L57.2,483.89 L57.7,484.04 L58.2,484.02 L58.7,484.22 L59.2,484.13 L59.7,484.1 L60.2,483.81 L60.7,483.74 L61.2,483.64 L61.7,483.72 L62.2,483.91 L62.7,484.04 L63.2,483.94 L63.7,483.67 L64.2,483.51 L64.7,483.28 L65.2,483.44 L65.7,483.52 L66.2,483.64 L66.7,483.7 L67.2,483.77 L67.7,483.93 L68.2,483.82 L68.7,483.78 L69.2,483.46 L69.7,483.32 L70.2,483.15 L70.7,483.19 L71.2,483.15 L71.7,483.22 L72.2,483.14 L72.7,483.18 L73.2,483.02 L73.7,482.74 L74.2,482.39 L74.7,482.02 L75.2,481.82 L75.7,481.56 L76.2,481.38 L76.7,480.84 L77.2,480.31 L77.7,479.63 L78.2,479.05 L78.7,478.42 L79.2,478.05 L79.7,477.8 L80.2,477.85 L80.7,478.13 L81.2,478.46 L81.7,478.95 L82.2,479.37 L82.7,479.93 L83.2,480.26 L83.7,480.51 L84.2,480.58 L84.7,480.45 L85.2,480.5 L85.7,480.48 L86.2,480.77 L86.7,480.76 L87.2,480.69 L87.7,480.51 L88.2,480.36 L88.7,480.39 L89.2,480.32 L89.7,480.37 L90.2,480.18 L90.7,479.91 L91.2,479.65 L91.7,479.14 L92.2,478.63 L92.7,477.97 L93.2,477.31 L93.7,476.37 L94.2,475.25 L94.7,474.34 L95.2,473.8 L95.7,474.07 L96.2,474.81 L96.7,475.85 L97.2,476.74 L97.7,477.68 L98.2,478.55 L98.7,479.42 L99.2,479.96 L99.7,480.36 L100.2,480.5 L100.7,480.58 L101.2,480.61 L101.7,480.81 L102.2,480.9 L102.7,481.06 L103.2,481.01 L103.7,481 L104.2,480.66 L104.7,480.59 L105.2,480.51 L105.7,480.75 L106.2,480.91 L106.7,480.93 L107.2,480.54 L107.7,479.91 L108.2,479.2 L108.7,478.61 L109.2,478.07 L109.7,477.74 L110.2,477.29 L110.7,476.68 L111.2,475.58 L111.7,473.99 L112.2,471.52 L112.7,468.06 L113.2,463.14 L113.7,456.73 L114.2,449.12 L114.7,441.35 L115.2,434.77 L115.7,431.7 L116.2,433.11 L116.7,438.63 L117.2,446.27 L117.7,454.29 L118.2,461.4 L118.7,467.09 L119.2,471.42 L119.7,474.33 L120.2,476.32 L120.7,477.55 L121.2,478.42 L121.7,479.04 L122.2,479.61 L122.7,479.93 L123.2,480.16 L123.7,480.3 L124.2,480.52 L124.7,480.73 L125.2,481.12 L125.7,481.42 L126.2,481.7 L126.7,481.9 L127.2,482.22 L127.7,482.43 L128.2,482.79 L128.7,482.91 L129.2,482.96 L129.7,482.78 L130.2,482.77 L130.7,482.84 L131.2,482.9 L131.7,483.16 L132.2,483.07 L132.7,483.16 L133.2,483.02 L133.7,483.18 L134.2,483.2 L134.7,483.18 L135.2,483.17 L135.7,482.97 L136.2,483.19 L136.7,483.21 L137.2,483.5 L137.7,483.32 L138.2,483.31 L138.7,483 L139.2,483.09 L139.7,483.09 L140.2,483.33 L140.7,483.32 L141.2,483.39 L141.7,483.36 L142.2,483.35 L142.7,483.28 L143.2,483.24 L143.7,483.15 L144.2,483.14 L144.7,483.24 L145.2,483.37 L145.7,483.48 L146.2,483.48 L146.7,483.66 L147.2,483.68 L147.7,483.83 L148.2,483.76 L148.7,483.64 L149.2,483.53 L149.7,483.51 L150.2,483.54 L150.7,483.65 L151.2,483.53 L151.7,483.52 L152.2,483.24 L152.7,483.45 L153.2,483.44 L153.7,483.75 L154.2,483.73 L154.7,483.88 L155.2,483.58 L155.7,483.61 L156.2,483.63 L156.7,483.78 L157.2,483.85 L157.7,483.93 L158.2,483.87 L158.7,483.75 L159.2,483.78 L159.7,483.84 L160.2,483.9 L160.7,483.91 L161.2,483.91 L161.7,483.83 L162.2,483.95 L162.7,484.01 L163.2,484.1 L163.7,483.87 L164.2,483.79 L164.7,483.65 L165.2,483.71 L165.7,483.64 L166.2,483.6 L166.7,483.52 L167.2,483.49 L167.7,483.64 L168.2,483.72 L168.7,483.9 L169.2,483.93 L169.7,484.06 L170.2,483.99 L170.7,484.05 L171.2,484.06 L171.7,484.19 L172.2,484.09 L172.7,483.96 L173.2,483.79 L173.7,483.72 L174.2,483.87 L174.7,483.98 L175.2,484.12 L175.7,484.13 L176.2,484.21 L176.7,484.12 L177.2,484.05 L177.7,484.11 L178.2,484.05 L178.7,484.11 L179.2,484.08 L179.7,484.1 L180.2,483.98 L180.7,483.92 L181.2,483.91 L181.7,483.9 L182.2,484.14 L182.7,484.29 L183.2,484.46 L183.7,484.3 L184.2,484.24 L184.7,484.01 L185.2,484.04 L185.7,484.01 L186.2,484.22 L186.7,484.21 L187.2,484.33 L187.7,484.21 L188.2,484.17 L188.7,484.01 L189.2,483.92 L189.7,483.86 L190.2,483.88 L190.7,484.02 L191.2,484.12 L191.7,484.19 L192.2,484.21 L192.7,484.07 L193.2,484.06 L193.7,483.91 L194.2,483.96 L194.7,483.94 L195.2,484.07 L195.7,484 L196.2,483.95 L196.7,483.85 L197.2,483.88 L197.7,484.01 L198.2,484.26 L198.7,484.49 L199.2,484.59 L199.7,484.59 L200.2,484.44 L200.7,484.25 L201.2,484.05 L201.7,484.04 L202.2,484.11 L202.7,484.25 L203.2,484.32 L203.7,484.38 L204.2,484.39 L204.7,484.44 L205.2,484.46 L205.7,484.43 L206.2,484.31 L206.7,484.27 L207.2,484.27 L207.7,484.33 L208.2,484.39 L208.7,484.43" fill="none" stroke="#3a3a3a" stroke-width="1.7" stroke-linejoin="round"/>
<path d="M49.2,474.38 L49.7,474.45 L50.2,474.28 L50.7,474.17 L51.2,473.98 L51.7,474.08 L52.2,474.24 L52.7,474.38 L53.2,474.45 L53.7,474.38 L54.2,474.26 L54.7,474.12 L55.2,474.03 L55.7,473.89 L56.2,473.89 L56.7,473.86 L57.2,473.96 L57.7,473.79 L58.2,473.78 L58.7,473.74 L59.2,474 L59.7,474.04 L60.2,474.01 L60.7,473.73 L61.2,473.38 L61.7,473.34 L62.2,473.26 L62.7,473.44 L63.2,473.47 L63.7,473.44 L64.2,473.35 L64.7,473.1 L65.2,472.94 L65.7,472.71 L66.2,472.74 L66.7,472.81 L67.2,472.78 L67.7,472.96 L68.2,473.02 L68.7,473.19 L69.2,473.2 L69.7,473.17 L70.2,472.88 L70.7,472.62 L71.2,472.47 L71.7,472.5 L72.2,472.65 L72.7,472.77 L73.2,472.77 L73.7,472.64 L74.2,472.32 L74.7,471.91 L75.2,471.5 L75.7,471.24 L76.2,471.08 L76.7,471.04 L77.2,471.18 L77.7,471.17 L78.2,471.24 L78.7,470.99 L79.2,470.77 L79.7,470.42 L80.2,470.05 L80.7,469.74 L81.2,469.39 L81.7,469.03 L82.2,468.66 L82.7,468.23 L83.2,467.46 L83.7,466.41 L84.2,465.02 L84.7,463.56 L85.2,461.83 L85.7,460.39 L86.2,458.86 L86.7,457.93 L87.2,457.36 L87.7,457.49 L88.2,458.16 L88.7,459.06 L89.2,460.29 L89.7,461.24 L90.2,462.23 L90.7,462.81 L91.2,463.33 L91.7,463.72 L92.2,463.76 L92.7,463.93 L93.2,463.77 L93.7,463.93 L94.2,463.89 L94.7,464.1 L95.2,464.25 L95.7,464.24 L96.2,464.31 L96.7,464.06 L97.2,464.12 L97.7,463.91 L98.2,464.01 L98.7,463.69 L99.2,463.49 L99.7,463.08 L100.2,462.71 L100.7,462.24 L101.2,461.68 L101.7,461.38 L102.2,461.32 L102.7,461.69 L103.2,462.32 L103.7,462.82 L104.2,463.32 L104.7,463.65 L105.2,464.32 L105.7,465 L106.2,465.92 L106.7,466.76 L107.2,467.53 L107.7,468.1 L108.2,468.54 L108.7,468.82 L109.2,469.29 L109.7,469.44 L110.2,469.84 L110.7,469.98 L111.2,470.24 L111.7,470.15 L112.2,470.21 L112.7,470.11 L113.2,470.04 L113.7,469.9 L114.2,469.88 L114.7,469.62 L115.2,469.52 L115.7,469.38 L116.2,469.28 L116.7,468.91 L117.2,468.55 L117.7,468.31 L118.2,468.2 L118.7,468.16 L119.2,468.2 L119.7,467.88 L120.2,467.69 L120.7,467.22 L121.2,467.01 L121.7,466.55 L122.2,466.5 L122.7,466.13 L123.2,465.84 L123.7,465.13 L124.2,464.48 L124.7,463.29 L125.2,461.81 L125.7,459.04 L126.2,454.96 L126.7,449.07 L127.2,441.76 L127.7,433.67 L128.2,426.16 L128.7,421.2 L129.2,420.44 L129.7,424.53 L130.2,431.58 L130.7,439.88 L131.2,447.33 L131.7,453.53 L132.2,457.77 L132.7,460.92 L133.2,463.17 L133.7,465.06 L134.2,466.5 L134.7,467.57 L135.2,468.39 L135.7,468.91 L136.2,469.41 L136.7,469.71 L137.2,469.74 L137.7,469.73 L138.2,469.85 L138.7,470.03 L139.2,470.25 L139.7,470.38 L140.2,470.42 L140.7,470.46 L141.2,470.59 L141.7,470.68 L142.2,470.46 L142.7,470.37 L143.2,470.07 L143.7,470.1 L144.2,470.26 L144.7,470.64 L145.2,470.79 L145.7,471.04 L146.2,471.12 L146.7,471.17 L147.2,471.21 L147.7,471.2 L148.2,471.09 L148.7,470.84 L149.2,470.8 L149.7,470.84 L150.2,470.96 L150.7,471.09 L151.2,471.03 L151.7,471.12 L152.2,471.09 L152.7,471.36 L153.2,471.44 L153.7,471.47 L154.2,471.33 L154.7,471.31 L155.2,471.25 L155.7,471.38 L156.2,471.61 L156.7,471.73 L157.2,471.84 L157.7,471.9 L158.2,471.86 L158.7,471.74 L159.2,471.58 L159.7,471.55 L160.2,471.52 L160.7,471.68 L161.2,471.8 L161.7,471.95 L162.2,472.03 L162.7,471.99 L163.2,471.95 L163.7,471.82 L164.2,471.84 L164.7,471.83 L165.2,471.93 L165.7,471.84 L166.2,471.65 L166.7,471.58 L167.2,471.51 L167.7,471.69 L168.2,471.69 L168.7,471.83 L169.2,471.7 L169.7,471.67 L170.2,471.67 L170.7,471.75 L171.2,471.93 L171.7,471.91 L172.2,472.01 L172.7,471.77 L173.2,471.79 L173.7,471.65 L174.2,471.84 L174.7,471.91 L175.2,472.11 L175.7,472.21 L176.2,472.27 L176.7,472.33 L177.2,472.37 L177.7,472.4 L178.2,472.33 L178.7,472.28 L179.2,472.2 L179.7,472.2 L180.2,472.28 L180.7,472.44 L181.2,472.47 L181.7,472.37 L182.2,472.22 L182.7,472.07 L183.2,472.17 L183.7,472.23 L184.2,472.38 L184.7,472.37 L185.2,472.35 L185.7,472.31 L186.2,472.42 L186.7,472.61 L187.2,472.76 L187.7,472.83 L188.2,472.7 L188.7,472.53 L189.2,472.36 L189.7,472.42 L190.2,472.37 L190.7,472.43 L191.2,472.34 L191.7,472.39 L192.2,472.5 L192.7,472.65 L193.2,472.6 L193.7,472.44 L194.2,472.13 L194.7,471.96 L195.2,471.97 L195.7,472.22 L196.2,472.38 L196.7,472.53 L197.2,472.48 L197.7,472.36 L198.2,472.15 L198.7,472.06 L199.2,472.16 L199.7,472.22 L200.2,472.56 L200.7,472.7 L201.2,472.89 L201.7,472.82 L202.2,472.77 L202.7,472.64 L203.2,472.57 L203.7,472.65 L204.2,472.79 L204.7,472.93 L205.2,473.04 L205.7,473.04 L206.2,472.99 L206.7,472.91 L207.2,472.72 L207.7,472.72 L208.2,472.65 L208.7,472.74" fill="none" stroke="#f21a1a" stroke-width="1.7" stroke-linejoin="round"/>
<path d="M49.2,463.09 L49.7,462.99 L50.2,463.04 L50.7,462.87 L51.2,462.73 L51.7,462.52 L52.2,462.36 L52.7,462.35 L53.2,462.3 L53.7,462.51 L54.2,462.74 L54.7,462.98 L55.2,463.21 L55.7,463.26 L56.2,463.19 L56.7,463.12 L57.2,462.95 L57.7,462.86 L58.2,462.83 L58.7,462.92 L59.2,462.99 L59.7,463.06 L60.2,463.11 L60.7,462.91 L61.2,462.79 L61.7,462.53 L62.2,462.49 L62.7,462.34 L63.2,462.59 L63.7,462.65 L64.2,462.78 L64.7,462.71 L65.2,462.55 L65.7,462.43 L66.2,462.38 L66.7,462.53 L67.2,462.43 L67.7,462.41 L68.2,462.3 L68.7,462.35 L69.2,462.51 L69.7,462.57 L70.2,462.61 L70.7,462.38 L71.2,462.4 L71.7,462.3 L72.2,462.48 L72.7,462.42 L73.2,462.46 L73.7,462.26 L74.2,462.09 L74.7,461.96 L75.2,461.98 L75.7,461.95 L76.2,461.91 L76.7,461.88 L77.2,461.97 L77.7,462.16 L78.2,462.45 L78.7,462.34 L79.2,462.2 L79.7,461.92 L80.2,461.92 L80.7,461.94 L81.2,462.04 L81.7,462.13 L82.2,462.17 L82.7,462.22 L83.2,462.06 L83.7,462.05 L84.2,461.79 L84.7,461.87 L85.2,461.9 L85.7,461.94 L86.2,461.78 L86.7,461.57 L87.2,461.47 L87.7,461.29 L88.2,461.5 L88.7,461.51 L89.2,461.55 L89.7,461.27 L90.2,460.76 L90.7,460.09 L91.2,459.55 L91.7,458.9 L92.2,458.3 L92.7,457.65 L93.2,457.16 L93.7,456.61 L94.2,456.62 L94.7,456.63 L95.2,456.85 L95.7,456.97 L96.2,457.15 L96.7,457.06 L97.2,457.12 L97.7,457.37 L98.2,457.61 L98.7,457.92 L99.2,457.83 L99.7,457.72 L100.2,457.31 L100.7,457.35 L101.2,457.28 L101.7,457.5 L102.2,457.48 L102.7,457.53 L103.2,457.34 L103.7,457.34 L104.2,457.2 L104.7,457.21 L105.2,457.14 L105.7,457.2 L106.2,457.24 L106.7,457.45 L107.2,457.65 L107.7,457.75 L108.2,457.77 L108.7,457.79 L109.2,457.58 L109.7,457.58 L110.2,457.36 L110.7,457.34 L111.2,457.22 L111.7,457.31 L112.2,457.41 L112.7,457.6 L113.2,457.59 L113.7,457.57 L114.2,457.56 L114.7,457.72 L115.2,457.94 L115.7,458.12 L116.2,458 L116.7,457.63 L117.2,457.48 L117.7,457.48 L118.2,457.57 L118.7,457.69 L119.2,457.69 L119.7,457.51 L120.2,457.42 L120.7,457.5 L121.2,457.82 L121.7,458.01 L122.2,458.35 L122.7,458.24 L123.2,458.11 L123.7,457.65 L124.2,457.64 L124.7,457.46 L125.2,457.88 L125.7,458.04 L126.2,458.38 L126.7,458.09 L127.2,458.14 L127.7,457.86 L128.2,457.99 L128.7,457.74 L129.2,457.86 L129.7,457.73 L130.2,457.87 L130.7,457.82 L131.2,457.72 L131.7,457.47 L132.2,457.13 L132.7,456.97 L133.2,456.52 L133.7,456.07 L134.2,455.41 L134.7,454.7 L135.2,454.03 L135.7,453.61 L136.2,453.4 L136.7,453.11 L137.2,452.74 L137.7,451.67 L138.2,450 L138.7,447.32 L139.2,443.5 L139.7,437.83 L140.2,430.84 L140.7,422.91 L141.2,415.52 L141.7,410.77 L142.2,410.2 L142.7,414.2 L143.2,421.23 L143.7,429.49 L144.2,437.28 L144.7,443.58 L145.2,448.21 L145.7,451.18 L146.2,453.21 L146.7,454.43 L147.2,455.1 L147.7,455.54 L148.2,455.8 L148.7,456.19 L149.2,456.52 L149.7,457.05 L150.2,457.2 L150.7,457.5 L151.2,457.39 L151.7,457.44 L152.2,457.24 L152.7,457.44 L153.2,457.63 L153.7,457.92 L154.2,458.26 L154.7,458.34 L155.2,458.52 L155.7,458.48 L156.2,458.52 L156.7,458.54 L157.2,458.68 L157.7,458.86 L158.2,459.07 L158.7,459.22 L159.2,459.35 L159.7,459.2 L160.2,459.08 L160.7,458.82 L161.2,458.77 L161.7,458.83 L162.2,459.06 L162.7,459.08 L163.2,459.1 L163.7,458.84 L164.2,459.02 L164.7,459.02 L165.2,459.39 L165.7,459.36 L166.2,459.55 L166.7,459.46 L167.2,459.67 L167.7,459.56 L168.2,459.73 L168.7,459.65 L169.2,459.93 L169.7,460.07 L170.2,460.26 L170.7,460.21 L171.2,460.17 L171.7,460.18 L172.2,460.16 L172.7,460.2 L173.2,460.15 L173.7,460.17 L174.2,460.24 L174.7,460.37 L175.2,460.57 L175.7,460.5 L176.2,460.49 L176.7,460.4 L177.2,460.45 L177.7,460.34 L178.2,460.45 L178.7,460.47 L179.2,460.45 L179.7,460.54 L180.2,460.5 L180.7,460.38 L181.2,460.25 L181.7,460.29 L182.2,460.25 L182.7,460.31 L183.2,460.33 L183.7,460.39 L184.2,460.45 L184.7,460.69 L185.2,460.74 L185.7,460.77 L186.2,460.59 L186.7,460.5 L187.2,460.59 L187.7,460.85 L188.2,461.07 L188.7,461.23 L189.2,461.09 L189.7,461.1 L190.2,460.96 L190.7,461.17 L191.2,461.15 L191.7,461.29 L192.2,461.26 L192.7,461.17 L193.2,461.11 L193.7,461.11 L194.2,461.54 L194.7,461.79 L195.2,462.08 L195.7,461.83 L196.2,461.69 L196.7,461.21 L197.2,461.18 L197.7,461.09 L198.2,461.13 L198.7,461.26 L199.2,461.48 L199.7,461.68 L200.2,461.63 L200.7,461.51 L201.2,461.24 L201.7,461.15 L202.2,461.29 L202.7,461.53 L203.2,461.74 L203.7,461.81 L204.2,461.8 L204.7,461.62 L205.2,461.62 L205.7,461.66 L206.2,461.94 L206.7,462.05 L207.2,462.15 L207.7,462.14 L208.2,462.07 L208.7,462.1" fill="none" stroke="#1c1cf0" stroke-width="1.7" stroke-linejoin="round"/>
<path d="M49.2,451.58 L49.7,451.33 L50.2,451.38 L50.7,451.2 L51.2,451.37 L51.7,451.2 L52.2,451.36 L52.7,451.25 L53.2,451.39 L53.7,451.12 L54.2,451.05 L54.7,450.82 L55.2,450.72 L55.7,450.62 L56.2,450.33 L56.7,450.1 L57.2,449.77 L57.7,449.66 L58.2,449.47 L58.7,449.42 L59.2,449.5 L59.7,449.65 L60.2,449.8 L60.7,449.73 L61.2,449.71 L61.7,449.36 L62.2,449.12 L62.7,448.95 L63.2,449.05 L63.7,449.24 L64.2,449.43 L64.7,449.43 L65.2,449.14 L65.7,448.99 L66.2,448.86 L66.7,448.86 L67.2,448.73 L67.7,448.59 L68.2,448.54 L68.7,448.69 L69.2,448.81 L69.7,448.81 L70.2,448.71 L70.7,448.67 L71.2,448.62 L71.7,448.8 L72.2,448.65 L72.7,448.61 L73.2,448.52 L73.7,448.83 L74.2,448.99 L74.7,449.2 L75.2,449.29 L75.7,449.3 L76.2,449.36 L76.7,449.51 L77.2,449.65 L77.7,449.82 L78.2,450.03 L78.7,450.15 L79.2,450.12 L79.7,450.04 L80.2,449.88 L80.7,449.76 L81.2,449.84 L81.7,449.81 L82.2,450.04 L82.7,450.12 L83.2,450.34 L83.7,450.32 L84.2,450.46 L84.7,450.52 L85.2,450.48 L85.7,450.47 L86.2,450.27 L86.7,450.33 L87.2,450.34 L87.7,450.41 L88.2,450.28 L88.7,450.01 L89.2,449.78 L89.7,449.66 L90.2,449.94 L90.7,449.84 L91.2,449.99 L91.7,449.73 L92.2,449.68 L92.7,449.38 L93.2,449.31 L93.7,449.14 L94.2,449.1 L94.7,449 L95.2,449.05 L95.7,448.85 L96.2,449 L96.7,448.83 L97.2,449.05 L97.7,448.86 L98.2,448.9 L98.7,448.64 L99.2,448.41 L99.7,448.14 L100.2,447.97 L100.7,448.05 L101.2,447.84 L101.7,447.78 L102.2,447.43 L102.7,447.21 L103.2,446.99 L103.7,447.09 L104.2,447.21 L104.7,447.14 L105.2,447.19 L105.7,447.05 L106.2,446.94 L106.7,446.77 L107.2,446.7 L107.7,446.34 L108.2,446.02 L108.7,445.82 L109.2,445.73 L109.7,445.87 L110.2,445.85 L110.7,445.66 L111.2,445.26 L111.7,444.98 L112.2,444.86 L112.7,444.88 L113.2,444.91 L113.7,444.89 L114.2,444.67 L114.7,444.72 L115.2,444.53 L115.7,444.48 L116.2,444.39 L116.7,444.22 L117.2,444.21 L117.7,444.11 L118.2,444.33 L118.7,444.5 L119.2,444.82 L119.7,445.02 L120.2,445.25 L120.7,445.42 L121.2,445.63 L121.7,445.57 L122.2,445.6 L122.7,445.56 L123.2,445.83 L123.7,446.13 L124.2,446.34 L124.7,446.54 L125.2,446.44 L125.7,446.53 L126.2,446.51 L126.7,446.67 L127.2,446.75 L127.7,446.92 L128.2,447 L128.7,447.19 L129.2,447.41 L129.7,447.72 L130.2,447.77 L130.7,447.88 L131.2,447.7 L131.7,447.73 L132.2,447.79 L132.7,447.75 L133.2,447.64 L133.7,447.28 L134.2,446.71 L134.7,446.14 L135.2,445.78 L135.7,445.8 L136.2,445.81 L136.7,446.12 L137.2,446.15 L137.7,446.06 L138.2,445.97 L138.7,445.9 L139.2,445.78 L139.7,445.44 L140.2,445.27 L140.7,444.84 L141.2,444.58 L141.7,444.27 L142.2,444.05 L142.7,443.82 L143.2,443.69 L143.7,443.71 L144.2,443.54 L144.7,443.26 L145.2,442.74 L145.7,442.2 L146.2,441.47 L146.7,440.79 L147.2,439.35 L147.7,437.17 L148.2,433.62 L148.7,429 L149.2,422.96 L149.7,416.15 L150.2,409.21 L150.7,403.3 L151.2,400.04 L151.7,400.34 L152.2,404.11 L152.7,410.06 L153.2,416.9 L153.7,423.1 L154.2,428.42 L154.7,432.26 L155.2,435.23 L155.7,437.24 L156.2,438.89 L156.7,439.84 L157.2,440.42 L157.7,440.69 L158.2,440.93 L158.7,440.94 L159.2,441.05 L159.7,441.06 L160.2,441.06 L160.7,440.65 L161.2,440.31 L161.7,439.65 L162.2,439.09 L162.7,438.55 L163.2,438.22 L163.7,437.88 L164.2,437.95 L164.7,438.4 L165.2,439.17 L165.7,440.05 L166.2,441 L166.7,441.78 L167.2,442.49 L167.7,443.16 L168.2,443.72 L168.7,444.24 L169.2,444.92 L169.7,445.56 L170.2,446.31 L170.7,446.89 L171.2,447.5 L171.7,447.89 L172.2,448.39 L172.7,448.74 L173.2,449.16 L173.7,449.37 L174.2,449.75 L174.7,449.67 L175.2,449.71 L175.7,449.57 L176.2,449.69 L176.7,449.74 L177.2,449.92 L177.7,449.89 L178.2,449.87 L178.7,449.66 L179.2,449.69 L179.7,449.5 L180.2,449.75 L180.7,449.91 L181.2,450.15 L181.7,450.37 L182.2,450.32 L182.7,450.21 L183.2,449.78 L183.7,449.8 L184.2,449.71 L184.7,450.01 L185.2,450.1 L185.7,450.13 L186.2,450.09 L186.7,450.14 L187.2,450.53 L187.7,450.59 L188.2,450.56 L188.7,450.34 L189.2,450.18 L189.7,450.19 L190.2,450.35 L190.7,450.57 L191.2,450.72 L191.7,450.69 L192.2,450.7 L192.7,450.53 L193.2,450.45 L193.7,450.52 L194.2,450.61 L194.7,450.81 L195.2,450.83 L195.7,450.87 L196.2,450.77 L196.7,450.76 L197.2,450.7 L197.7,450.76 L198.2,450.59 L198.7,450.63 L199.2,450.52 L199.7,450.53 L200.2,450.47 L200.7,450.43 L201.2,450.49 L201.7,450.44 L202.2,450.62 L202.7,450.74 L203.2,450.92 L203.7,450.82 L204.2,450.78 L204.7,450.69 L205.2,450.66 L205.7,450.83 L206.2,450.99 L206.7,451.09 L207.2,450.98 L207.7,450.92 L208.2,450.76 L208.7,450.69" fill="none" stroke="#f020f0" stroke-width="1.7" stroke-linejoin="round"/>
<path d="M49.2,441 L49.7,441.02 L50.2,441 L50.7,440.96 L51.2,440.89 L51.7,440.67 L52.2,440.5 L52.7,440.27 L53.2,440.21 L53.7,440.14 L54.2,440.27 L54.7,440.22 L55.2,440.29 L55.7,440.27 L56.2,440.21 L56.7,440.14 L57.2,439.94 L57.7,440.04 L58.2,439.96 L58.7,440.17 L59.2,440.03 L59.7,440.02 L60.2,439.85 L60.7,439.97 L61.2,440.03 L61.7,440.15 L62.2,440.17 L62.7,440.06 L63.2,440 L63.7,439.9 L64.2,440 L64.7,439.77 L65.2,439.82 L65.7,439.55 L66.2,439.48 L66.7,439.52 L67.2,439.58 L67.7,439.6 L68.2,439.44 L68.7,439.4 L69.2,439.28 L69.7,439.3 L70.2,439.39 L70.7,439.41 L71.2,439.2 L71.7,438.94 L72.2,438.52 L72.7,438.3 L73.2,438.2 L73.7,438.34 L74.2,438.23 L74.7,437.96 L75.2,437.56 L75.7,437.03 L76.2,436.54 L76.7,436.02 L77.2,435.36 L77.7,434.94 L78.2,434.82 L78.7,435.22 L79.2,435.52 L79.7,435.99 L80.2,436.12 L80.7,436.39 L81.2,436.6 L81.7,436.89 L82.2,437.18 L82.7,437.41 L83.2,437.44 L83.7,437.28 L84.2,437.19 L84.7,436.96 L85.2,437.06 L85.7,437.14 L86.2,437.18 L86.7,436.95 L87.2,436.75 L87.7,436.46 L88.2,436.18 L88.7,436.05 L89.2,436.06 L89.7,436.03 L90.2,436.12 L90.7,436.03 L91.2,435.85 L91.7,435.81 L92.2,435.58 L92.7,435.59 L93.2,435.42 L93.7,435.43 L94.2,435.4 L94.7,435.58 L95.2,435.65 L95.7,435.62 L96.2,435.46 L96.7,435.4 L97.2,435.21 L97.7,435.35 L98.2,435.43 L98.7,435.56 L99.2,435.68 L99.7,435.67 L100.2,435.54 L100.7,435.33 L101.2,435.16 L101.7,434.97 L102.2,435.02 L102.7,435.03 L103.2,435.17 L103.7,435.02 L104.2,435.09 L104.7,434.92 L105.2,434.94 L105.7,434.94 L106.2,434.8 L106.7,434.86 L107.2,434.66 L107.7,434.67 L108.2,434.44 L108.7,434.42 L109.2,434.44 L109.7,434.55 L110.2,434.85 L110.7,434.81 L111.2,435.11 L111.7,435.13 L112.2,435.59 L112.7,435.47 L113.2,435.61 L113.7,435.17 L114.2,435.2 L114.7,435.05 L115.2,435.1 L115.7,434.94 L116.2,434.75 L116.7,434.55 L117.2,434.44 L117.7,434.49 L118.2,434.53 L118.7,434.64 L119.2,434.83 L119.7,434.92 L120.2,435 L120.7,435.01 L121.2,435.02 L121.7,434.99 L122.2,435.17 L122.7,435.3 L123.2,435.49 L123.7,435.55 L124.2,435.75 L124.7,435.83 L125.2,435.89 L125.7,435.81 L126.2,435.75 L126.7,435.52 L127.2,435.47 L127.7,435.42 L128.2,435.41 L128.7,435.28 L129.2,435.16 L129.7,435.06 L130.2,434.81 L130.7,435.09 L131.2,435.27 L131.7,435.83 L132.2,435.96 L132.7,436.15 L133.2,435.99 L133.7,435.99 L134.2,436 L134.7,435.87 L135.2,435.75 L135.7,435.44 L136.2,435.23 L136.7,434.92 L137.2,434.87 L137.7,434.84 L138.2,434.8 L138.7,434.95 L139.2,434.92 L139.7,434.88 L140.2,434.58 L140.7,434.33 L141.2,434.01 L141.7,433.71 L142.2,433.5 L142.7,433.24 L143.2,432.79 L143.7,432.53 L144.2,432.34 L144.7,432.39 L145.2,432.34 L145.7,432.29 L146.2,432.08 L146.7,431.7 L147.2,431.29 L147.7,430.8 L148.2,430.32 L148.7,430.03 L149.2,429.85 L149.7,429.69 L150.2,429.27 L150.7,428.65 L151.2,427.93 L151.7,427.43 L152.2,427.02 L152.7,426.62 L153.2,425.89 L153.7,425.09 L154.2,423.99 L154.7,422.78 L155.2,421.06 L155.7,418.85 L156.2,415.57 L156.7,411.5 L157.2,406.27 L157.7,400.43 L158.2,394.48 L158.7,389.6 L159.2,386.86 L159.7,387.06 L160.2,389.97 L160.7,394.63 L161.2,399.85 L161.7,404.99 L162.2,409.28 L162.7,412.47 L163.2,414.9 L163.7,416.34 L164.2,417.77 L164.7,418.57 L165.2,419.67 L165.7,420.48 L166.2,421.24 L166.7,421.76 L167.2,421.79 L167.7,421.56 L168.2,421.19 L168.7,420.9 L169.2,420.65 L169.7,420.37 L170.2,420.71 L170.7,420.93 L171.2,421.5 L171.7,421.93 L172.2,422.64 L172.7,423.38 L173.2,424.58 L173.7,425.81 L174.2,427.09 L174.7,428.15 L175.2,429.17 L175.7,429.94 L176.2,430.63 L176.7,431.26 L177.2,431.97 L177.7,432.69 L178.2,433.24 L178.7,433.71 L179.2,434.28 L179.7,434.7 L180.2,435.25 L180.7,435.53 L181.2,435.78 L181.7,435.91 L182.2,436.12 L182.7,436.28 L183.2,436.45 L183.7,436.75 L184.2,437.07 L184.7,437.26 L185.2,437.44 L185.7,437.63 L186.2,437.63 L186.7,437.77 L187.2,437.78 L187.7,437.92 L188.2,437.95 L188.7,438.14 L189.2,438.29 L189.7,438.41 L190.2,438.52 L190.7,438.59 L191.2,438.55 L191.7,438.52 L192.2,438.47 L192.7,438.44 L193.2,438.56 L193.7,438.76 L194.2,439.18 L194.7,439.52 L195.2,439.62 L195.7,439.66 L196.2,439.39 L196.7,439.39 L197.2,439.41 L197.7,439.52 L198.2,439.62 L198.7,439.63 L199.2,439.75 L199.7,439.57 L200.2,439.69 L200.7,439.59 L201.2,439.79 L201.7,439.97 L202.2,440.09 L202.7,440.05 L203.2,439.92 L203.7,439.79 L204.2,439.66 L204.7,439.77 L205.2,439.87 L205.7,439.91 L206.2,439.99 L206.7,440.09 L207.2,440.12 L207.7,440.19 L208.2,440.28 L208.7,440.39" fill="none" stroke="#1a8a1a" stroke-width="1.7" stroke-linejoin="round"/>
<text x="208" y="439.1" font-size="5.7" text-anchor="end" font-weight="bold" fill="#1a8a1a" font-family='"Liberation Sans", sans-serif' >40.3 GPa</text>
<text x="208" y="448.3" font-size="5.7" text-anchor="end" font-weight="bold" fill="#f020f0" font-family='"Liberation Sans", sans-serif' >30.1 GPa</text>
<text x="208" y="459.6" font-size="5.7" text-anchor="end" font-weight="bold" fill="#1c1cf0" font-family='"Liberation Sans", sans-serif' >20.7 GPa</text>
<text x="208" y="470.8" font-size="5.7" text-anchor="end" font-weight="bold" fill="#f21a1a" font-family='"Liberation Sans", sans-serif' >10.6 GPa</text>
<text x="208" y="482" font-size="5.7" text-anchor="end" font-weight="bold" fill="#222" font-family='"Liberation Sans", sans-serif' >2.3 GPa</text>
<text x="76" y="433" font-size="6" text-anchor="start" font-weight="bold" fill="#222" font-family='"Liberation Sans", sans-serif' >A†</text>
<line x1="79.6" y1="496.6" x2="79.6" y2="484" stroke="#111" stroke-width="1"/>
<path d="M79.6,482 l-1.8,3.5 l3.6,0 z" fill="#111"/>
<line x1="86.5" y1="494.4" x2="86.5" y2="485.2" stroke="#111" stroke-width="1"/>
<path d="M86.5,483.2 l-1.8,3.5 l3.6,0 z" fill="#111"/>
<line x1="94.4" y1="503.5" x2="94.4" y2="482.8" stroke="#111" stroke-width="1"/>
<path d="M94.4,480.8 l-1.8,3.5 l3.6,0 z" fill="#111"/>
<line x1="108.8" y1="489.8" x2="108.8" y2="486" stroke="#111" stroke-width="1"/>
<path d="M108.8,484 l-1.8,3.5 l3.6,0 z" fill="#111"/>
<text x="50" y="501.5" font-size="5" text-anchor="start" font-weight="bold" fill="#222" font-family='"Liberation Sans", sans-serif'  textLength="29.6" lengthAdjust="spacingAndGlyphs">E<tspan dy="1" font-size="3.5">1g</tspan><tspan dy="-1">(WS</tspan><tspan dy="1" font-size="3.5">2</tspan><tspan dy="-1">-like)</tspan></text>
<text x="94" y="504.5" font-size="5" text-anchor="start" font-weight="bold" fill="#222" font-family='"Liberation Sans", sans-serif'  textLength="30.3" lengthAdjust="spacingAndGlyphs">E<tspan dy="1" font-size="3.5">2g</tspan><tspan dy="-1">(MoS</tspan><tspan dy="1" font-size="3.5">2</tspan><tspan dy="-1">-like)</tspan></text>
<text x="107.8" y="494" font-size="5" text-anchor="start" font-weight="bold" fill="#222" font-family='"Liberation Sans", sans-serif'  textLength="29.5" lengthAdjust="spacingAndGlyphs">A<tspan dy="1" font-size="3.5">1g</tspan><tspan dy="-1">(MoS</tspan><tspan dy="1" font-size="3.5">2</tspan><tspan dy="-1">-like)</tspan></text>
<text x="0" y="0" font-size="5" text-anchor="middle" font-weight="bold" fill="#222" font-family='"Liberation Sans", sans-serif' transform="translate(88.2,500.1) rotate(-90)">DALA</text>
<text x="162.6" y="394.3" font-size="5" text-anchor="start" font-weight="bold" fill="#222" font-family='"Liberation Sans", sans-serif' >A<tspan dy="1" font-size="3.5">1g</tspan><tspan dy="-1">(WS</tspan><tspan dy="1" font-size="3.5">2</tspan><tspan dy="-1">-like)</tspan></text>
<text x="179" y="416" font-size="5.5" text-anchor="start" font-weight="bold" fill="#222" font-family='"Liberation Sans", sans-serif' >A*</text>
<line x1="173" y1="420" x2="178.8" y2="416.4" stroke="#111" stroke-width="1.1"/><path d="M171.3,421.6 L174.6,417.6 L176.4,420.8 Z" fill="#111"/>
<rect x="255.3" y="379.3" width="165.6" height="135.1" fill="none" stroke="#262626" stroke-width="1"/>
<line x1="252.8" y1="468.8" x2="255.3" y2="468.8" stroke="#262626" stroke-width="1" />
<text x="250.5" y="471.5" font-size="7.5" text-anchor="end" font-weight="normal" fill="#333" font-family='"Liberation Sans", sans-serif' >400</text>
<line x1="252.8" y1="408.8" x2="255.3" y2="408.8" stroke="#262626" stroke-width="1" />
<text x="250.5" y="411.5" font-size="7.5" text-anchor="end" font-weight="normal" fill="#333" font-family='"Liberation Sans", sans-serif' >500</text>
<line x1="253.8" y1="498.8" x2="255.3" y2="498.8" stroke="#262626" stroke-width="1" />
<line x1="253.8" y1="438.8" x2="255.3" y2="438.8" stroke="#262626" stroke-width="1" />
<line x1="255.8" y1="514.4" x2="255.8" y2="516.9" stroke="#262626" stroke-width="1" />
<text x="255.8" y="524.6" font-size="8" text-anchor="middle" font-weight="normal" fill="#333" font-family='"Liberation Sans", sans-serif' >0</text>
<line x1="315.8" y1="514.4" x2="315.8" y2="516.9" stroke="#262626" stroke-width="1" />
<text x="315.8" y="524.6" font-size="8" text-anchor="middle" font-weight="normal" fill="#333" font-family='"Liberation Sans", sans-serif' >20</text>
<line x1="375.8" y1="514.4" x2="375.8" y2="516.9" stroke="#262626" stroke-width="1" />
<text x="375.8" y="524.6" font-size="8" text-anchor="middle" font-weight="normal" fill="#333" font-family='"Liberation Sans", sans-serif' >40</text>
<line x1="285.8" y1="514.4" x2="285.8" y2="515.9" stroke="#262626" stroke-width="1" />
<line x1="345.8" y1="514.4" x2="345.8" y2="515.9" stroke="#262626" stroke-width="1" />
<line x1="405.8" y1="514.4" x2="405.8" y2="515.9" stroke="#262626" stroke-width="1" />
<text x="338.7" y="537.6" font-size="10.9" text-anchor="middle" font-weight="normal" fill="#161616" font-family='"Liberation Sans", sans-serif' >Pressure (GPa)</text>
<g transform="translate(230.4,454.5) rotate(-90)"><text x="0" y="0" font-size="10.8" text-anchor="middle" fill="#161616" font-family='"Liberation Sans", sans-serif'>Raman Shift (cm<tspan dy="-4" font-size="7">-1</tspan><tspan dy="4">)</tspan></text></g>
<path d="M285.6,426.16 L289.8,426.16 L287.7,422.59Z" fill="#1c1cf0" stroke="#1c1cf0" stroke-width="0.5"/>
<path d="M289.2,423.66 L293.4,423.66 L291.3,420.09Z" fill="#1c1cf0" stroke="#1c1cf0" stroke-width="0.5"/>
<path d="M292.8,419.82 L297,419.82 L294.9,416.25Z" fill="#1c1cf0" stroke="#1c1cf0" stroke-width="0.5"/>
<path d="M296.4,417.58 L300.6,417.58 L298.5,414.01Z" fill="#1c1cf0" stroke="#1c1cf0" stroke-width="0.5"/>
<path d="M300,416.41 L304.2,416.41 L302.1,412.84Z" fill="#1c1cf0" stroke="#1c1cf0" stroke-width="0.5"/>
<path d="M303.6,413.82 L307.8,413.82 L305.7,410.25Z" fill="#1c1cf0" stroke="#1c1cf0" stroke-width="0.5"/>
<path d="M307.2,412.63 L311.4,412.63 L309.3,409.06Z" fill="#1c1cf0" stroke="#1c1cf0" stroke-width="0.5"/>
<path d="M310.8,411.2 L315,411.2 L312.9,407.63Z" fill="#1c1cf0" stroke="#1c1cf0" stroke-width="0.5"/>
<path d="M314.4,410.37 L318.6,410.37 L316.5,406.8Z" fill="#1c1cf0" stroke="#1c1cf0" stroke-width="0.5"/>
<path d="M318,407.56 L322.2,407.56 L320.1,403.99Z" fill="#1c1cf0" stroke="#1c1cf0" stroke-width="0.5"/>
<path d="M321.6,406.84 L325.8,406.84 L323.7,403.27Z" fill="#1c1cf0" stroke="#1c1cf0" stroke-width="0.5"/>
<path d="M325.2,406.45 L329.4,406.45 L327.3,402.88Z" fill="#1c1cf0" stroke="#1c1cf0" stroke-width="0.5"/>
<path d="M328.8,406.7 L333,406.7 L330.9,403.13Z" fill="#1c1cf0" stroke="#1c1cf0" stroke-width="0.5"/>
<path d="M332.4,404.97 L336.6,404.97 L334.5,401.4Z" fill="#1c1cf0" stroke="#1c1cf0" stroke-width="0.5"/>
<path d="M336,402.95 L340.2,402.95 L338.1,399.38Z" fill="#1c1cf0" stroke="#1c1cf0" stroke-width="0.5"/>
<path d="M339.6,402.82 L343.8,402.82 L341.7,399.25Z" fill="#1c1cf0" stroke="#1c1cf0" stroke-width="0.5"/>
<path d="M343.2,401.59 L347.4,401.59 L345.3,398.02Z" fill="#1c1cf0" stroke="#1c1cf0" stroke-width="0.5"/>
<path d="M346.8,399.76 L351,399.76 L348.9,396.19Z" fill="#1c1cf0" stroke="#1c1cf0" stroke-width="0.5"/>
<path d="M350.4,398.53 L354.6,398.53 L352.5,394.96Z" fill="#1c1cf0" stroke="#1c1cf0" stroke-width="0.5"/>
<path d="M354,397.74 L358.2,397.74 L356.1,394.17Z" fill="#1c1cf0" stroke="#1c1cf0" stroke-width="0.5"/>
<path d="M357.6,397.18 L361.8,397.18 L359.7,393.61Z" fill="#1c1cf0" stroke="#1c1cf0" stroke-width="0.5"/>
<path d="M361.2,396.1 L365.4,396.1 L363.3,392.53Z" fill="#1c1cf0" stroke="#1c1cf0" stroke-width="0.5"/>
<path d="M364.8,395.8 L369,395.8 L366.9,392.23Z" fill="#1c1cf0" stroke="#1c1cf0" stroke-width="0.5"/>
<path d="M368.4,395.13 L372.6,395.13 L370.5,391.56Z" fill="#1c1cf0" stroke="#1c1cf0" stroke-width="0.5"/>
<path d="M372,394.58 L376.2,394.58 L374.1,391.01Z" fill="#1c1cf0" stroke="#1c1cf0" stroke-width="0.5"/>
<path d="M375.6,393.94 L379.8,393.94 L377.7,390.37Z" fill="#1c1cf0" stroke="#1c1cf0" stroke-width="0.5"/>
<path d="M278.2,428.64 L284.6,428.64 L281.4,423.2Z" fill="none" stroke="#1c1cf0" stroke-width="1.0"/>
<rect x="260.95" y="451.75" width="3.3" height="3.3" fill="#111" stroke="#111" stroke-width="0.5"/>
<rect x="266.75" y="448.05" width="3.3" height="3.3" fill="#111" stroke="#111" stroke-width="0.5"/>
<rect x="272.85" y="444.55" width="3.3" height="3.3" fill="#111" stroke="#111" stroke-width="0.5"/>
<rect x="278.35" y="441.45" width="3.3" height="3.3" fill="#111" stroke="#111" stroke-width="0.5"/>
<rect x="281.75" y="439.39" width="3.3" height="3.3" fill="#111" stroke="#111" stroke-width="0.5"/>
<rect x="285.15" y="437.58" width="3.3" height="3.3" fill="#111" stroke="#111" stroke-width="0.5"/>
<rect x="288.55" y="436.21" width="3.3" height="3.3" fill="#111" stroke="#111" stroke-width="0.5"/>
<rect x="291.95" y="434.2" width="3.3" height="3.3" fill="#111" stroke="#111" stroke-width="0.5"/>
<rect x="295.35" y="432.52" width="3.3" height="3.3" fill="#111" stroke="#111" stroke-width="0.5"/>
<rect x="298.75" y="429.74" width="3.3" height="3.3" fill="#111" stroke="#111" stroke-width="0.5"/>
<rect x="302.15" y="429.05" width="3.3" height="3.3" fill="#111" stroke="#111" stroke-width="0.5"/>
<rect x="305.55" y="427.05" width="3.3" height="3.3" fill="#111" stroke="#111" stroke-width="0.5"/>
<rect x="308.95" y="425.42" width="3.3" height="3.3" fill="#111" stroke="#111" stroke-width="0.5"/>
<rect x="312.35" y="423.86" width="3.3" height="3.3" fill="#111" stroke="#111" stroke-width="0.5"/>
<rect x="315.75" y="423.14" width="3.3" height="3.3" fill="#111" stroke="#111" stroke-width="0.5"/>
<rect x="319.15" y="421.48" width="3.3" height="3.3" fill="#111" stroke="#111" stroke-width="0.5"/>
<rect x="322.55" y="419.74" width="3.3" height="3.3" fill="#111" stroke="#111" stroke-width="0.5"/>
<rect x="325.95" y="418.45" width="3.3" height="3.3" fill="#111" stroke="#111" stroke-width="0.5"/>
<rect x="329.35" y="417.79" width="3.3" height="3.3" fill="#111" stroke="#111" stroke-width="0.5"/>
<rect x="332.75" y="416.48" width="3.3" height="3.3" fill="#111" stroke="#111" stroke-width="0.5"/>
<rect x="336.15" y="416.2" width="3.3" height="3.3" fill="#111" stroke="#111" stroke-width="0.5"/>
<rect x="339.55" y="413.83" width="3.3" height="3.3" fill="#111" stroke="#111" stroke-width="0.5"/>
<rect x="342.95" y="412.5" width="3.3" height="3.3" fill="#111" stroke="#111" stroke-width="0.5"/>
<rect x="346.35" y="411.92" width="3.3" height="3.3" fill="#111" stroke="#111" stroke-width="0.5"/>
<rect x="349.75" y="410.82" width="3.3" height="3.3" fill="#111" stroke="#111" stroke-width="0.5"/>
<rect x="353.15" y="409.67" width="3.3" height="3.3" fill="#111" stroke="#111" stroke-width="0.5"/>
<rect x="356.55" y="408.71" width="3.3" height="3.3" fill="#111" stroke="#111" stroke-width="0.5"/>
<rect x="359.95" y="408.23" width="3.3" height="3.3" fill="#111" stroke="#111" stroke-width="0.5"/>
<rect x="363.35" y="406.37" width="3.3" height="3.3" fill="#111" stroke="#111" stroke-width="0.5"/>
<rect x="366.75" y="405.39" width="3.3" height="3.3" fill="#111" stroke="#111" stroke-width="0.5"/>
<rect x="370.15" y="404.01" width="3.3" height="3.3" fill="#111" stroke="#111" stroke-width="0.5"/>
<rect x="373.55" y="403.92" width="3.3" height="3.3" fill="#111" stroke="#111" stroke-width="0.5"/>
<rect x="376.95" y="403.27" width="3.3" height="3.3" fill="#111" stroke="#111" stroke-width="0.5"/>
<circle cx="262.6" cy="456" r="1.9" fill="#f21a1a" stroke="#f21a1a" stroke-width="0.5"/>
<circle cx="268.4" cy="457.7" r="1.9" fill="#f21a1a" stroke="#f21a1a" stroke-width="0.5"/>
<circle cx="274.5" cy="454.3" r="1.9" fill="#f21a1a" stroke="#f21a1a" stroke-width="0.5"/>
<circle cx="282" cy="449.1" r="1.9" fill="#f21a1a" stroke="#f21a1a" stroke-width="0.5"/>
<circle cx="288" cy="446.27" r="1.9" fill="#f21a1a" stroke="#f21a1a" stroke-width="0.5"/>
<circle cx="291.5" cy="445.46" r="1.9" fill="#f21a1a" stroke="#f21a1a" stroke-width="0.5"/>
<circle cx="295" cy="442.33" r="1.9" fill="#f21a1a" stroke="#f21a1a" stroke-width="0.5"/>
<circle cx="298.5" cy="441.56" r="1.9" fill="#f21a1a" stroke="#f21a1a" stroke-width="0.5"/>
<circle cx="302" cy="438.93" r="1.9" fill="#f21a1a" stroke="#f21a1a" stroke-width="0.5"/>
<circle cx="305.5" cy="436.52" r="1.9" fill="#f21a1a" stroke="#f21a1a" stroke-width="0.5"/>
<circle cx="309" cy="435.73" r="1.9" fill="#f21a1a" stroke="#f21a1a" stroke-width="0.5"/>
<circle cx="312.5" cy="433.79" r="1.9" fill="#f21a1a" stroke="#f21a1a" stroke-width="0.5"/>
<circle cx="316" cy="433.04" r="1.9" fill="#f21a1a" stroke="#f21a1a" stroke-width="0.5"/>
<circle cx="319.5" cy="434.27" r="1.9" fill="#f21a1a" stroke="#f21a1a" stroke-width="0.5"/>
<circle cx="323" cy="434.24" r="1.9" fill="#f21a1a" stroke="#f21a1a" stroke-width="0.5"/>
<circle cx="326.5" cy="434.32" r="1.9" fill="#f21a1a" stroke="#f21a1a" stroke-width="0.5"/>
<circle cx="330" cy="431.32" r="1.9" fill="#f21a1a" stroke="#f21a1a" stroke-width="0.5"/>
<circle cx="333.5" cy="428.72" r="1.9" fill="#f21a1a" stroke="#f21a1a" stroke-width="0.5"/>
<circle cx="337" cy="425.64" r="1.9" fill="#f21a1a" stroke="#f21a1a" stroke-width="0.5"/>
<circle cx="340.5" cy="426.38" r="1.9" fill="#f21a1a" stroke="#f21a1a" stroke-width="0.5"/>
<circle cx="344" cy="425.35" r="1.9" fill="#f21a1a" stroke="#f21a1a" stroke-width="0.5"/>
<circle cx="347.5" cy="424.46" r="1.9" fill="#f21a1a" stroke="#f21a1a" stroke-width="0.5"/>
<circle cx="351" cy="424.91" r="1.9" fill="#f21a1a" stroke="#f21a1a" stroke-width="0.5"/>
<circle cx="354.5" cy="423.96" r="1.9" fill="#f21a1a" stroke="#f21a1a" stroke-width="0.5"/>
<circle cx="358" cy="421.49" r="1.9" fill="#f21a1a" stroke="#f21a1a" stroke-width="0.5"/>
<circle cx="361.5" cy="424.22" r="1.9" fill="#f21a1a" stroke="#f21a1a" stroke-width="0.5"/>
<circle cx="365" cy="424.06" r="1.9" fill="#f21a1a" stroke="#f21a1a" stroke-width="0.5"/>
<circle cx="368.5" cy="421.88" r="1.9" fill="#f21a1a" stroke="#f21a1a" stroke-width="0.5"/>
<circle cx="372" cy="419.22" r="1.9" fill="#f21a1a" stroke="#f21a1a" stroke-width="0.5"/>
<circle cx="375.5" cy="417.67" r="1.9" fill="#f21a1a" stroke="#f21a1a" stroke-width="0.5"/>
<circle cx="379" cy="414.73" r="1.9" fill="#f21a1a" stroke="#f21a1a" stroke-width="0.5"/>
<path d="M262.6,475.4 L264.9,477.7 L262.6,480 L260.3,477.7Z" fill="#1a8a1a" stroke="#1a8a1a" stroke-width="0.5"/>
<path d="M268.4,472.8 L270.7,475.1 L268.4,477.4 L266.1,475.1Z" fill="#1a8a1a" stroke="#1a8a1a" stroke-width="0.5"/>
<path d="M274.5,471.2 L276.8,473.5 L274.5,475.8 L272.2,473.5Z" fill="#1a8a1a" stroke="#1a8a1a" stroke-width="0.5"/>
<path d="M282,469.43 L284.3,471.73 L282,474.03 L279.7,471.73Z" fill="#1a8a1a" stroke="#1a8a1a" stroke-width="0.5"/>
<path d="M285.4,467.03 L287.7,469.33 L285.4,471.63 L283.1,469.33Z" fill="#1a8a1a" stroke="#1a8a1a" stroke-width="0.5"/>
<path d="M288.8,466.02 L291.1,468.32 L288.8,470.62 L286.5,468.32Z" fill="#1a8a1a" stroke="#1a8a1a" stroke-width="0.5"/>
<path d="M292.2,465.44 L294.5,467.74 L292.2,470.04 L289.9,467.74Z" fill="#1a8a1a" stroke="#1a8a1a" stroke-width="0.5"/>
<path d="M295.6,463.38 L297.9,465.68 L295.6,467.98 L293.3,465.68Z" fill="#1a8a1a" stroke="#1a8a1a" stroke-width="0.5"/>
<path d="M299,462.37 L301.3,464.67 L299,466.97 L296.7,464.67Z" fill="#1a8a1a" stroke="#1a8a1a" stroke-width="0.5"/>
<path d="M302.4,460.98 L304.7,463.28 L302.4,465.58 L300.1,463.28Z" fill="#1a8a1a" stroke="#1a8a1a" stroke-width="0.5"/>
<path d="M305.8,461.6 L308.1,463.9 L305.8,466.2 L303.5,463.9Z" fill="#1a8a1a" stroke="#1a8a1a" stroke-width="0.5"/>
<path d="M309.2,460.44 L311.5,462.74 L309.2,465.04 L306.9,462.74Z" fill="#1a8a1a" stroke="#1a8a1a" stroke-width="0.5"/>
<path d="M312.6,459.36 L314.9,461.66 L312.6,463.96 L310.3,461.66Z" fill="#1a8a1a" stroke="#1a8a1a" stroke-width="0.5"/>
<path d="M316,458.42 L318.3,460.72 L316,463.02 L313.7,460.72Z" fill="#1a8a1a" stroke="#1a8a1a" stroke-width="0.5"/>
<path d="M319.4,457.32 L321.7,459.62 L319.4,461.92 L317.1,459.62Z" fill="#1a8a1a" stroke="#1a8a1a" stroke-width="0.5"/>
<path d="M322.8,456.49 L325.1,458.79 L322.8,461.09 L320.5,458.79Z" fill="#1a8a1a" stroke="#1a8a1a" stroke-width="0.5"/>
<path d="M326.2,456.16 L328.5,458.46 L326.2,460.76 L323.9,458.46Z" fill="#1a8a1a" stroke="#1a8a1a" stroke-width="0.5"/>
<path d="M329.6,455.03 L331.9,457.33 L329.6,459.63 L327.3,457.33Z" fill="#1a8a1a" stroke="#1a8a1a" stroke-width="0.5"/>
<path d="M333,455.71 L335.3,458.01 L333,460.31 L330.7,458.01Z" fill="#1a8a1a" stroke="#1a8a1a" stroke-width="0.5"/>
<path d="M336.4,455.2 L338.7,457.5 L336.4,459.8 L334.1,457.5Z" fill="#1a8a1a" stroke="#1a8a1a" stroke-width="0.5"/>
<path d="M339.8,455.23 L342.1,457.53 L339.8,459.83 L337.5,457.53Z" fill="#1a8a1a" stroke="#1a8a1a" stroke-width="0.5"/>
<path d="M343.2,455.95 L345.5,458.25 L343.2,460.55 L340.9,458.25Z" fill="#1a8a1a" stroke="#1a8a1a" stroke-width="0.5"/>
<path d="M346.6,454.62 L348.9,456.92 L346.6,459.22 L344.3,456.92Z" fill="#1a8a1a" stroke="#1a8a1a" stroke-width="0.5"/>
<path d="M350.2,446.3 L352.5,448.6 L350.2,450.9 L347.9,448.6Z" fill="#1a8a1a" stroke="#1a8a1a" stroke-width="0.5"/>
<path d="M354.3,450.4 L356.6,452.7 L354.3,455 L352,452.7Z" fill="#1a8a1a" stroke="#1a8a1a" stroke-width="0.5"/>
<path d="M359.5,446.9 L361.8,449.2 L359.5,451.5 L357.2,449.2Z" fill="#1a8a1a" stroke="#1a8a1a" stroke-width="0.5"/>
<path d="M361.5,451 L363.8,453.3 L361.5,455.6 L359.2,453.3Z" fill="#1a8a1a" stroke="#1a8a1a" stroke-width="0.5"/>
<path d="M365.6,446.9 L367.9,449.2 L365.6,451.5 L363.3,449.2Z" fill="#1a8a1a" stroke="#1a8a1a" stroke-width="0.5"/>
<path d="M370.7,446.9 L373,449.2 L370.7,451.5 L368.4,449.2Z" fill="#1a8a1a" stroke="#1a8a1a" stroke-width="0.5"/>
<path d="M371.8,452 L374.1,454.3 L371.8,456.6 L369.5,454.3Z" fill="#1a8a1a" stroke="#1a8a1a" stroke-width="0.5"/>
<path d="M376.9,449 L379.2,451.3 L376.9,453.6 L374.6,451.3Z" fill="#1a8a1a" stroke="#1a8a1a" stroke-width="0.5"/>
<path d="M264.14,483.4 L264.14,487.8 L260.4,485.6Z" fill="#101090" stroke="#101090" stroke-width="0.5"/>
<path d="M269.94,481.2 L269.94,485.6 L266.2,483.4Z" fill="#101090" stroke="#101090" stroke-width="0.5"/>
<path d="M276.04,479.3 L276.04,483.7 L272.3,481.5Z" fill="#101090" stroke="#101090" stroke-width="0.5"/>
<path d="M283.54,477.02 L283.54,481.42 L279.8,479.22Z" fill="#101090" stroke="#101090" stroke-width="0.5"/>
<path d="M286.94,475.65 L286.94,480.05 L283.2,477.85Z" fill="#101090" stroke="#101090" stroke-width="0.5"/>
<path d="M290.34,473.94 L290.34,478.34 L286.6,476.14Z" fill="#101090" stroke="#101090" stroke-width="0.5"/>
<path d="M293.74,474.07 L293.74,478.47 L290,476.27Z" fill="#101090" stroke="#101090" stroke-width="0.5"/>
<path d="M297.14,472.33 L297.14,476.73 L293.4,474.53Z" fill="#101090" stroke="#101090" stroke-width="0.5"/>
<path d="M300.54,472.32 L300.54,476.72 L296.8,474.52Z" fill="#101090" stroke="#101090" stroke-width="0.5"/>
<path d="M303.94,470.47 L303.94,474.87 L300.2,472.67Z" fill="#101090" stroke="#101090" stroke-width="0.5"/>
<path d="M307.34,469.62 L307.34,474.02 L303.6,471.82Z" fill="#101090" stroke="#101090" stroke-width="0.5"/>
<path d="M310.74,469.76 L310.74,474.16 L307,471.96Z" fill="#101090" stroke="#101090" stroke-width="0.5"/>
<path d="M314.14,469.08 L314.14,473.48 L310.4,471.28Z" fill="#101090" stroke="#101090" stroke-width="0.5"/>
<path d="M317.54,468.23 L317.54,472.63 L313.8,470.43Z" fill="#101090" stroke="#101090" stroke-width="0.5"/>
<path d="M320.94,466.83 L320.94,471.23 L317.2,469.03Z" fill="#101090" stroke="#101090" stroke-width="0.5"/>
<path d="M324.34,466.77 L324.34,471.17 L320.6,468.97Z" fill="#101090" stroke="#101090" stroke-width="0.5"/>
<path d="M327.74,464.8 L327.74,469.2 L324,467Z" fill="#101090" stroke="#101090" stroke-width="0.5"/>
<path d="M331.14,464.18 L331.14,468.58 L327.4,466.38Z" fill="#101090" stroke="#101090" stroke-width="0.5"/>
<path d="M337.44,466.5 L337.44,470.9 L333.7,468.7Z" fill="#101090" stroke="#101090" stroke-width="0.5"/>
<path d="M350.74,457.3 L350.74,461.7 L347,459.5Z" fill="#101090" stroke="#101090" stroke-width="0.5"/>
<path d="M361.04,455.2 L361.04,459.6 L357.3,457.4Z" fill="#101090" stroke="#101090" stroke-width="0.5"/>
<path d="M366.14,455.2 L366.14,459.6 L362.4,457.4Z" fill="#101090" stroke="#101090" stroke-width="0.5"/>
<path d="M372.24,456.3 L372.24,460.7 L368.5,458.5Z" fill="#101090" stroke="#101090" stroke-width="0.5"/>
<path d="M350.16,466.9 L350.16,472.5 L345.4,469.7Z" fill="none" stroke="#101090" stroke-width="1.0"/>
<path d="M260.4,492.96 L264.8,492.96 L262.6,496.7Z" fill="#f020f0" stroke="#f020f0" stroke-width="0.5"/>
<path d="M266.2,490.76 L270.6,490.76 L268.4,494.5Z" fill="#f020f0" stroke="#f020f0" stroke-width="0.5"/>
<path d="M272.3,488.46 L276.7,488.46 L274.5,492.2Z" fill="#f020f0" stroke="#f020f0" stroke-width="0.5"/>
<path d="M279.8,486.64 L284.2,486.64 L282,490.38Z" fill="#f020f0" stroke="#f020f0" stroke-width="0.5"/>
<path d="M283.2,485.39 L287.6,485.39 L285.4,489.13Z" fill="#f020f0" stroke="#f020f0" stroke-width="0.5"/>
<path d="M286.6,484.47 L291,484.47 L288.8,488.21Z" fill="#f020f0" stroke="#f020f0" stroke-width="0.5"/>
<path d="M290,482.46 L294.4,482.46 L292.2,486.2Z" fill="#f020f0" stroke="#f020f0" stroke-width="0.5"/>
<path d="M293.4,481.52 L297.8,481.52 L295.6,485.26Z" fill="#f020f0" stroke="#f020f0" stroke-width="0.5"/>
<path d="M296.8,480.15 L301.2,480.15 L299,483.89Z" fill="#f020f0" stroke="#f020f0" stroke-width="0.5"/>
<path d="M300.2,478.17 L304.6,478.17 L302.4,481.91Z" fill="#f020f0" stroke="#f020f0" stroke-width="0.5"/>
<path d="M303.6,477.53 L308,477.53 L305.8,481.27Z" fill="#f020f0" stroke="#f020f0" stroke-width="0.5"/>
<path d="M307,476.99 L311.4,476.99 L309.2,480.73Z" fill="#f020f0" stroke="#f020f0" stroke-width="0.5"/>
<path d="M310.4,476.05 L314.8,476.05 L312.6,479.79Z" fill="#f020f0" stroke="#f020f0" stroke-width="0.5"/>
<path d="M313.8,475.58 L318.2,475.58 L316,479.32Z" fill="#f020f0" stroke="#f020f0" stroke-width="0.5"/>
<path d="M317.2,473.86 L321.6,473.86 L319.4,477.6Z" fill="#f020f0" stroke="#f020f0" stroke-width="0.5"/>
<path d="M320.6,474.09 L325,474.09 L322.8,477.83Z" fill="#f020f0" stroke="#f020f0" stroke-width="0.5"/>
<path d="M324,473.66 L328.4,473.66 L326.2,477.4Z" fill="#f020f0" stroke="#f020f0" stroke-width="0.5"/>
<path d="M327.4,473.29 L331.8,473.29 L329.6,477.03Z" fill="#f020f0" stroke="#f020f0" stroke-width="0.5"/>
<path d="M330.8,472.81 L335.2,472.81 L333,476.55Z" fill="#f020f0" stroke="#f020f0" stroke-width="0.5"/>
<path d="M334.2,473.36 L338.6,473.36 L336.4,477.1Z" fill="#f020f0" stroke="#f020f0" stroke-width="0.5"/>
<path d="M339.8,470.26 L344.2,470.26 L342,474Z" fill="#f020f0" stroke="#f020f0" stroke-width="0.5"/>
<path d="M348,468.16 L352.4,468.16 L350.2,471.9Z" fill="#f020f0" stroke="#f020f0" stroke-width="0.5"/>
<path d="M353.2,466.16 L357.6,466.16 L355.4,469.9Z" fill="#f020f0" stroke="#f020f0" stroke-width="0.5"/>
<path d="M359.3,465.16 L363.7,465.16 L361.5,468.9Z" fill="#f020f0" stroke="#f020f0" stroke-width="0.5"/>
<path d="M363.4,464.66 L367.8,464.66 L365.6,468.4Z" fill="#f020f0" stroke="#f020f0" stroke-width="0.5"/>
<path d="M369.6,464.06 L374,464.06 L371.8,467.8Z" fill="#f020f0" stroke="#f020f0" stroke-width="0.5"/>
<path d="M374.7,463.06 L379.1,463.06 L376.9,466.8Z" fill="#f020f0" stroke="#f020f0" stroke-width="0.5"/>
<path d="M345.4,475.94 L351,475.94 L348.2,480.7Z" fill="none" stroke="#f020f0" stroke-width="1.0"/>
<path d="M344.56,501.4 L344.56,505.8 L348.3,503.6Z" fill="#9020d0" stroke="#9020d0" stroke-width="0.5"/>
<path d="M347.66,501.8 L347.66,506.2 L351.4,504Z" fill="#9020d0" stroke="#9020d0" stroke-width="0.5"/>
<path d="M351.76,498.3 L351.76,502.7 L355.5,500.5Z" fill="#9020d0" stroke="#9020d0" stroke-width="0.5"/>
<path d="M354.86,497.3 L354.86,501.7 L358.6,499.5Z" fill="#9020d0" stroke="#9020d0" stroke-width="0.5"/>
<path d="M358.96,496.2 L358.96,500.6 L362.7,498.4Z" fill="#9020d0" stroke="#9020d0" stroke-width="0.5"/>
<path d="M364.06,495.2 L364.06,499.6 L367.8,497.4Z" fill="#9020d0" stroke="#9020d0" stroke-width="0.5"/>
<path d="M370.26,494.8 L370.26,499.2 L374,497Z" fill="#9020d0" stroke="#9020d0" stroke-width="0.5"/>
<path d="M375.36,493.2 L375.36,497.6 L379.1,495.4Z" fill="#9020d0" stroke="#9020d0" stroke-width="0.5"/>
<path d="M378.46,492.1 L378.46,496.5 L382.2,494.3Z" fill="#9020d0" stroke="#9020d0" stroke-width="0.5"/>
<path d="M346.24,506.9 L346.24,512.5 L351,509.7Z" fill="none" stroke="#f020f0" stroke-width="1.0"/>
<text x="385.5" y="392" font-size="7.2" text-anchor="start" font-weight="normal" fill="#333" font-family='"Liberation Sans", sans-serif' >A*</text>
<text x="384.4" y="404.5" font-size="6.9" text-anchor="start" font-weight="normal" fill="#333" font-family='"Liberation Sans", sans-serif'  textLength="36.3" lengthAdjust="spacingAndGlyphs">A<tspan dy="1.8" font-size="3.6">1g</tspan><tspan dy="-1.8">(WS</tspan><tspan dy="1.8" font-size="3.6">2</tspan><tspan dy="-1.8">-like)</tspan></text>
<text x="381.6" y="421.8" font-size="6.9" text-anchor="start" font-weight="normal" fill="#333" font-family='"Liberation Sans", sans-serif'  textLength="39.2" lengthAdjust="spacingAndGlyphs">A<tspan dy="1.8" font-size="3.6">1g</tspan><tspan dy="-1.8">(MoS</tspan><tspan dy="1.8" font-size="3.6">2</tspan><tspan dy="-1.8">-like)</tspan></text>
<text x="382.1" y="448.5" font-size="6.9" text-anchor="start" font-weight="normal" fill="#333" font-family='"Liberation Sans", sans-serif'  textLength="38.7" lengthAdjust="spacingAndGlyphs">E<tspan dy="1.8" font-size="3.6">2g</tspan><tspan dy="-1.8">(MoS</tspan><tspan dy="1.8" font-size="3.6">2</tspan><tspan dy="-1.8">-like)</tspan></text>
<text x="384.2" y="460.3" font-size="7.2" text-anchor="start" font-weight="normal" fill="#333" font-family='"Liberation Sans", sans-serif' >DALA</text>
<text x="382.1" y="470.8" font-size="6.9" text-anchor="start" font-weight="normal" fill="#333" font-family='"Liberation Sans", sans-serif'  textLength="37" lengthAdjust="spacingAndGlyphs">E<tspan dy="1.8" font-size="3.6">1g</tspan><tspan dy="-1.8">(WS</tspan><tspan dy="1.8" font-size="3.6">2</tspan><tspan dy="-1.8">-like)</tspan></text>
<text x="387.6" y="497.5" font-size="7.5" text-anchor="start" font-weight="normal" fill="#333" font-family='"Liberation Sans", sans-serif' >A†</text>
</svg></body></html>
